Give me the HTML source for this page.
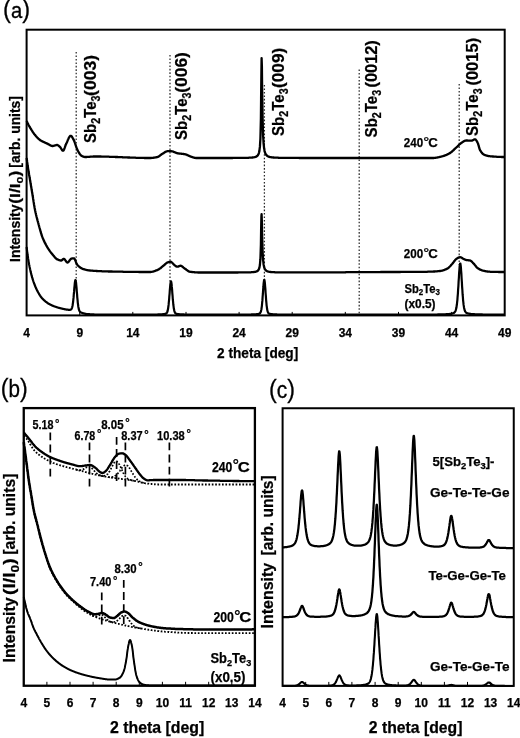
<!DOCTYPE html>
<html lang="en">
<head>
<meta charset="utf-8">
<title>XRD figure</title>
<style>
html,body{margin:0;padding:0;background:#fff;}
body{width:520px;height:738px;overflow:hidden;}
svg{display:block;filter:blur(0.3px);}
text{font-family:"Liberation Sans",sans-serif;fill:#000;}
text[font-weight="700"]{stroke:#000;stroke-width:0.25px;}
</style>
</head>
<body>
<svg width="520" height="738" viewBox="0 0 520 738">
<rect width="520" height="738" fill="#fff"/>
<g id="panel-a">
<line x1="76.2" y1="52.0" x2="76.2" y2="281.0" stroke="#2a2a2a" stroke-width="1.25" stroke-dasharray="1.6 1.86"/>
<line x1="170.0" y1="55.0" x2="170.0" y2="283.0" stroke="#2a2a2a" stroke-width="1.25" stroke-dasharray="1.6 1.86"/>
<line x1="264.4" y1="85.0" x2="264.4" y2="281.0" stroke="#2a2a2a" stroke-width="1.25" stroke-dasharray="1.6 1.86"/>
<line x1="359.2" y1="69.5" x2="359.2" y2="315.4" stroke="#2a2a2a" stroke-width="1.25" stroke-dasharray="1.6 1.86"/>
<line x1="459.2" y1="84.0" x2="459.2" y2="265.0" stroke="#2a2a2a" stroke-width="1.25" stroke-dasharray="1.6 1.86"/>
<path d="M26.6,121.0 L26.9,121.6 L27.1,122.2 L27.4,122.7 L27.6,123.3 L27.9,123.7 L28.1,124.2 L28.4,124.7 L28.6,125.1 L28.9,125.6 L29.1,126.0 L29.4,126.4 L29.6,126.8 L29.9,127.2 L30.1,127.7 L30.4,128.1 L30.6,128.5 L30.9,128.9 L31.1,129.3 L31.4,129.7 L31.6,130.1 L31.9,130.5 L32.1,130.9 L32.4,131.3 L32.6,131.7 L32.9,132.1 L33.1,132.4 L33.4,132.8 L33.6,133.2 L33.9,133.5 L34.1,133.9 L34.4,134.2 L34.6,134.5 L34.9,134.8 L35.1,135.1 L35.4,135.4 L35.6,135.7 L35.9,136.0 L36.1,136.3 L36.4,136.6 L36.6,136.9 L36.9,137.1 L37.1,137.4 L37.4,137.7 L37.6,137.9 L37.9,138.2 L38.1,138.4 L38.4,138.7 L38.6,138.9 L38.9,139.1 L39.1,139.3 L39.4,139.5 L39.6,139.7 L39.9,139.9 L40.1,140.1 L40.4,140.2 L40.6,140.4 L40.9,140.5 L41.1,140.7 L41.4,140.8 L41.6,141.0 L41.9,141.1 L42.1,141.3 L42.4,141.4 L42.6,141.5 L42.9,141.6 L43.1,141.8 L43.4,141.9 L43.6,142.0 L43.9,142.1 L44.1,142.2 L44.4,142.3 L44.6,142.5 L44.9,142.6 L45.1,142.7 L45.4,142.8 L45.6,142.9 L45.9,143.0 L46.1,143.1 L46.4,143.2 L46.6,143.3 L46.9,143.4 L47.1,143.6 L47.4,143.7 L47.6,143.8 L47.9,143.9 L48.1,144.1 L48.4,144.2 L48.6,144.3 L48.9,144.5 L49.1,144.6 L49.4,144.8 L49.6,144.9 L49.9,145.1 L50.1,145.2 L50.4,145.4 L50.6,145.5 L50.9,145.6 L51.1,145.7 L51.4,145.8 L51.6,145.9 L51.9,145.9 L52.1,146.0 L52.4,146.0 L52.6,146.0 L52.9,146.0 L53.1,146.0 L53.4,145.9 L53.6,145.8 L53.9,145.8 L54.1,145.7 L54.4,145.6 L54.6,145.5 L54.9,145.5 L55.1,145.4 L55.4,145.3 L55.6,145.2 L55.9,145.2 L56.1,145.1 L56.4,145.1 L56.6,145.0 L56.9,145.0 L57.1,145.0 L57.4,145.0 L57.6,145.1 L57.9,145.2 L58.1,145.4 L58.4,145.6 L58.6,145.8 L58.9,146.0 L59.1,146.2 L59.4,146.4 L59.6,146.6 L59.9,146.9 L60.1,147.1 L60.4,147.4 L60.6,147.7 L60.9,148.1 L61.1,148.5 L61.4,148.9 L61.6,149.4 L61.9,149.8 L62.1,150.1 L62.4,150.4 L62.6,150.6 L62.9,150.7 L63.1,150.7 L63.4,150.6 L63.6,150.3 L63.9,149.9 L64.1,149.4 L64.3,148.8 L64.6,148.1 L64.8,147.4 L65.1,146.7 L65.3,146.0 L65.6,145.3 L65.8,144.6 L66.1,144.1 L66.3,143.6 L66.6,143.0 L66.8,142.5 L67.1,141.9 L67.3,141.3 L67.6,140.7 L67.8,140.1 L68.1,139.5 L68.3,139.0 L68.6,138.4 L68.8,137.9 L69.1,137.4 L69.3,137.0 L69.6,136.6 L69.8,136.3 L70.1,136.0 L70.3,135.9 L70.6,135.8 L70.8,135.8 L71.1,135.8 L71.3,136.0 L71.6,136.3 L71.8,136.6 L72.1,136.9 L72.3,137.4 L72.6,137.8 L72.8,138.3 L73.1,138.8 L73.3,139.2 L73.6,139.7 L73.8,140.2 L74.1,140.7 L74.3,141.3 L74.6,142.0 L74.8,142.6 L75.1,143.4 L75.3,144.1 L75.6,144.9 L75.8,145.7 L76.1,146.4 L76.3,147.2 L76.6,147.9 L76.8,148.5 L77.1,149.1 L77.3,149.7 L77.6,150.2 L77.8,150.7 L78.1,151.1 L78.3,151.6 L78.6,152.0 L78.8,152.5 L79.1,152.9 L79.3,153.3 L79.6,153.7 L79.8,154.0 L80.1,154.4 L80.3,154.7 L80.6,155.0 L80.8,155.2 L81.1,155.4 L81.3,155.6 L81.6,155.7 L81.8,155.9 L82.1,156.0 L82.3,156.2 L82.6,156.3 L82.8,156.4 L83.1,156.5 L83.3,156.6 L83.6,156.7 L83.8,156.8 L84.1,156.9 L84.3,156.9 L84.6,157.0 L84.8,157.0 L85.1,157.0 L85.3,157.0 L85.6,157.0 L85.8,157.0 L86.1,157.0 L86.3,157.0 L86.6,157.0 L86.8,157.0 L87.1,156.9 L87.3,156.9 L87.6,156.9 L87.8,156.9 L88.1,156.9 L88.3,156.9 L88.6,156.9 L88.8,156.8 L89.1,156.8 L89.3,156.8 L89.6,156.8 L89.8,156.8 L90.1,156.7 L90.3,156.7 L90.6,156.7 L90.8,156.7 L91.1,156.7 L91.3,156.6 L91.6,156.6 L91.8,156.6 L92.1,156.6 L92.3,156.6 L92.6,156.6 L92.8,156.6 L93.1,156.5 L93.3,156.5 L93.6,156.5 L93.8,156.5 L94.1,156.5 L94.3,156.5 L94.6,156.5 L94.8,156.5 L95.1,156.5 L95.3,156.5 L95.6,156.5 L95.8,156.5 L96.1,156.5 L96.3,156.5 L96.6,156.5 L96.8,156.5 L97.1,156.5 L97.3,156.5 L97.6,156.5 L97.8,156.5 L98.1,156.5 L98.3,156.5 L98.6,156.5 L98.8,156.5 L99.1,156.5 L99.3,156.5 L99.6,156.5 L99.8,156.5 L100.1,156.5 L100.3,156.5 L100.6,156.5 L100.8,156.5 L101.1,156.5 L101.3,156.6 L101.6,156.6 L101.8,156.6 L102.1,156.6 L102.3,156.6 L102.6,156.6 L102.8,156.6 L103.1,156.6 L103.3,156.6 L103.6,156.6 L103.8,156.6 L104.1,156.6 L104.3,156.6 L104.6,156.6 L104.8,156.6 L105.1,156.6 L105.3,156.6 L105.6,156.6 L105.8,156.7 L106.1,156.7 L106.3,156.7 L106.6,156.7 L106.8,156.7 L107.1,156.7 L107.3,156.7 L107.6,156.7 L107.8,156.7 L108.1,156.7 L108.3,156.7 L108.6,156.7 L108.8,156.7 L109.1,156.7 L109.3,156.8 L109.6,156.8 L109.8,156.8 L110.1,156.8 L110.3,156.8 L110.6,156.8 L110.8,156.8 L111.1,156.8 L111.3,156.8 L111.6,156.8 L111.8,156.8 L112.1,156.8 L112.3,156.9 L112.6,156.9 L112.8,156.9 L113.1,156.9 L113.3,156.9 L113.6,156.9 L113.8,156.9 L114.1,156.9 L114.3,156.9 L114.6,156.9 L114.8,156.9 L115.1,157.0 L115.3,157.0 L115.6,157.0 L115.8,157.0 L116.1,157.0 L116.3,157.0 L116.6,157.0 L116.8,157.0 L117.1,157.0 L117.3,157.0 L117.6,157.0 L117.8,157.1 L118.1,157.1 L118.3,157.1 L118.6,157.1 L118.8,157.1 L119.1,157.1 L119.3,157.1 L119.6,157.1 L119.8,157.1 L120.1,157.1 L120.3,157.2 L120.6,157.2 L120.8,157.2 L121.1,157.2 L121.3,157.2 L121.6,157.2 L121.8,157.2 L122.1,157.2 L122.3,157.2 L122.6,157.3 L122.8,157.3 L123.1,157.3 L123.3,157.3 L123.6,157.3 L123.8,157.3 L124.1,157.3 L124.3,157.3 L124.6,157.3 L124.8,157.3 L125.1,157.4 L125.3,157.4 L125.6,157.4 L125.8,157.4 L126.1,157.4 L126.3,157.4 L126.6,157.4 L126.8,157.4 L127.1,157.4 L127.3,157.4 L127.6,157.5 L127.8,157.5 L128.1,157.5 L128.3,157.5 L128.6,157.5 L128.8,157.5 L129.1,157.5 L129.3,157.5 L129.6,157.5 L129.8,157.5 L130.1,157.6 L130.3,157.6 L130.6,157.6 L130.8,157.6 L131.1,157.6 L131.3,157.6 L131.6,157.6 L131.8,157.6 L132.1,157.6 L132.3,157.6 L132.6,157.6 L132.8,157.7 L133.1,157.7 L133.3,157.7 L133.6,157.7 L133.8,157.7 L134.1,157.7 L134.3,157.7 L134.6,157.7 L134.8,157.7 L135.1,157.7 L135.3,157.7 L135.6,157.7 L135.8,157.8 L136.1,157.8 L136.3,157.8 L136.6,157.8 L136.8,157.8 L137.1,157.8 L137.3,157.8 L137.6,157.8 L137.8,157.8 L138.1,157.8 L138.3,157.8 L138.6,157.8 L138.8,157.8 L139.1,157.8 L139.3,157.9 L139.6,157.9 L139.8,157.9 L140.1,157.9 L140.3,157.9 L140.6,157.9 L140.8,157.9 L141.1,157.9 L141.3,157.9 L141.6,157.9 L141.8,157.9 L142.1,157.9 L142.3,157.9 L142.6,157.9 L142.8,157.9 L143.1,157.9 L143.3,157.9 L143.6,157.9 L143.8,157.9 L144.1,157.9 L144.3,158.0 L144.6,158.0 L144.8,158.0 L145.1,158.0 L145.3,158.0 L145.6,158.0 L145.8,158.0 L146.1,158.0 L146.3,158.0 L146.6,158.0 L146.8,158.0 L147.1,158.0 L147.3,158.0 L147.6,158.0 L147.8,158.0 L148.1,158.0 L148.3,158.0 L148.6,158.0 L148.8,158.0 L149.1,158.0 L149.3,158.0 L149.6,158.0 L149.8,158.0 L150.1,158.0 L150.3,158.0 L150.6,158.0 L150.8,158.0 L151.1,158.0 L151.3,158.0 L151.6,157.9 L151.8,157.9 L152.1,157.9 L152.3,157.9 L152.6,157.9 L152.8,157.8 L153.1,157.8 L153.3,157.8 L153.6,157.7 L153.8,157.7 L154.1,157.7 L154.3,157.6 L154.6,157.6 L154.8,157.5 L155.1,157.5 L155.3,157.4 L155.6,157.4 L155.8,157.4 L156.1,157.3 L156.3,157.3 L156.6,157.2 L156.8,157.1 L157.1,157.1 L157.3,157.0 L157.6,157.0 L157.8,156.9 L158.1,156.8 L158.3,156.7 L158.6,156.5 L158.8,156.4 L159.1,156.2 L159.3,156.1 L159.6,155.9 L159.8,155.7 L160.1,155.5 L160.3,155.3 L160.6,155.1 L160.8,154.9 L161.1,154.7 L161.3,154.5 L161.6,154.3 L161.8,154.2 L162.1,154.0 L162.3,153.8 L162.6,153.7 L162.8,153.5 L163.1,153.4 L163.3,153.2 L163.6,153.1 L163.8,152.9 L164.1,152.7 L164.3,152.6 L164.6,152.4 L164.8,152.2 L165.1,152.1 L165.3,151.9 L165.6,151.8 L165.8,151.7 L166.1,151.6 L166.3,151.5 L166.6,151.4 L166.8,151.3 L167.1,151.3 L167.3,151.2 L167.6,151.2 L167.8,151.2 L168.1,151.2 L168.3,151.2 L168.6,151.2 L168.8,151.2 L169.1,151.2 L169.3,151.2 L169.6,151.2 L169.8,151.2 L170.1,151.2 L170.3,151.2 L170.6,151.2 L170.8,151.2 L171.1,151.2 L171.3,151.2 L171.6,151.3 L171.8,151.3 L172.1,151.3 L172.3,151.4 L172.6,151.4 L172.8,151.5 L173.1,151.6 L173.3,151.7 L173.6,151.8 L173.8,151.9 L174.1,152.0 L174.3,152.1 L174.6,152.2 L174.8,152.3 L175.1,152.4 L175.3,152.5 L175.6,152.6 L175.8,152.7 L176.1,152.8 L176.3,152.9 L176.6,153.0 L176.8,153.1 L177.1,153.2 L177.3,153.2 L177.6,153.3 L177.8,153.3 L178.1,153.4 L178.3,153.4 L178.6,153.4 L178.8,153.5 L179.1,153.5 L179.3,153.5 L179.6,153.6 L179.8,153.6 L180.1,153.6 L180.3,153.6 L180.6,153.7 L180.8,153.7 L181.1,153.7 L181.3,153.7 L181.6,153.8 L181.8,153.8 L182.1,153.8 L182.3,153.8 L182.6,153.9 L182.8,153.9 L183.1,153.9 L183.3,154.0 L183.6,154.0 L183.8,154.0 L184.1,154.1 L184.3,154.1 L184.6,154.2 L184.8,154.2 L185.1,154.3 L185.3,154.3 L185.6,154.4 L185.8,154.5 L186.1,154.6 L186.3,154.6 L186.6,154.7 L186.8,154.8 L187.1,154.9 L187.3,155.1 L187.6,155.2 L187.8,155.3 L188.1,155.4 L188.3,155.5 L188.6,155.6 L188.8,155.8 L189.1,155.9 L189.3,156.0 L189.6,156.1 L189.8,156.2 L190.1,156.3 L190.3,156.4 L190.6,156.5 L190.8,156.6 L191.1,156.7 L191.3,156.8 L191.6,156.9 L191.8,156.9 L192.1,157.0 L192.3,157.1 L192.6,157.2 L192.8,157.3 L193.1,157.4 L193.3,157.4 L193.6,157.5 L193.8,157.6 L194.1,157.7 L194.3,157.7 L194.6,157.8 L194.8,157.8 L195.1,157.9 L195.3,157.9 L195.6,158.0 L195.8,158.0 L196.1,158.0 L196.3,158.0 L196.6,158.0 L196.8,158.0 L197.1,158.0 L197.3,158.0 L197.6,158.0 L197.8,158.0 L198.1,158.0 L198.3,158.0 L198.6,158.0 L198.8,158.0 L199.1,158.0 L199.3,158.0 L199.6,158.0 L199.8,158.0 L200.1,158.0 L200.3,158.0 L200.6,158.0 L200.8,158.0 L201.1,158.0 L201.3,158.0 L201.6,158.0 L201.8,158.0 L202.1,158.0 L202.3,158.0 L202.6,158.0 L202.8,158.0 L203.1,158.0 L203.3,158.0 L203.6,158.0 L203.8,158.0 L204.1,158.0 L204.3,158.0 L204.6,158.0 L204.8,158.0 L205.1,158.0 L205.3,158.0 L205.6,158.0 L205.8,158.0 L206.1,158.0 L206.3,158.0 L206.6,158.0 L206.8,158.0 L207.1,158.0 L207.3,158.0 L207.6,158.0 L207.8,158.0 L208.1,158.0 L208.3,158.0 L208.6,158.0 L208.8,158.0 L209.1,158.0 L209.3,158.0 L209.6,158.0 L209.8,158.0 L210.1,158.0 L210.3,158.0 L210.6,158.0 L210.8,158.0 L211.1,158.0 L211.3,158.0 L211.6,158.0 L211.8,158.0 L212.1,158.0 L212.3,158.0 L212.6,158.0 L212.8,158.0 L213.1,158.0 L213.3,158.0 L213.6,158.0 L213.8,158.0 L214.1,158.0 L214.3,158.0 L214.6,158.0 L214.8,158.0 L215.1,158.0 L215.3,158.0 L215.6,158.0 L215.8,158.0 L216.1,158.0 L216.3,158.0 L216.6,158.0 L216.8,158.0 L217.1,158.0 L217.3,158.0 L217.6,158.0 L217.8,158.0 L218.1,158.0 L218.3,158.0 L218.6,158.0 L218.8,158.0 L219.1,158.0 L219.3,158.0 L219.6,158.0 L219.8,158.0 L220.1,158.0 L220.3,158.0 L220.6,158.0 L220.8,158.0 L221.1,158.0 L221.3,158.0 L221.6,158.0 L221.8,158.0 L222.1,158.0 L222.3,158.0 L222.6,158.0 L222.8,158.0 L223.1,158.0 L223.3,158.0 L223.6,158.0 L223.8,158.0 L224.1,158.0 L224.3,158.0 L224.6,158.0 L224.8,158.0 L225.1,158.0 L225.3,158.0 L225.6,158.0 L225.8,158.0 L226.1,158.0 L226.3,158.0 L226.6,158.0 L226.8,158.0 L227.1,158.0 L227.3,158.0 L227.6,158.0 L227.8,158.0 L228.1,158.0 L228.3,158.0 L228.6,158.0 L228.8,158.0 L229.1,158.0 L229.3,158.0 L229.6,158.0 L229.8,158.0 L230.1,158.0 L230.3,158.0 L230.6,158.0 L230.8,158.0 L231.1,158.0 L231.3,158.0 L231.6,158.0 L231.8,158.0 L232.1,158.0 L232.3,158.0 L232.6,158.0 L232.8,157.9 L233.1,157.9 L233.3,157.9 L233.6,157.9 L233.8,157.9 L234.1,157.9 L234.3,157.9 L234.6,157.9 L234.8,157.9 L235.1,157.9 L235.3,157.9 L235.6,157.9 L235.8,157.9 L236.1,157.9 L236.3,157.9 L236.6,157.9 L236.8,157.9 L237.1,157.9 L237.3,157.9 L237.6,157.9 L237.8,157.9 L238.1,157.9 L238.3,157.9 L238.6,157.9 L238.8,157.9 L239.1,157.9 L239.3,157.9 L239.6,157.9 L239.8,157.9 L240.1,157.9 L240.3,157.9 L240.6,157.9 L240.8,157.9 L241.1,157.9 L241.3,157.9 L241.6,157.9 L241.8,157.9 L242.1,157.9 L242.3,157.9 L242.6,157.9 L242.8,157.9 L243.1,157.9 L243.3,157.9 L243.6,157.9 L243.8,157.9 L244.1,157.9 L244.3,157.9 L244.6,157.9 L244.8,157.9 L245.1,157.8 L245.3,157.8 L245.6,157.8 L245.8,157.8 L246.1,157.8 L246.3,157.8 L246.6,157.8 L246.8,157.8 L247.1,157.8 L247.3,157.8 L247.6,157.8 L247.8,157.8 L248.1,157.8 L248.3,157.8 L248.6,157.8 L248.8,157.7 L249.1,157.7 L249.3,157.7 L249.6,157.7 L249.8,157.7 L250.1,157.7 L250.3,157.7 L250.6,157.7 L250.8,157.6 L251.1,157.6 L251.3,157.6 L251.6,157.6 L251.8,157.6 L252.1,157.5 L252.3,157.5 L252.6,157.5 L252.8,157.5 L253.1,157.4 L253.3,157.4 L253.6,157.4 L253.8,157.3 L254.1,157.3 L254.3,157.2 L254.6,157.2 L254.8,157.1 L255.1,157.0 L255.3,157.0 L255.6,156.9 L255.8,156.8 L256.1,156.7 L256.4,156.5 L256.6,156.4 L256.9,156.2 L257.1,156.0 L257.4,155.8 L257.6,155.5 L257.9,155.2 L258.1,154.8 L258.4,154.4 L258.6,153.8 L258.9,153.1 L259.1,152.1 L259.4,150.9 L259.6,149.2 L259.9,146.9 L260.1,143.6 L260.4,138.7 L260.6,131.0 L260.9,118.5 L261.1,98.7 L261.4,72.7 L261.6,58.1 L261.9,66.9 L262.1,85.9 L262.4,104.4 L262.6,118.5 L262.9,128.5 L263.1,135.4 L263.4,140.2 L263.6,143.7 L263.9,146.3 L264.1,148.3 L264.4,149.8 L264.6,151.0 L264.9,152.0 L265.1,152.8 L265.4,153.4 L265.6,153.9 L265.9,154.4 L266.1,154.7 L266.4,155.1 L266.6,155.3 L266.9,155.6 L267.1,155.8 L267.4,156.0 L267.6,156.1 L267.9,156.3 L268.1,156.4 L268.4,156.5 L268.6,156.6 L268.9,156.7 L269.1,156.8 L269.4,156.9 L269.6,156.9 L269.9,157.0 L270.1,157.1 L270.4,157.1 L270.6,157.2 L270.9,157.2 L271.1,157.2 L271.4,157.3 L271.6,157.3 L271.9,157.3 L272.1,157.4 L272.4,157.4 L272.6,157.4 L272.9,157.5 L273.1,157.5 L273.4,157.5 L273.6,157.5 L273.9,157.5 L274.1,157.6 L274.4,157.6 L274.6,157.6 L274.9,157.6 L275.1,157.6 L275.4,157.6 L275.6,157.6 L275.9,157.7 L276.1,157.7 L276.4,157.7 L276.6,157.7 L276.9,157.7 L277.1,157.7 L277.4,157.7 L277.6,157.7 L277.9,157.7 L278.1,157.7 L278.4,157.8 L278.6,157.8 L278.9,157.8 L279.1,157.8 L279.4,157.8 L279.6,157.8 L279.9,157.8 L280.1,157.8 L280.4,157.8 L280.6,157.8 L280.9,157.8 L281.1,157.8 L281.4,157.8 L281.6,157.8 L281.9,157.8 L282.1,157.8 L282.4,157.8 L282.6,157.8 L282.9,157.8 L283.1,157.8 L283.4,157.9 L283.6,157.9 L283.9,157.9 L284.1,157.9 L284.4,157.9 L284.6,157.9 L284.9,157.9 L285.1,157.9 L285.4,157.9 L285.6,157.9 L285.9,157.9 L286.1,157.9 L286.4,157.9 L286.6,157.9 L286.9,157.9 L287.1,157.9 L287.4,157.9 L287.6,157.9 L287.9,157.9 L288.1,157.9 L288.4,157.9 L288.6,157.9 L288.9,157.9 L289.1,157.9 L289.4,157.9 L289.6,157.9 L289.9,157.9 L290.1,157.9 L290.4,157.9 L290.6,157.9 L290.9,157.9 L291.1,157.9 L291.4,157.9 L291.6,157.9 L291.9,157.9 L292.1,157.9 L292.4,157.9 L292.6,157.9 L292.9,157.9 L293.1,157.9 L293.4,157.9 L293.6,157.9 L293.9,157.9 L294.1,157.9 L294.4,157.9 L294.6,157.9 L294.9,157.9 L295.1,157.9 L295.4,157.9 L295.6,157.9 L295.9,157.9 L296.1,157.9 L296.4,157.9 L296.6,157.9 L296.9,157.9 L297.1,157.9 L297.4,157.9 L297.6,157.9 L297.9,157.9 L298.1,157.9 L298.4,157.9 L298.6,157.9 L298.9,157.9 L299.1,158.0 L299.4,158.0 L299.6,158.0 L299.9,158.0 L300.1,158.0 L300.4,158.0 L300.6,158.0 L300.9,158.0 L301.1,158.0 L301.4,158.0 L301.6,158.0 L301.9,158.0 L302.1,158.0 L302.4,158.0 L302.6,158.0 L302.9,158.0 L303.1,158.0 L303.4,158.0 L303.6,158.0 L303.9,158.0 L304.1,158.0 L304.4,158.0 L304.6,158.0 L304.9,158.0 L305.1,158.0 L305.4,158.0 L305.6,158.0 L305.9,158.0 L306.1,158.0 L306.4,158.0 L306.6,158.0 L306.9,158.0 L307.1,158.0 L307.4,158.0 L307.6,158.0 L307.9,158.0 L308.1,158.0 L308.4,158.0 L308.6,158.0 L308.9,158.0 L309.1,158.0 L309.4,158.0 L309.6,158.0 L309.9,158.0 L310.1,158.0 L310.4,158.0 L310.6,158.0 L310.9,158.0 L311.1,158.0 L311.4,158.0 L311.6,158.0 L311.9,158.0 L312.1,158.0 L312.4,158.0 L312.6,158.0 L312.9,158.0 L313.1,158.0 L313.4,158.0 L313.6,158.0 L313.9,158.0 L314.1,158.0 L314.4,158.0 L314.6,158.0 L314.9,158.0 L315.1,158.0 L315.4,158.0 L315.6,158.0 L315.9,158.0 L316.1,158.0 L316.4,158.0 L316.6,158.0 L316.9,158.0 L317.1,158.0 L317.4,158.0 L317.6,158.0 L317.9,158.0 L318.1,158.0 L318.4,158.0 L318.6,158.0 L318.9,158.0 L319.1,158.0 L319.4,158.0 L319.6,158.0 L319.9,158.0 L320.1,158.0 L320.4,158.0 L320.6,158.0 L320.9,158.0 L321.1,158.0 L321.4,158.0 L321.6,158.0 L321.9,158.0 L322.1,158.0 L322.4,158.0 L322.6,158.0 L322.9,158.0 L323.1,158.0 L323.4,158.0 L323.6,158.0 L323.9,158.0 L324.1,158.0 L324.4,158.0 L324.6,158.0 L324.9,158.0 L325.1,158.0 L325.4,158.0 L325.6,158.0 L325.9,158.0 L326.1,158.0 L326.4,158.0 L326.6,158.0 L326.9,158.0 L327.1,158.0 L327.4,158.0 L327.6,158.0 L327.9,158.0 L328.1,158.0 L328.4,158.0 L328.6,158.0 L328.9,158.0 L329.1,158.0 L329.4,158.0 L329.6,158.0 L329.9,158.0 L330.1,158.0 L330.4,158.0 L330.6,158.0 L330.9,158.0 L331.1,158.0 L331.4,158.0 L331.6,158.0 L331.9,158.0 L332.1,158.0 L332.4,158.0 L332.6,158.0 L332.9,158.0 L333.1,158.0 L333.4,158.0 L333.6,158.0 L333.9,158.0 L334.1,158.0 L334.4,158.0 L334.6,158.0 L334.9,158.0 L335.1,158.0 L335.4,158.0 L335.6,158.0 L335.9,158.0 L336.1,158.0 L336.4,158.0 L336.6,158.0 L336.9,158.0 L337.1,158.0 L337.4,158.0 L337.6,158.0 L337.9,158.0 L338.1,158.0 L338.4,158.0 L338.6,158.0 L338.9,158.0 L339.1,158.0 L339.4,158.0 L339.6,158.0 L339.9,158.0 L340.1,158.0 L340.4,158.0 L340.6,158.0 L340.9,158.0 L341.1,158.0 L341.4,158.0 L341.6,158.0 L341.9,158.0 L342.1,158.0 L342.4,158.0 L342.6,158.0 L342.9,158.0 L343.1,158.0 L343.4,158.0 L343.6,158.0 L343.9,158.0 L344.1,158.0 L344.4,158.0 L344.6,158.0 L344.9,158.0 L345.1,158.0 L345.4,158.0 L345.6,158.0 L345.9,158.0 L346.1,158.0 L346.4,158.0 L346.6,158.0 L346.9,158.0 L347.1,158.0 L347.4,158.0 L347.6,158.0 L347.9,158.0 L348.1,158.0 L348.4,158.0 L348.6,158.0 L348.9,158.0 L349.1,158.0 L349.4,158.0 L349.6,158.0 L349.9,158.0 L350.1,158.0 L350.4,158.0 L350.6,158.0 L350.9,158.0 L351.1,158.0 L351.4,158.0 L351.6,158.0 L351.9,158.0 L352.1,158.0 L352.4,158.0 L352.6,158.0 L352.9,158.0 L353.1,158.0 L353.4,158.0 L353.6,158.0 L353.9,158.0 L354.1,158.0 L354.4,158.0 L354.6,158.0 L354.9,158.0 L355.1,158.0 L355.4,158.0 L355.6,158.0 L355.9,158.0 L356.1,158.0 L356.4,158.0 L356.6,158.0 L356.9,158.0 L357.1,158.0 L357.4,158.0 L357.6,158.0 L357.9,158.0 L358.1,158.0 L358.4,158.0 L358.6,158.0 L358.9,158.0 L359.1,158.0 L359.4,158.0 L359.6,158.0 L359.9,158.0 L360.1,158.0 L360.4,158.0 L360.6,158.0 L360.9,158.0 L361.1,158.0 L361.4,158.0 L361.6,158.0 L361.9,158.0 L362.1,158.0 L362.4,158.0 L362.6,158.0 L362.9,158.0 L363.1,158.0 L363.4,158.0 L363.6,158.0 L363.9,158.0 L364.1,158.0 L364.4,158.0 L364.6,158.0 L364.9,158.0 L365.1,158.0 L365.4,158.0 L365.6,158.0 L365.9,158.0 L366.1,158.0 L366.4,158.0 L366.6,158.0 L366.9,158.0 L367.1,158.0 L367.4,158.0 L367.6,158.0 L367.9,158.0 L368.1,158.0 L368.4,158.0 L368.6,158.0 L368.9,158.0 L369.1,158.0 L369.4,158.0 L369.6,158.0 L369.9,158.0 L370.1,158.0 L370.4,158.0 L370.6,158.0 L370.9,158.0 L371.1,158.0 L371.4,158.0 L371.6,158.0 L371.9,158.0 L372.1,158.0 L372.4,158.0 L372.6,158.0 L372.9,158.0 L373.1,158.0 L373.4,158.0 L373.6,158.0 L373.9,158.0 L374.1,158.0 L374.4,158.0 L374.6,158.0 L374.9,158.0 L375.1,158.0 L375.4,158.0 L375.6,158.0 L375.9,158.0 L376.1,158.0 L376.4,158.0 L376.6,158.0 L376.9,158.0 L377.1,158.0 L377.4,158.0 L377.6,158.0 L377.9,158.0 L378.1,158.0 L378.4,158.0 L378.6,158.0 L378.9,158.0 L379.1,158.0 L379.4,158.0 L379.6,158.0 L379.9,158.0 L380.1,158.0 L380.4,158.0 L380.6,158.0 L380.9,158.0 L381.1,158.0 L381.4,158.0 L381.6,158.0 L381.9,158.0 L382.1,158.0 L382.4,158.0 L382.6,158.0 L382.9,158.0 L383.1,158.0 L383.4,158.0 L383.6,158.0 L383.9,158.0 L384.1,158.0 L384.4,158.0 L384.6,158.0 L384.9,158.0 L385.1,158.0 L385.4,158.0 L385.6,158.0 L385.9,158.0 L386.1,158.0 L386.4,158.0 L386.6,158.0 L386.9,158.0 L387.1,158.0 L387.4,158.0 L387.6,158.0 L387.9,158.0 L388.1,158.0 L388.4,158.0 L388.6,158.0 L388.9,158.0 L389.1,158.0 L389.4,158.0 L389.6,158.0 L389.9,158.0 L390.1,158.0 L390.4,158.0 L390.6,158.0 L390.9,158.0 L391.1,158.0 L391.4,158.0 L391.6,158.0 L391.9,158.0 L392.1,158.0 L392.4,158.0 L392.6,158.0 L392.9,158.0 L393.1,158.0 L393.4,158.0 L393.6,158.0 L393.9,158.0 L394.1,158.0 L394.4,158.0 L394.6,158.0 L394.9,158.0 L395.1,158.0 L395.4,158.0 L395.6,158.0 L395.9,158.0 L396.1,158.0 L396.4,158.0 L396.6,158.0 L396.9,158.0 L397.1,158.0 L397.4,158.0 L397.6,158.0 L397.9,158.0 L398.1,158.0 L398.4,158.0 L398.6,158.0 L398.9,158.0 L399.1,158.0 L399.4,158.0 L399.6,158.0 L399.9,158.0 L400.1,158.0 L400.4,158.0 L400.6,158.0 L400.9,158.0 L401.1,158.0 L401.4,158.0 L401.6,158.0 L401.9,158.0 L402.1,158.0 L402.4,158.0 L402.6,158.0 L402.9,158.0 L403.1,158.0 L403.4,158.0 L403.6,158.0 L403.9,158.0 L404.1,158.0 L404.4,158.0 L404.6,158.0 L404.9,158.0 L405.1,158.0 L405.4,158.0 L405.6,158.0 L405.9,158.0 L406.1,158.0 L406.4,158.0 L406.6,158.0 L406.9,158.0 L407.1,158.0 L407.4,158.0 L407.6,158.0 L407.9,158.0 L408.1,158.0 L408.4,158.0 L408.6,158.0 L408.9,158.0 L409.1,158.0 L409.4,158.0 L409.6,158.0 L409.9,158.0 L410.1,158.0 L410.4,158.0 L410.6,158.0 L410.9,158.0 L411.1,158.0 L411.4,158.0 L411.6,158.0 L411.9,158.0 L412.1,158.0 L412.4,158.0 L412.6,158.0 L412.9,158.0 L413.1,158.0 L413.4,158.0 L413.6,158.0 L413.9,158.0 L414.1,158.0 L414.4,158.0 L414.6,158.0 L414.9,158.0 L415.1,158.0 L415.4,158.0 L415.6,158.0 L415.9,158.0 L416.1,158.0 L416.4,158.0 L416.6,158.0 L416.9,158.0 L417.1,158.0 L417.4,158.0 L417.6,158.0 L417.9,158.0 L418.1,158.0 L418.4,158.0 L418.6,158.0 L418.9,158.0 L419.1,158.0 L419.4,158.0 L419.6,158.0 L419.9,158.0 L420.1,158.0 L420.4,158.0 L420.6,158.0 L420.9,158.0 L421.1,158.0 L421.4,158.0 L421.6,158.0 L421.9,158.0 L422.1,158.0 L422.4,158.0 L422.6,158.0 L422.9,158.0 L423.1,158.0 L423.4,158.0 L423.6,158.0 L423.9,158.0 L424.1,158.0 L424.4,158.0 L424.6,158.0 L424.9,158.0 L425.1,158.0 L425.4,158.0 L425.6,158.0 L425.9,158.0 L426.1,158.0 L426.4,158.0 L426.6,158.0 L426.9,158.0 L427.1,158.0 L427.4,158.0 L427.6,158.0 L427.9,158.0 L428.1,158.0 L428.4,158.0 L428.6,158.0 L428.9,158.0 L429.1,158.0 L429.4,158.0 L429.6,158.0 L429.9,158.0 L430.1,158.0 L430.4,158.0 L430.6,158.0 L430.9,158.0 L431.1,158.0 L431.4,158.0 L431.6,158.0 L431.9,158.0 L432.1,158.0 L432.4,158.0 L432.6,158.0 L432.9,158.0 L433.1,158.0 L433.4,158.0 L433.6,158.0 L433.9,158.0 L434.1,157.9 L434.4,157.9 L434.6,157.9 L434.9,157.9 L435.1,157.8 L435.4,157.8 L435.6,157.8 L435.9,157.7 L436.1,157.7 L436.4,157.7 L436.6,157.6 L436.9,157.6 L437.1,157.5 L437.4,157.5 L437.6,157.4 L437.9,157.4 L438.1,157.3 L438.4,157.3 L438.6,157.2 L438.9,157.2 L439.1,157.1 L439.4,157.0 L439.6,157.0 L439.9,156.9 L440.1,156.9 L440.4,156.8 L440.6,156.7 L440.9,156.7 L441.1,156.6 L441.4,156.5 L441.6,156.5 L441.9,156.4 L442.1,156.3 L442.4,156.3 L442.6,156.2 L442.9,156.2 L443.1,156.1 L443.4,156.0 L443.6,155.9 L443.9,155.9 L444.1,155.8 L444.4,155.7 L444.6,155.6 L444.9,155.5 L445.1,155.4 L445.4,155.3 L445.6,155.2 L445.9,155.1 L446.1,155.0 L446.4,154.9 L446.6,154.8 L446.9,154.7 L447.1,154.5 L447.4,154.4 L447.6,154.3 L447.9,154.2 L448.1,154.0 L448.4,153.9 L448.6,153.8 L448.9,153.6 L449.1,153.5 L449.4,153.4 L449.6,153.2 L449.9,153.1 L450.1,152.9 L450.4,152.8 L450.6,152.6 L450.9,152.4 L451.1,152.3 L451.4,152.1 L451.6,151.9 L451.9,151.6 L452.1,151.4 L452.4,151.2 L452.6,151.0 L452.9,150.7 L453.1,150.5 L453.4,150.3 L453.6,150.0 L453.9,149.8 L454.1,149.5 L454.4,149.3 L454.6,149.1 L454.9,148.8 L455.1,148.6 L455.4,148.3 L455.6,148.1 L455.9,147.9 L456.1,147.6 L456.4,147.4 L456.6,147.2 L456.9,146.9 L457.1,146.7 L457.4,146.5 L457.6,146.2 L457.9,146.0 L458.1,145.7 L458.4,145.5 L458.6,145.2 L458.9,145.0 L459.1,144.8 L459.4,144.5 L459.6,144.3 L459.9,144.1 L460.1,143.9 L460.4,143.7 L460.6,143.5 L460.9,143.3 L461.1,143.1 L461.4,142.9 L461.6,142.8 L461.9,142.6 L462.1,142.4 L462.4,142.3 L462.6,142.1 L462.9,141.9 L463.1,141.8 L463.4,141.6 L463.6,141.4 L463.9,141.3 L464.1,141.1 L464.4,141.0 L464.6,140.9 L464.9,140.8 L465.1,140.7 L465.4,140.6 L465.6,140.6 L465.9,140.5 L466.1,140.5 L466.4,140.5 L466.6,140.5 L466.9,140.5 L467.1,140.5 L467.4,140.5 L467.6,140.5 L467.9,140.6 L468.1,140.6 L468.4,140.6 L468.6,140.6 L468.9,140.6 L469.1,140.6 L469.4,140.7 L469.6,140.7 L469.9,140.7 L470.1,140.7 L470.4,140.7 L470.6,140.7 L470.9,140.7 L471.1,140.7 L471.4,140.7 L471.6,140.7 L471.9,140.6 L472.1,140.6 L472.4,140.4 L472.6,140.3 L472.9,140.2 L473.1,140.0 L473.4,139.9 L473.6,139.7 L473.9,139.6 L474.1,139.5 L474.4,139.4 L474.6,139.3 L474.9,139.3 L475.1,139.3 L475.4,139.3 L475.6,139.5 L475.9,139.8 L476.1,140.1 L476.4,140.5 L476.6,140.9 L476.9,141.3 L477.1,141.8 L477.4,142.2 L477.6,142.7 L477.9,143.3 L478.1,144.0 L478.4,144.8 L478.6,145.7 L478.9,146.6 L479.1,147.5 L479.4,148.3 L479.6,149.1 L479.9,149.7 L480.1,150.2 L480.4,150.6 L480.6,151.0 L480.9,151.4 L481.1,151.8 L481.4,152.2 L481.6,152.5 L481.9,152.8 L482.1,153.1 L482.4,153.4 L482.6,153.7 L482.9,153.9 L483.1,154.1 L483.4,154.3 L483.6,154.4 L483.9,154.5 L484.1,154.7 L484.4,154.8 L484.6,154.9 L484.9,155.0 L485.1,155.1 L485.4,155.2 L485.6,155.3 L485.9,155.4 L486.1,155.4 L486.4,155.5 L486.6,155.6 L486.9,155.7 L487.1,155.7 L487.4,155.8 L487.6,155.9 L487.9,155.9 L488.1,156.0 L488.4,156.0 L488.6,156.1 L488.9,156.1 L489.1,156.1 L489.4,156.2 L489.6,156.2 L489.9,156.2 L490.1,156.3 L490.4,156.3 L490.6,156.3 L490.9,156.3 L491.1,156.3 L491.4,156.4 L491.6,156.4 L491.9,156.4 L492.1,156.4 L492.4,156.5 L492.6,156.5 L492.9,156.5 L493.1,156.5 L493.4,156.5 L493.6,156.6 L493.9,156.6 L494.1,156.6 L494.4,156.6 L494.6,156.6 L494.9,156.6 L495.1,156.7 L495.4,156.7 L495.6,156.7 L495.9,156.7 L496.1,156.7 L496.4,156.7 L496.6,156.8 L496.9,156.8 L497.1,156.8 L497.4,156.8 L497.6,156.8 L497.9,156.8 L498.1,156.8 L498.4,156.8 L498.6,156.9 L498.9,156.9 L499.1,156.9 L499.4,156.9 L499.6,156.9 L499.9,156.9 L500.1,156.9 L500.4,156.9 L500.6,156.9 L500.9,156.9 L501.1,156.9 L501.4,157.0 L501.6,157.0 L501.9,157.0 L502.1,157.0 L502.4,157.0 L502.6,157.0 L502.9,157.0 L503.1,157.0 L503.4,157.0 L503.6,157.0 L503.9,157.0 L504.1,157.0 L504.4,157.0 L504.6,157.0" fill="none" stroke="#000" stroke-width="2.30" stroke-linejoin="round" stroke-linecap="butt" />
<path d="M26.6,158.0 L26.9,159.9 L27.1,161.7 L27.4,163.5 L27.6,165.3 L27.9,167.0 L28.1,168.6 L28.4,170.2 L28.6,171.8 L28.9,173.3 L29.1,174.7 L29.4,176.2 L29.6,177.6 L29.9,179.1 L30.1,180.6 L30.4,182.1 L30.6,183.6 L30.9,185.1 L31.1,186.6 L31.4,188.1 L31.6,189.6 L31.9,191.1 L32.1,192.6 L32.4,194.1 L32.6,195.6 L32.9,197.1 L33.1,198.7 L33.4,200.3 L33.6,201.9 L33.9,203.5 L34.1,205.0 L34.4,206.5 L34.6,207.9 L34.9,209.2 L35.1,210.5 L35.4,211.7 L35.6,212.8 L35.9,213.9 L36.1,215.0 L36.4,216.0 L36.6,217.0 L36.9,218.0 L37.1,218.9 L37.4,219.9 L37.6,220.8 L37.9,221.7 L38.1,222.6 L38.4,223.5 L38.6,224.5 L38.9,225.4 L39.1,226.3 L39.4,227.2 L39.6,228.1 L39.9,229.0 L40.1,229.9 L40.4,230.8 L40.6,231.7 L40.9,232.5 L41.1,233.4 L41.4,234.2 L41.6,235.0 L41.9,235.7 L42.1,236.4 L42.4,237.1 L42.6,237.8 L42.9,238.4 L43.1,239.0 L43.4,239.6 L43.6,240.1 L43.9,240.7 L44.1,241.2 L44.4,241.7 L44.6,242.3 L44.9,242.8 L45.1,243.2 L45.4,243.7 L45.6,244.2 L45.9,244.7 L46.1,245.1 L46.4,245.5 L46.6,246.0 L46.9,246.4 L47.1,246.8 L47.4,247.3 L47.6,247.7 L47.9,248.1 L48.1,248.5 L48.4,248.9 L48.6,249.2 L48.9,249.6 L49.1,250.0 L49.4,250.4 L49.6,250.7 L49.9,251.1 L50.1,251.4 L50.4,251.8 L50.6,252.1 L50.9,252.5 L51.1,252.8 L51.4,253.1 L51.6,253.4 L51.9,253.7 L52.1,254.0 L52.4,254.3 L52.6,254.6 L52.9,254.9 L53.1,255.2 L53.4,255.5 L53.6,255.8 L53.9,256.1 L54.1,256.4 L54.4,256.7 L54.6,257.0 L54.9,257.3 L55.1,257.6 L55.4,257.8 L55.6,258.1 L55.9,258.3 L56.1,258.6 L56.4,258.8 L56.6,259.0 L56.9,259.2 L57.1,259.3 L57.4,259.4 L57.6,259.5 L57.9,259.6 L58.1,259.7 L58.4,259.8 L58.6,259.9 L58.9,260.0 L59.1,260.1 L59.4,260.2 L59.6,260.3 L59.9,260.3 L60.1,260.4 L60.4,260.4 L60.6,260.5 L60.9,260.5 L61.1,260.5 L61.4,260.5 L61.6,260.4 L61.9,260.2 L62.1,260.0 L62.4,259.8 L62.6,259.5 L62.9,259.3 L63.1,259.0 L63.4,258.9 L63.6,258.8 L63.9,258.8 L64.1,258.8 L64.3,259.0 L64.6,259.2 L64.8,259.5 L65.1,259.9 L65.3,260.2 L65.6,260.6 L65.8,261.0 L66.1,261.3 L66.3,261.7 L66.6,262.0 L66.8,262.2 L67.1,262.4 L67.3,262.5 L67.6,262.5 L67.8,262.4 L68.1,262.3 L68.3,262.1 L68.6,261.8 L68.8,261.5 L69.1,261.2 L69.3,260.8 L69.6,260.5 L69.8,260.1 L70.1,259.8 L70.3,259.5 L70.6,259.2 L70.8,259.0 L71.1,258.8 L71.3,258.7 L71.6,258.6 L71.8,258.6 L72.1,258.5 L72.3,258.4 L72.6,258.4 L72.8,258.3 L73.1,258.3 L73.3,258.3 L73.6,258.3 L73.8,258.3 L74.1,258.4 L74.3,258.6 L74.6,259.0 L74.8,259.4 L75.1,259.9 L75.3,260.5 L75.6,261.1 L75.8,261.7 L76.1,262.3 L76.3,262.9 L76.6,263.5 L76.8,264.0 L77.1,264.4 L77.3,264.8 L77.6,265.1 L77.8,265.4 L78.1,265.6 L78.3,265.9 L78.6,266.1 L78.8,266.4 L79.1,266.6 L79.3,266.8 L79.6,267.0 L79.8,267.2 L80.1,267.4 L80.3,267.6 L80.6,267.8 L80.8,267.9 L81.1,268.1 L81.3,268.2 L81.6,268.3 L81.8,268.5 L82.1,268.6 L82.3,268.7 L82.6,268.8 L82.8,268.9 L83.1,269.0 L83.3,269.1 L83.6,269.1 L83.8,269.2 L84.1,269.3 L84.3,269.4 L84.6,269.4 L84.8,269.5 L85.1,269.6 L85.3,269.7 L85.6,269.7 L85.8,269.8 L86.1,269.8 L86.3,269.9 L86.6,270.0 L86.8,270.0 L87.1,270.1 L87.3,270.1 L87.6,270.2 L87.8,270.2 L88.1,270.3 L88.3,270.3 L88.6,270.3 L88.8,270.4 L89.1,270.4 L89.3,270.4 L89.6,270.5 L89.8,270.5 L90.1,270.5 L90.3,270.5 L90.6,270.6 L90.8,270.6 L91.1,270.6 L91.3,270.6 L91.6,270.6 L91.8,270.7 L92.1,270.7 L92.3,270.7 L92.6,270.7 L92.8,270.7 L93.1,270.8 L93.3,270.8 L93.6,270.8 L93.8,270.8 L94.1,270.8 L94.3,270.8 L94.6,270.9 L94.8,270.9 L95.1,270.9 L95.3,270.9 L95.6,270.9 L95.8,270.9 L96.1,271.0 L96.3,271.0 L96.6,271.0 L96.8,271.0 L97.1,271.0 L97.3,271.0 L97.6,271.1 L97.8,271.1 L98.1,271.1 L98.3,271.1 L98.6,271.1 L98.8,271.1 L99.1,271.1 L99.3,271.1 L99.6,271.2 L99.8,271.2 L100.1,271.2 L100.3,271.2 L100.6,271.2 L100.8,271.2 L101.1,271.2 L101.3,271.2 L101.6,271.2 L101.8,271.3 L102.1,271.3 L102.3,271.3 L102.6,271.3 L102.8,271.3 L103.1,271.3 L103.3,271.3 L103.6,271.3 L103.8,271.3 L104.1,271.3 L104.3,271.3 L104.6,271.4 L104.8,271.4 L105.1,271.4 L105.3,271.4 L105.6,271.4 L105.8,271.4 L106.1,271.4 L106.3,271.4 L106.6,271.4 L106.8,271.4 L107.1,271.4 L107.3,271.4 L107.6,271.4 L107.8,271.4 L108.1,271.5 L108.3,271.5 L108.6,271.5 L108.8,271.5 L109.1,271.5 L109.3,271.5 L109.6,271.5 L109.8,271.5 L110.1,271.5 L110.3,271.5 L110.6,271.5 L110.8,271.5 L111.1,271.5 L111.3,271.5 L111.6,271.5 L111.8,271.5 L112.1,271.5 L112.3,271.5 L112.6,271.6 L112.8,271.6 L113.1,271.6 L113.3,271.6 L113.6,271.6 L113.8,271.6 L114.1,271.6 L114.3,271.6 L114.6,271.6 L114.8,271.6 L115.1,271.6 L115.3,271.6 L115.6,271.6 L115.8,271.6 L116.1,271.6 L116.3,271.6 L116.6,271.6 L116.8,271.6 L117.1,271.6 L117.3,271.6 L117.6,271.7 L117.8,271.7 L118.1,271.7 L118.3,271.7 L118.6,271.7 L118.8,271.7 L119.1,271.7 L119.3,271.7 L119.6,271.7 L119.8,271.7 L120.1,271.7 L120.3,271.7 L120.6,271.7 L120.8,271.7 L121.1,271.7 L121.3,271.7 L121.6,271.7 L121.8,271.7 L122.1,271.7 L122.3,271.7 L122.6,271.7 L122.8,271.7 L123.1,271.8 L123.3,271.8 L123.6,271.8 L123.8,271.8 L124.1,271.8 L124.3,271.8 L124.6,271.8 L124.8,271.8 L125.1,271.8 L125.3,271.8 L125.6,271.8 L125.8,271.8 L126.1,271.8 L126.3,271.8 L126.6,271.8 L126.8,271.8 L127.1,271.8 L127.3,271.8 L127.6,271.8 L127.8,271.8 L128.1,271.8 L128.3,271.8 L128.6,271.8 L128.8,271.8 L129.1,271.8 L129.3,271.8 L129.6,271.9 L129.8,271.9 L130.1,271.9 L130.3,271.9 L130.6,271.9 L130.8,271.9 L131.1,271.9 L131.3,271.9 L131.6,271.9 L131.8,271.9 L132.1,271.9 L132.3,271.9 L132.6,271.9 L132.8,271.9 L133.1,271.9 L133.3,271.9 L133.6,271.9 L133.8,271.9 L134.1,271.9 L134.3,271.9 L134.6,271.9 L134.8,271.9 L135.1,271.9 L135.3,271.9 L135.6,271.9 L135.8,271.9 L136.1,271.9 L136.3,271.9 L136.6,271.9 L136.8,271.9 L137.1,271.9 L137.3,271.9 L137.6,271.9 L137.8,271.9 L138.1,271.9 L138.3,271.9 L138.6,271.9 L138.8,272.0 L139.1,272.0 L139.3,272.0 L139.6,272.0 L139.8,272.0 L140.1,272.0 L140.3,272.0 L140.6,272.0 L140.8,272.0 L141.1,272.0 L141.3,272.0 L141.6,272.0 L141.8,272.0 L142.1,272.0 L142.3,272.0 L142.6,272.0 L142.8,272.0 L143.1,272.0 L143.3,272.0 L143.6,272.0 L143.8,272.0 L144.1,272.0 L144.3,272.0 L144.6,272.0 L144.8,272.0 L145.1,272.0 L145.3,272.0 L145.6,272.0 L145.8,272.0 L146.1,272.0 L146.3,272.0 L146.6,272.0 L146.8,272.0 L147.1,272.0 L147.3,272.0 L147.6,272.0 L147.8,272.0 L148.1,272.0 L148.3,272.0 L148.6,272.0 L148.8,272.0 L149.1,272.0 L149.3,272.0 L149.6,272.0 L149.8,272.0 L150.1,272.0 L150.3,272.0 L150.6,272.0 L150.8,272.0 L151.1,271.9 L151.3,271.9 L151.6,271.9 L151.8,271.8 L152.1,271.8 L152.3,271.7 L152.6,271.7 L152.8,271.6 L153.1,271.6 L153.3,271.5 L153.6,271.4 L153.8,271.3 L154.1,271.3 L154.3,271.2 L154.6,271.1 L154.8,271.0 L155.1,270.9 L155.3,270.8 L155.6,270.7 L155.8,270.6 L156.1,270.5 L156.3,270.4 L156.6,270.4 L156.8,270.3 L157.1,270.2 L157.3,270.1 L157.6,270.0 L157.8,269.8 L158.1,269.7 L158.3,269.6 L158.6,269.5 L158.8,269.3 L159.1,269.1 L159.3,269.0 L159.6,268.8 L159.8,268.6 L160.1,268.4 L160.3,268.2 L160.6,268.1 L160.8,267.9 L161.1,267.7 L161.3,267.4 L161.6,267.2 L161.8,267.0 L162.1,266.8 L162.3,266.6 L162.6,266.4 L162.8,266.2 L163.1,266.0 L163.3,265.8 L163.6,265.6 L163.8,265.4 L164.1,265.2 L164.3,265.0 L164.6,264.8 L164.8,264.5 L165.1,264.3 L165.3,264.1 L165.6,263.8 L165.8,263.6 L166.1,263.4 L166.3,263.2 L166.6,263.0 L166.8,262.8 L167.1,262.7 L167.3,262.6 L167.6,262.5 L167.8,262.4 L168.1,262.3 L168.3,262.2 L168.6,262.1 L168.8,262.0 L169.1,262.0 L169.3,261.9 L169.6,261.8 L169.8,261.8 L170.1,261.8 L170.3,261.7 L170.6,261.8 L170.8,261.8 L171.1,261.9 L171.3,262.0 L171.6,262.2 L171.8,262.4 L172.1,262.6 L172.3,262.9 L172.6,263.1 L172.8,263.4 L173.1,263.7 L173.3,263.9 L173.6,264.2 L173.8,264.5 L174.1,264.8 L174.3,265.0 L174.6,265.2 L174.8,265.4 L175.1,265.6 L175.3,265.7 L175.6,265.9 L175.8,266.1 L176.1,266.2 L176.3,266.4 L176.6,266.5 L176.8,266.6 L177.1,266.7 L177.3,266.7 L177.6,266.7 L177.8,266.7 L178.1,266.6 L178.3,266.6 L178.6,266.4 L178.8,266.3 L179.1,266.2 L179.3,266.1 L179.6,266.0 L179.8,265.9 L180.1,265.8 L180.3,265.8 L180.6,265.7 L180.8,265.8 L181.1,265.8 L181.3,265.9 L181.6,266.1 L181.8,266.2 L182.1,266.4 L182.3,266.6 L182.6,266.8 L182.8,267.0 L183.1,267.2 L183.3,267.4 L183.6,267.6 L183.8,267.9 L184.1,268.1 L184.3,268.3 L184.6,268.5 L184.8,268.6 L185.1,268.8 L185.3,269.0 L185.6,269.1 L185.8,269.3 L186.1,269.5 L186.3,269.7 L186.6,269.9 L186.8,270.1 L187.1,270.3 L187.3,270.4 L187.6,270.6 L187.8,270.8 L188.1,271.0 L188.3,271.1 L188.6,271.2 L188.8,271.4 L189.1,271.5 L189.3,271.6 L189.6,271.7 L189.8,271.7 L190.1,271.8 L190.3,271.8 L190.6,271.8 L190.8,271.9 L191.1,271.9 L191.3,271.9 L191.6,272.0 L191.8,272.0 L192.1,272.0 L192.3,272.0 L192.6,272.1 L192.8,272.1 L193.1,272.1 L193.3,272.2 L193.6,272.2 L193.8,272.2 L194.1,272.2 L194.3,272.2 L194.6,272.3 L194.8,272.3 L195.1,272.3 L195.3,272.3 L195.6,272.3 L195.8,272.4 L196.1,272.4 L196.3,272.4 L196.6,272.4 L196.8,272.4 L197.1,272.4 L197.3,272.4 L197.6,272.4 L197.8,272.5 L198.1,272.5 L198.3,272.5 L198.6,272.5 L198.8,272.5 L199.1,272.5 L199.3,272.5 L199.6,272.5 L199.8,272.5 L200.1,272.5 L200.3,272.5 L200.6,272.5 L200.8,272.5 L201.1,272.5 L201.3,272.5 L201.6,272.5 L201.8,272.5 L202.1,272.5 L202.3,272.5 L202.6,272.5 L202.8,272.5 L203.1,272.5 L203.3,272.5 L203.6,272.5 L203.8,272.5 L204.1,272.5 L204.3,272.5 L204.6,272.5 L204.8,272.5 L205.1,272.5 L205.3,272.5 L205.6,272.5 L205.8,272.5 L206.1,272.5 L206.3,272.5 L206.6,272.5 L206.8,272.5 L207.1,272.5 L207.3,272.5 L207.6,272.5 L207.8,272.5 L208.1,272.5 L208.3,272.5 L208.6,272.5 L208.8,272.5 L209.1,272.5 L209.3,272.5 L209.6,272.5 L209.8,272.5 L210.1,272.5 L210.3,272.5 L210.6,272.5 L210.8,272.5 L211.1,272.5 L211.3,272.5 L211.6,272.5 L211.8,272.5 L212.1,272.5 L212.3,272.5 L212.6,272.5 L212.8,272.5 L213.1,272.5 L213.3,272.5 L213.6,272.5 L213.8,272.5 L214.1,272.5 L214.3,272.5 L214.6,272.5 L214.8,272.5 L215.1,272.5 L215.3,272.5 L215.6,272.5 L215.8,272.5 L216.1,272.5 L216.3,272.5 L216.6,272.5 L216.8,272.5 L217.1,272.5 L217.3,272.5 L217.6,272.5 L217.8,272.5 L218.1,272.5 L218.3,272.5 L218.6,272.5 L218.8,272.5 L219.1,272.5 L219.3,272.5 L219.6,272.5 L219.8,272.5 L220.1,272.5 L220.3,272.5 L220.6,272.5 L220.8,272.5 L221.1,272.5 L221.3,272.5 L221.6,272.5 L221.8,272.5 L222.1,272.5 L222.3,272.5 L222.6,272.5 L222.8,272.5 L223.1,272.5 L223.3,272.5 L223.6,272.5 L223.8,272.5 L224.1,272.5 L224.3,272.5 L224.6,272.5 L224.8,272.5 L225.1,272.5 L225.3,272.5 L225.6,272.5 L225.8,272.5 L226.1,272.5 L226.3,272.5 L226.6,272.5 L226.8,272.5 L227.1,272.5 L227.3,272.5 L227.6,272.5 L227.8,272.5 L228.1,272.5 L228.3,272.5 L228.6,272.5 L228.8,272.5 L229.1,272.5 L229.3,272.5 L229.6,272.5 L229.8,272.5 L230.1,272.5 L230.3,272.5 L230.6,272.5 L230.8,272.5 L231.1,272.5 L231.3,272.5 L231.6,272.5 L231.8,272.5 L232.1,272.5 L232.3,272.5 L232.6,272.5 L232.8,272.5 L233.1,272.5 L233.3,272.5 L233.6,272.5 L233.8,272.5 L234.1,272.5 L234.3,272.5 L234.6,272.5 L234.8,272.5 L235.1,272.5 L235.3,272.5 L235.6,272.5 L235.8,272.5 L236.1,272.5 L236.3,272.5 L236.6,272.5 L236.8,272.5 L237.1,272.5 L237.3,272.5 L237.6,272.5 L237.8,272.5 L238.1,272.5 L238.3,272.4 L238.6,272.4 L238.8,272.4 L239.1,272.4 L239.3,272.4 L239.6,272.4 L239.8,272.4 L240.1,272.4 L240.3,272.4 L240.6,272.4 L240.8,272.4 L241.1,272.4 L241.3,272.4 L241.6,272.4 L241.8,272.4 L242.1,272.4 L242.3,272.4 L242.6,272.4 L242.8,272.4 L243.1,272.4 L243.3,272.4 L243.6,272.4 L243.8,272.4 L244.1,272.4 L244.3,272.4 L244.6,272.4 L244.8,272.4 L245.1,272.4 L245.3,272.4 L245.6,272.4 L245.8,272.4 L246.1,272.4 L246.3,272.4 L246.6,272.4 L246.8,272.4 L247.1,272.4 L247.3,272.4 L247.6,272.4 L247.8,272.4 L248.1,272.3 L248.3,272.3 L248.6,272.3 L248.8,272.3 L249.1,272.3 L249.3,272.3 L249.6,272.3 L249.8,272.3 L250.1,272.3 L250.3,272.3 L250.6,272.3 L250.8,272.3 L251.1,272.3 L251.3,272.2 L251.6,272.2 L251.8,272.2 L252.1,272.2 L252.3,272.2 L252.6,272.2 L252.8,272.1 L253.1,272.1 L253.3,272.1 L253.6,272.1 L253.8,272.0 L254.1,272.0 L254.3,272.0 L254.6,271.9 L254.8,271.9 L255.1,271.9 L255.3,271.8 L255.6,271.8 L255.8,271.7 L256.1,271.6 L256.4,271.5 L256.6,271.4 L256.9,271.3 L257.1,271.2 L257.4,271.0 L257.6,270.9 L257.9,270.6 L258.1,270.4 L258.4,270.1 L258.6,269.7 L258.9,269.2 L259.1,268.6 L259.4,267.7 L259.6,266.6 L259.9,265.0 L260.1,262.7 L260.4,259.2 L260.6,253.7 L260.9,244.8 L261.1,231.2 L261.4,216.7 L261.6,214.2 L261.9,222.7 L262.1,234.3 L262.4,244.3 L262.6,251.5 L262.9,256.6 L263.1,260.2 L263.4,262.7 L263.6,264.5 L263.9,265.9 L264.1,267.0 L264.4,267.8 L264.6,268.5 L264.9,269.0 L265.1,269.4 L265.4,269.8 L265.6,270.1 L265.9,270.3 L266.1,270.6 L266.4,270.7 L266.6,270.9 L266.9,271.0 L267.1,271.2 L267.4,271.3 L267.6,271.4 L267.9,271.5 L268.1,271.5 L268.4,271.6 L268.6,271.7 L268.9,271.7 L269.1,271.8 L269.4,271.8 L269.6,271.9 L269.9,271.9 L270.1,271.9 L270.4,272.0 L270.6,272.0 L270.9,272.0 L271.1,272.0 L271.4,272.1 L271.6,272.1 L271.9,272.1 L272.1,272.1 L272.4,272.1 L272.6,272.2 L272.9,272.2 L273.1,272.2 L273.4,272.2 L273.6,272.2 L273.9,272.2 L274.1,272.2 L274.4,272.2 L274.6,272.2 L274.9,272.3 L275.1,272.3 L275.4,272.3 L275.6,272.3 L275.9,272.3 L276.1,272.3 L276.4,272.3 L276.6,272.3 L276.9,272.3 L277.1,272.3 L277.4,272.3 L277.6,272.3 L277.9,272.3 L278.1,272.3 L278.4,272.3 L278.6,272.4 L278.9,272.4 L279.1,272.4 L279.4,272.4 L279.6,272.4 L279.9,272.4 L280.1,272.4 L280.4,272.4 L280.6,272.4 L280.9,272.4 L281.1,272.4 L281.4,272.4 L281.6,272.4 L281.9,272.4 L282.1,272.4 L282.4,272.4 L282.6,272.4 L282.9,272.4 L283.1,272.4 L283.4,272.4 L283.6,272.4 L283.9,272.4 L284.1,272.4 L284.4,272.4 L284.6,272.4 L284.9,272.4 L285.1,272.4 L285.4,272.4 L285.6,272.4 L285.9,272.4 L286.1,272.4 L286.4,272.4 L286.6,272.4 L286.9,272.4 L287.1,272.4 L287.4,272.4 L287.6,272.4 L287.9,272.4 L288.1,272.4 L288.4,272.4 L288.6,272.4 L288.9,272.4 L289.1,272.4 L289.4,272.4 L289.6,272.4 L289.9,272.4 L290.1,272.4 L290.4,272.4 L290.6,272.4 L290.9,272.4 L291.1,272.4 L291.4,272.4 L291.6,272.4 L291.9,272.4 L292.1,272.4 L292.4,272.4 L292.6,272.4 L292.9,272.4 L293.1,272.4 L293.4,272.4 L293.6,272.4 L293.9,272.4 L294.1,272.4 L294.4,272.4 L294.6,272.4 L294.9,272.4 L295.1,272.4 L295.4,272.4 L295.6,272.4 L295.9,272.4 L296.1,272.4 L296.4,272.4 L296.6,272.4 L296.9,272.4 L297.1,272.4 L297.4,272.4 L297.6,272.4 L297.9,272.4 L298.1,272.4 L298.4,272.4 L298.6,272.4 L298.9,272.4 L299.1,272.4 L299.4,272.4 L299.6,272.4 L299.9,272.4 L300.1,272.4 L300.4,272.4 L300.6,272.4 L300.9,272.4 L301.1,272.4 L301.4,272.4 L301.6,272.4 L301.9,272.4 L302.1,272.4 L302.4,272.4 L302.6,272.4 L302.9,272.4 L303.1,272.4 L303.4,272.4 L303.6,272.4 L303.9,272.4 L304.1,272.4 L304.4,272.4 L304.6,272.4 L304.9,272.4 L305.1,272.4 L305.4,272.4 L305.6,272.4 L305.9,272.4 L306.1,272.4 L306.4,272.4 L306.6,272.4 L306.9,272.4 L307.1,272.4 L307.4,272.4 L307.6,272.4 L307.9,272.4 L308.1,272.4 L308.4,272.4 L308.6,272.4 L308.9,272.4 L309.1,272.4 L309.4,272.4 L309.6,272.4 L309.9,272.4 L310.1,272.4 L310.4,272.4 L310.6,272.4 L310.9,272.4 L311.1,272.4 L311.4,272.4 L311.6,272.4 L311.9,272.4 L312.1,272.4 L312.4,272.4 L312.6,272.4 L312.9,272.4 L313.1,272.4 L313.4,272.4 L313.6,272.4 L313.9,272.4 L314.1,272.4 L314.4,272.4 L314.6,272.4 L314.9,272.4 L315.1,272.4 L315.4,272.4 L315.6,272.4 L315.9,272.4 L316.1,272.4 L316.4,272.4 L316.6,272.4 L316.9,272.4 L317.1,272.4 L317.4,272.4 L317.6,272.4 L317.9,272.4 L318.1,272.4 L318.4,272.4 L318.6,272.4 L318.9,272.4 L319.1,272.4 L319.4,272.4 L319.6,272.4 L319.9,272.4 L320.1,272.4 L320.4,272.4 L320.6,272.4 L320.9,272.4 L321.1,272.4 L321.4,272.4 L321.6,272.4 L321.9,272.4 L322.1,272.4 L322.4,272.4 L322.6,272.4 L322.9,272.4 L323.1,272.4 L323.4,272.4 L323.6,272.4 L323.9,272.4 L324.1,272.4 L324.4,272.4 L324.6,272.4 L324.9,272.4 L325.1,272.4 L325.4,272.4 L325.6,272.4 L325.9,272.4 L326.1,272.4 L326.4,272.3 L326.6,272.3 L326.9,272.3 L327.1,272.3 L327.4,272.3 L327.6,272.3 L327.9,272.3 L328.1,272.3 L328.4,272.3 L328.6,272.3 L328.9,272.3 L329.1,272.3 L329.4,272.3 L329.6,272.3 L329.9,272.3 L330.1,272.3 L330.4,272.3 L330.6,272.3 L330.9,272.3 L331.1,272.3 L331.4,272.3 L331.6,272.3 L331.9,272.3 L332.1,272.3 L332.4,272.3 L332.6,272.3 L332.9,272.3 L333.1,272.3 L333.4,272.3 L333.6,272.3 L333.9,272.3 L334.1,272.3 L334.4,272.3 L334.6,272.3 L334.9,272.3 L335.1,272.3 L335.4,272.3 L335.6,272.3 L335.9,272.3 L336.1,272.3 L336.4,272.3 L336.6,272.3 L336.9,272.3 L337.1,272.3 L337.4,272.3 L337.6,272.3 L337.9,272.3 L338.1,272.3 L338.4,272.3 L338.6,272.3 L338.9,272.3 L339.1,272.3 L339.4,272.3 L339.6,272.3 L339.9,272.3 L340.1,272.3 L340.4,272.3 L340.6,272.3 L340.9,272.3 L341.1,272.3 L341.4,272.3 L341.6,272.3 L341.9,272.3 L342.1,272.3 L342.4,272.3 L342.6,272.3 L342.9,272.3 L343.1,272.3 L343.4,272.3 L343.6,272.3 L343.9,272.3 L344.1,272.3 L344.4,272.3 L344.6,272.3 L344.9,272.3 L345.1,272.3 L345.4,272.3 L345.6,272.3 L345.9,272.2 L346.1,272.2 L346.4,272.2 L346.6,272.2 L346.9,272.2 L347.1,272.2 L347.4,272.2 L347.6,272.2 L347.9,272.2 L348.1,272.2 L348.4,272.2 L348.6,272.2 L348.9,272.2 L349.1,272.2 L349.4,272.2 L349.6,272.2 L349.9,272.2 L350.1,272.2 L350.4,272.2 L350.6,272.2 L350.9,272.2 L351.1,272.2 L351.4,272.2 L351.6,272.2 L351.9,272.2 L352.1,272.2 L352.4,272.2 L352.6,272.2 L352.9,272.2 L353.1,272.2 L353.4,272.2 L353.6,272.2 L353.9,272.2 L354.1,272.2 L354.4,272.2 L354.6,272.2 L354.9,272.2 L355.1,272.2 L355.4,272.2 L355.6,272.2 L355.9,272.2 L356.1,272.2 L356.4,272.2 L356.6,272.2 L356.9,272.2 L357.1,272.2 L357.4,272.2 L357.6,272.2 L357.9,272.2 L358.1,272.2 L358.4,272.2 L358.6,272.2 L358.9,272.2 L359.1,272.2 L359.4,272.2 L359.6,272.2 L359.9,272.2 L360.1,272.2 L360.4,272.2 L360.6,272.2 L360.9,272.2 L361.1,272.2 L361.4,272.2 L361.6,272.2 L361.9,272.2 L362.1,272.2 L362.4,272.2 L362.6,272.2 L362.9,272.2 L363.1,272.2 L363.4,272.1 L363.6,272.1 L363.9,272.1 L364.1,272.1 L364.4,272.1 L364.6,272.1 L364.9,272.1 L365.1,272.1 L365.4,272.1 L365.6,272.1 L365.9,272.1 L366.1,272.1 L366.4,272.1 L366.6,272.1 L366.9,272.1 L367.1,272.1 L367.4,272.1 L367.6,272.1 L367.9,272.1 L368.1,272.1 L368.4,272.1 L368.6,272.1 L368.9,272.1 L369.1,272.1 L369.4,272.1 L369.6,272.1 L369.9,272.1 L370.1,272.1 L370.4,272.1 L370.6,272.1 L370.9,272.1 L371.1,272.1 L371.4,272.1 L371.6,272.1 L371.9,272.1 L372.1,272.1 L372.4,272.1 L372.6,272.1 L372.9,272.1 L373.1,272.1 L373.4,272.1 L373.6,272.1 L373.9,272.1 L374.1,272.1 L374.4,272.1 L374.6,272.1 L374.9,272.1 L375.1,272.1 L375.4,272.1 L375.6,272.1 L375.9,272.1 L376.1,272.1 L376.4,272.1 L376.6,272.1 L376.9,272.1 L377.1,272.1 L377.4,272.1 L377.6,272.1 L377.9,272.1 L378.1,272.1 L378.4,272.1 L378.6,272.1 L378.9,272.1 L379.1,272.1 L379.4,272.1 L379.6,272.1 L379.9,272.1 L380.1,272.1 L380.4,272.1 L380.6,272.0 L380.9,272.0 L381.1,272.0 L381.4,272.0 L381.6,272.0 L381.9,272.0 L382.1,272.0 L382.4,272.0 L382.6,272.0 L382.9,272.0 L383.1,272.0 L383.4,272.0 L383.6,272.0 L383.9,272.0 L384.1,272.0 L384.4,272.0 L384.6,272.0 L384.9,272.0 L385.1,272.0 L385.4,272.0 L385.6,272.0 L385.9,272.0 L386.1,272.0 L386.4,272.0 L386.6,272.0 L386.9,272.0 L387.1,272.0 L387.4,272.0 L387.6,272.0 L387.9,272.0 L388.1,272.0 L388.4,272.0 L388.6,272.0 L388.9,272.0 L389.1,272.0 L389.4,272.0 L389.6,272.0 L389.9,272.0 L390.1,272.0 L390.4,272.0 L390.6,272.0 L390.9,272.0 L391.1,272.0 L391.4,272.0 L391.6,272.0 L391.9,272.0 L392.1,272.0 L392.4,272.0 L392.6,272.0 L392.9,272.0 L393.1,272.0 L393.4,272.0 L393.6,272.0 L393.9,272.0 L394.1,272.0 L394.4,272.0 L394.6,272.0 L394.9,272.0 L395.1,272.0 L395.4,272.0 L395.6,272.0 L395.9,272.0 L396.1,272.0 L396.4,272.0 L396.6,272.0 L396.9,272.0 L397.1,272.0 L397.4,272.0 L397.6,272.0 L397.9,272.0 L398.1,272.0 L398.4,272.0 L398.6,272.0 L398.9,272.0 L399.1,272.0 L399.4,272.0 L399.6,272.0 L399.9,272.0 L400.1,272.0 L400.4,272.0 L400.6,271.9 L400.9,271.9 L401.1,271.9 L401.4,271.9 L401.6,271.9 L401.9,271.9 L402.1,271.9 L402.4,271.9 L402.6,271.9 L402.9,271.9 L403.1,271.9 L403.4,271.9 L403.6,271.9 L403.9,271.9 L404.1,271.9 L404.4,271.9 L404.6,271.9 L404.9,271.9 L405.1,271.9 L405.4,271.9 L405.6,271.9 L405.9,271.9 L406.1,271.9 L406.4,271.9 L406.6,271.9 L406.9,271.9 L407.1,271.9 L407.4,271.9 L407.6,271.9 L407.9,271.9 L408.1,271.9 L408.4,271.9 L408.6,271.9 L408.9,271.9 L409.1,271.9 L409.4,271.9 L409.6,271.9 L409.9,271.9 L410.1,271.9 L410.4,271.9 L410.6,271.9 L410.9,271.9 L411.1,271.9 L411.4,271.9 L411.6,271.9 L411.9,271.9 L412.1,271.9 L412.4,271.9 L412.6,271.9 L412.9,271.9 L413.1,271.9 L413.4,271.9 L413.6,271.9 L413.9,271.9 L414.1,271.9 L414.4,271.9 L414.6,271.9 L414.9,271.9 L415.1,271.9 L415.4,271.9 L415.6,271.9 L415.9,271.9 L416.1,271.9 L416.4,271.9 L416.6,271.9 L416.9,271.9 L417.1,271.9 L417.4,271.9 L417.6,271.9 L417.9,271.9 L418.1,271.9 L418.4,271.8 L418.6,271.8 L418.9,271.8 L419.1,271.8 L419.4,271.8 L419.6,271.8 L419.9,271.8 L420.1,271.8 L420.4,271.8 L420.6,271.8 L420.9,271.8 L421.1,271.8 L421.4,271.8 L421.6,271.8 L421.9,271.8 L422.1,271.8 L422.4,271.8 L422.6,271.8 L422.9,271.8 L423.1,271.8 L423.4,271.8 L423.6,271.8 L423.9,271.8 L424.1,271.8 L424.4,271.8 L424.6,271.8 L424.9,271.8 L425.1,271.8 L425.4,271.8 L425.6,271.8 L425.9,271.8 L426.1,271.8 L426.4,271.8 L426.6,271.8 L426.9,271.8 L427.1,271.8 L427.4,271.8 L427.6,271.7 L427.9,271.7 L428.1,271.7 L428.4,271.7 L428.6,271.7 L428.9,271.7 L429.1,271.7 L429.4,271.7 L429.6,271.7 L429.9,271.7 L430.1,271.7 L430.4,271.7 L430.6,271.7 L430.9,271.7 L431.1,271.7 L431.4,271.6 L431.6,271.6 L431.9,271.6 L432.1,271.6 L432.4,271.6 L432.6,271.6 L432.9,271.6 L433.1,271.6 L433.4,271.5 L433.6,271.5 L433.9,271.5 L434.1,271.5 L434.4,271.5 L434.6,271.5 L434.9,271.5 L435.1,271.4 L435.4,271.4 L435.6,271.4 L435.9,271.4 L436.1,271.4 L436.4,271.3 L436.6,271.3 L436.9,271.3 L437.1,271.3 L437.4,271.3 L437.6,271.2 L437.9,271.2 L438.1,271.2 L438.4,271.2 L438.6,271.1 L438.9,271.1 L439.1,271.1 L439.4,271.1 L439.6,271.0 L439.9,271.0 L440.1,271.0 L440.4,271.0 L440.6,270.9 L440.9,270.9 L441.1,270.8 L441.4,270.8 L441.6,270.7 L441.9,270.7 L442.1,270.6 L442.4,270.6 L442.6,270.5 L442.9,270.4 L443.1,270.3 L443.4,270.3 L443.6,270.2 L443.9,270.1 L444.1,270.0 L444.4,269.9 L444.6,269.8 L444.9,269.7 L445.1,269.6 L445.4,269.5 L445.6,269.4 L445.9,269.3 L446.1,269.2 L446.4,269.1 L446.6,268.9 L446.9,268.8 L447.1,268.7 L447.4,268.6 L447.6,268.4 L447.9,268.3 L448.1,268.1 L448.4,267.9 L448.6,267.7 L448.9,267.5 L449.1,267.3 L449.4,267.0 L449.6,266.8 L449.9,266.5 L450.1,266.3 L450.4,266.0 L450.6,265.7 L450.9,265.4 L451.1,265.1 L451.4,264.8 L451.6,264.5 L451.9,264.2 L452.1,263.9 L452.4,263.7 L452.6,263.4 L452.9,263.1 L453.1,262.8 L453.4,262.5 L453.6,262.1 L453.9,261.8 L454.1,261.4 L454.4,261.1 L454.6,260.8 L454.9,260.4 L455.1,260.1 L455.4,259.8 L455.6,259.6 L455.9,259.3 L456.1,259.1 L456.4,258.9 L456.6,258.8 L456.9,258.6 L457.1,258.4 L457.4,258.2 L457.6,258.1 L457.9,257.9 L458.1,257.8 L458.4,257.7 L458.6,257.5 L458.9,257.4 L459.1,257.3 L459.4,257.3 L459.6,257.2 L459.9,257.2 L460.1,257.2 L460.4,257.2 L460.6,257.3 L460.9,257.4 L461.1,257.5 L461.4,257.6 L461.6,257.7 L461.9,257.9 L462.1,258.0 L462.4,258.2 L462.6,258.4 L462.9,258.5 L463.1,258.7 L463.4,258.8 L463.6,258.9 L463.9,259.0 L464.1,259.2 L464.4,259.3 L464.6,259.4 L464.9,259.5 L465.1,259.6 L465.4,259.7 L465.6,259.8 L465.9,259.9 L466.1,260.0 L466.4,260.0 L466.6,260.1 L466.9,260.1 L467.1,260.1 L467.4,260.2 L467.6,260.2 L467.9,260.2 L468.1,260.2 L468.4,260.3 L468.6,260.3 L468.9,260.3 L469.1,260.3 L469.4,260.4 L469.6,260.4 L469.9,260.5 L470.1,260.5 L470.4,260.6 L470.6,260.7 L470.9,260.9 L471.1,261.1 L471.4,261.3 L471.6,261.5 L471.9,261.7 L472.1,262.0 L472.4,262.3 L472.6,262.5 L472.9,262.8 L473.1,263.1 L473.4,263.3 L473.6,263.6 L473.9,263.8 L474.1,264.1 L474.4,264.4 L474.6,264.7 L474.9,265.0 L475.1,265.3 L475.4,265.6 L475.6,266.0 L475.9,266.3 L476.1,266.6 L476.4,266.9 L476.6,267.2 L476.9,267.4 L477.1,267.7 L477.4,267.9 L477.6,268.1 L477.9,268.2 L478.1,268.4 L478.4,268.6 L478.6,268.7 L478.9,268.9 L479.1,269.0 L479.4,269.2 L479.6,269.3 L479.9,269.5 L480.1,269.6 L480.4,269.7 L480.6,269.8 L480.9,269.9 L481.1,270.0 L481.4,270.1 L481.6,270.2 L481.9,270.3 L482.1,270.4 L482.4,270.5 L482.6,270.5 L482.9,270.6 L483.1,270.7 L483.4,270.7 L483.6,270.8 L483.9,270.8 L484.1,270.9 L484.4,270.9 L484.6,271.0 L484.9,271.1 L485.1,271.1 L485.4,271.2 L485.6,271.2 L485.9,271.3 L486.1,271.3 L486.4,271.4 L486.6,271.4 L486.9,271.4 L487.1,271.5 L487.4,271.5 L487.6,271.5 L487.9,271.6 L488.1,271.6 L488.4,271.6 L488.6,271.7 L488.9,271.7 L489.1,271.7 L489.4,271.7 L489.6,271.7 L489.9,271.7 L490.1,271.8 L490.4,271.8 L490.6,271.8 L490.9,271.8 L491.1,271.8 L491.4,271.8 L491.6,271.8 L491.9,271.8 L492.1,271.8 L492.4,271.8 L492.6,271.8 L492.9,271.8 L493.1,271.8 L493.4,271.8 L493.6,271.9 L493.9,271.9 L494.1,271.9 L494.4,271.9 L494.6,271.9 L494.9,271.9 L495.1,271.9 L495.4,271.9 L495.6,271.9 L495.9,271.9 L496.1,271.9 L496.4,271.9 L496.6,271.9 L496.9,271.9 L497.1,271.9 L497.4,271.9 L497.6,271.9 L497.9,271.9 L498.1,271.9 L498.4,272.0 L498.6,272.0 L498.9,272.0 L499.1,272.0 L499.4,272.0 L499.6,272.0 L499.9,272.0 L500.1,272.0 L500.4,272.0 L500.6,272.0 L500.9,272.0 L501.1,272.0 L501.4,272.0 L501.6,272.0 L501.9,272.0 L502.1,272.0 L502.4,272.0 L502.6,272.0 L502.9,272.0 L503.1,272.0 L503.4,272.0 L503.6,272.0 L503.9,272.0 L504.1,272.0 L504.4,272.0 L504.6,272.0" fill="none" stroke="#000" stroke-width="2.30" stroke-linejoin="round" stroke-linecap="butt" />
<path d="M26.6,247.0 L26.9,249.2 L27.1,251.3 L27.4,253.2 L27.6,255.0 L27.9,256.8 L28.1,258.5 L28.4,260.1 L28.6,261.6 L28.9,263.1 L29.1,264.5 L29.4,265.7 L29.6,267.0 L29.9,268.2 L30.1,269.3 L30.4,270.5 L30.6,271.6 L30.9,272.6 L31.1,273.6 L31.4,274.6 L31.6,275.6 L31.9,276.5 L32.1,277.4 L32.4,278.2 L32.6,279.0 L32.9,279.8 L33.1,280.6 L33.4,281.3 L33.6,282.1 L33.9,282.8 L34.1,283.5 L34.4,284.1 L34.6,284.8 L34.9,285.4 L35.1,286.1 L35.4,286.7 L35.6,287.3 L35.9,287.8 L36.1,288.4 L36.4,288.9 L36.6,289.5 L36.9,290.0 L37.1,290.5 L37.4,290.9 L37.6,291.4 L37.9,291.9 L38.1,292.3 L38.4,292.8 L38.6,293.2 L38.9,293.6 L39.1,294.1 L39.4,294.5 L39.6,294.9 L39.9,295.3 L40.1,295.6 L40.4,296.0 L40.6,296.4 L40.9,296.7 L41.1,297.1 L41.4,297.4 L41.6,297.7 L41.9,298.0 L42.1,298.3 L42.4,298.6 L42.6,298.8 L42.9,299.1 L43.1,299.3 L43.4,299.6 L43.6,299.8 L43.9,300.1 L44.1,300.3 L44.4,300.5 L44.6,300.7 L44.9,300.9 L45.1,301.2 L45.4,301.4 L45.6,301.6 L45.9,301.8 L46.1,302.0 L46.4,302.1 L46.6,302.3 L46.9,302.5 L47.1,302.7 L47.4,302.9 L47.6,303.0 L47.9,303.2 L48.1,303.4 L48.4,303.5 L48.6,303.7 L48.9,303.8 L49.1,304.0 L49.4,304.1 L49.6,304.2 L49.9,304.4 L50.1,304.5 L50.4,304.6 L50.6,304.8 L50.9,304.9 L51.1,305.0 L51.4,305.1 L51.6,305.2 L51.9,305.4 L52.1,305.5 L52.4,305.6 L52.6,305.7 L52.9,305.8 L53.1,305.9 L53.4,306.0 L53.6,306.1 L53.9,306.2 L54.1,306.3 L54.4,306.4 L54.6,306.5 L54.9,306.5 L55.1,306.6 L55.4,306.7 L55.6,306.8 L55.9,306.9 L56.1,307.0 L56.4,307.1 L56.6,307.1 L56.9,307.2 L57.1,307.3 L57.4,307.4 L57.6,307.5 L57.9,307.5 L58.1,307.6 L58.4,307.7 L58.6,307.8 L58.9,307.8 L59.1,307.9 L59.4,308.0 L59.6,308.0 L59.9,308.1 L60.1,308.2 L60.4,308.2 L60.6,308.3 L60.9,308.4 L61.1,308.4 L61.4,308.5 L61.6,308.5 L61.9,308.6 L62.1,308.7 L62.4,308.7 L62.6,308.8 L62.9,308.8 L63.1,308.9 L63.4,308.9 L63.6,309.0 L63.9,309.0 L64.1,309.1 L64.3,309.2 L64.6,309.2 L64.8,309.3 L65.1,309.3 L65.3,309.3 L65.6,309.4 L65.8,309.4 L66.1,309.5 L66.3,309.5 L66.6,309.6 L66.8,309.6 L67.1,309.6 L67.3,309.7 L67.6,309.7 L67.8,309.7 L68.1,309.7 L68.3,309.8 L68.6,309.8 L68.8,309.8 L69.1,309.8 L69.3,309.8 L69.6,309.8 L69.8,309.8 L70.1,309.8 L70.3,309.8 L70.6,309.7 L70.8,309.6 L71.1,309.4 L71.3,309.2 L71.6,308.8 L71.8,308.3 L72.1,307.6 L72.3,306.7 L72.6,305.5 L72.8,303.9 L73.1,302.0 L73.3,299.8 L73.6,297.2 L73.8,294.4 L74.1,291.4 L74.3,288.4 L74.6,285.5 L74.8,283.1 L75.1,281.2 L75.3,280.2 L75.6,280.2 L75.8,281.1 L76.1,283.0 L76.3,285.4 L76.6,288.4 L76.8,291.5 L77.1,294.6 L77.3,297.6 L77.6,300.4 L77.8,302.8 L78.1,304.9 L78.3,306.7 L78.6,308.1 L78.8,309.2 L79.1,310.0 L79.3,310.7 L79.6,311.2 L79.8,311.5 L80.1,311.8 L80.3,312.0 L80.6,312.2 L80.8,312.4 L81.1,312.5 L81.3,312.6 L81.6,312.7 L81.8,312.8 L82.1,312.9 L82.3,313.0 L82.6,313.1 L82.8,313.1 L83.1,313.2 L83.3,313.3 L83.6,313.4 L83.8,313.4 L84.1,313.5 L84.3,313.6 L84.6,313.6 L84.8,313.7 L85.1,313.7 L85.3,313.8 L85.6,313.8 L85.8,313.9 L86.1,313.9 L86.3,314.0 L86.6,314.0 L86.8,314.0 L87.1,314.1 L87.3,314.1 L87.6,314.1 L87.8,314.1 L88.1,314.1 L88.3,314.2 L88.6,314.2 L88.8,314.2 L89.1,314.2 L89.3,314.2 L89.6,314.2 L89.8,314.3 L90.1,314.3 L90.3,314.3 L90.6,314.3 L90.8,314.3 L91.1,314.3 L91.3,314.3 L91.6,314.3 L91.8,314.4 L92.1,314.4 L92.3,314.4 L92.6,314.4 L92.8,314.4 L93.1,314.4 L93.3,314.4 L93.6,314.4 L93.8,314.4 L94.1,314.4 L94.3,314.5 L94.6,314.5 L94.8,314.5 L95.1,314.5 L95.3,314.5 L95.6,314.5 L95.8,314.5 L96.1,314.5 L96.3,314.5 L96.6,314.5 L96.8,314.5 L97.1,314.5 L97.3,314.5 L97.6,314.5 L97.8,314.5 L98.1,314.5 L98.3,314.5 L98.6,314.5 L98.8,314.5 L99.1,314.5 L99.3,314.5 L99.6,314.6 L99.8,314.6 L100.1,314.6 L100.3,314.6 L100.6,314.6 L100.8,314.6 L101.1,314.6 L101.3,314.6 L101.6,314.6 L101.8,314.6 L102.1,314.6 L102.3,314.6 L102.6,314.6 L102.8,314.6 L103.1,314.6 L103.3,314.6 L103.6,314.6 L103.8,314.6 L104.1,314.6 L104.3,314.6 L104.6,314.6 L104.8,314.6 L105.1,314.6 L105.3,314.6 L105.6,314.6 L105.8,314.6 L106.1,314.6 L106.3,314.6 L106.6,314.6 L106.8,314.6 L107.1,314.6 L107.3,314.6 L107.6,314.6 L107.8,314.6 L108.1,314.6 L108.3,314.6 L108.6,314.6 L108.8,314.6 L109.1,314.6 L109.3,314.6 L109.6,314.6 L109.8,314.6 L110.1,314.6 L110.3,314.6 L110.6,314.6 L110.8,314.6 L111.1,314.6 L111.3,314.6 L111.6,314.6 L111.8,314.6 L112.1,314.6 L112.3,314.6 L112.6,314.6 L112.8,314.6 L113.1,314.6 L113.3,314.6 L113.6,314.6 L113.8,314.6 L114.1,314.6 L114.3,314.6 L114.6,314.6 L114.8,314.6 L115.1,314.6 L115.3,314.6 L115.6,314.6 L115.8,314.6 L116.1,314.6 L116.3,314.6 L116.6,314.6 L116.8,314.6 L117.1,314.6 L117.3,314.6 L117.6,314.6 L117.8,314.6 L118.1,314.6 L118.3,314.6 L118.6,314.6 L118.8,314.6 L119.1,314.6 L119.3,314.6 L119.6,314.6 L119.8,314.6 L120.1,314.6 L120.3,314.6 L120.6,314.6 L120.8,314.6 L121.1,314.6 L121.3,314.6 L121.6,314.6 L121.8,314.6 L122.1,314.6 L122.3,314.6 L122.6,314.6 L122.8,314.6 L123.1,314.6 L123.3,314.6 L123.6,314.6 L123.8,314.6 L124.1,314.6 L124.3,314.6 L124.6,314.6 L124.8,314.6 L125.1,314.6 L125.3,314.6 L125.6,314.6 L125.8,314.6 L126.1,314.6 L126.3,314.6 L126.6,314.6 L126.8,314.6 L127.1,314.6 L127.3,314.6 L127.6,314.6 L127.8,314.6 L128.1,314.6 L128.3,314.6 L128.6,314.6 L128.8,314.6 L129.1,314.6 L129.3,314.6 L129.6,314.6 L129.8,314.6 L130.1,314.6 L130.3,314.6 L130.6,314.6 L130.8,314.6 L131.1,314.6 L131.3,314.6 L131.6,314.6 L131.8,314.6 L132.1,314.6 L132.3,314.6 L132.6,314.6 L132.8,314.6 L133.1,314.6 L133.3,314.6 L133.6,314.6 L133.8,314.6 L134.1,314.6 L134.3,314.6 L134.6,314.6 L134.8,314.6 L135.1,314.6 L135.3,314.6 L135.6,314.6 L135.8,314.6 L136.1,314.6 L136.3,314.6 L136.6,314.6 L136.8,314.6 L137.1,314.6 L137.3,314.6 L137.6,314.6 L137.8,314.6 L138.1,314.6 L138.3,314.6 L138.6,314.6 L138.8,314.6 L139.1,314.6 L139.3,314.6 L139.6,314.6 L139.8,314.6 L140.1,314.6 L140.3,314.6 L140.6,314.6 L140.8,314.6 L141.1,314.6 L141.3,314.6 L141.6,314.6 L141.8,314.6 L142.1,314.6 L142.3,314.6 L142.6,314.6 L142.8,314.6 L143.1,314.6 L143.3,314.6 L143.6,314.6 L143.8,314.6 L144.1,314.6 L144.3,314.6 L144.6,314.6 L144.8,314.6 L145.1,314.6 L145.3,314.6 L145.6,314.6 L145.8,314.6 L146.1,314.6 L146.3,314.6 L146.6,314.6 L146.8,314.5 L147.1,314.5 L147.3,314.5 L147.6,314.5 L147.8,314.5 L148.1,314.5 L148.3,314.5 L148.6,314.5 L148.8,314.5 L149.1,314.5 L149.3,314.5 L149.6,314.5 L149.8,314.5 L150.1,314.5 L150.3,314.5 L150.6,314.5 L150.8,314.5 L151.1,314.5 L151.3,314.5 L151.6,314.5 L151.8,314.5 L152.1,314.5 L152.3,314.5 L152.6,314.5 L152.8,314.5 L153.1,314.5 L153.3,314.5 L153.6,314.5 L153.8,314.5 L154.1,314.5 L154.3,314.5 L154.6,314.5 L154.8,314.5 L155.1,314.5 L155.3,314.5 L155.6,314.5 L155.8,314.5 L156.1,314.5 L156.3,314.5 L156.6,314.5 L156.8,314.5 L157.1,314.5 L157.3,314.5 L157.6,314.5 L157.8,314.4 L158.1,314.4 L158.3,314.4 L158.6,314.4 L158.8,314.4 L159.1,314.4 L159.3,314.4 L159.6,314.4 L159.8,314.4 L160.1,314.4 L160.3,314.4 L160.6,314.4 L160.8,314.4 L161.1,314.3 L161.3,314.3 L161.6,314.3 L161.8,314.3 L162.1,314.3 L162.3,314.3 L162.6,314.2 L162.8,314.2 L163.1,314.2 L163.3,314.2 L163.6,314.2 L163.8,314.1 L164.1,314.1 L164.3,314.1 L164.6,314.0 L164.8,314.0 L165.1,313.9 L165.3,313.8 L165.6,313.8 L165.8,313.7 L166.1,313.5 L166.3,313.4 L166.6,313.1 L166.8,312.8 L167.1,312.4 L167.3,311.8 L167.6,311.0 L167.8,310.0 L168.1,308.6 L168.3,307.0 L168.6,304.9 L168.8,302.5 L169.1,299.7 L169.3,296.7 L169.6,293.5 L169.8,290.3 L170.1,287.2 L170.3,284.6 L170.6,282.6 L170.8,281.5 L171.1,281.4 L171.3,282.3 L171.6,284.1 L171.8,286.7 L172.1,289.6 L172.3,292.8 L172.6,296.1 L172.8,299.2 L173.1,302.0 L173.3,304.5 L173.6,306.6 L173.8,308.3 L174.1,309.7 L174.3,310.8 L174.6,311.7 L174.8,312.3 L175.1,312.8 L175.3,313.1 L175.6,313.3 L175.8,313.5 L176.1,313.6 L176.3,313.8 L176.6,313.8 L176.8,313.9 L177.1,314.0 L177.3,314.0 L177.6,314.0 L177.8,314.1 L178.1,314.1 L178.3,314.1 L178.6,314.2 L178.8,314.2 L179.1,314.2 L179.3,314.2 L179.6,314.3 L179.8,314.3 L180.1,314.3 L180.3,314.3 L180.6,314.3 L180.8,314.3 L181.1,314.4 L181.3,314.4 L181.6,314.4 L181.8,314.4 L182.1,314.4 L182.3,314.4 L182.6,314.4 L182.8,314.4 L183.1,314.4 L183.3,314.4 L183.6,314.4 L183.8,314.4 L184.1,314.4 L184.3,314.5 L184.6,314.5 L184.8,314.5 L185.1,314.5 L185.3,314.5 L185.6,314.5 L185.8,314.5 L186.1,314.5 L186.3,314.5 L186.6,314.5 L186.8,314.5 L187.1,314.5 L187.3,314.5 L187.6,314.5 L187.8,314.5 L188.1,314.5 L188.3,314.5 L188.6,314.5 L188.8,314.5 L189.1,314.5 L189.3,314.5 L189.6,314.5 L189.8,314.5 L190.1,314.5 L190.3,314.5 L190.6,314.5 L190.8,314.5 L191.1,314.5 L191.3,314.5 L191.6,314.5 L191.8,314.5 L192.1,314.5 L192.3,314.5 L192.6,314.5 L192.8,314.5 L193.1,314.5 L193.3,314.5 L193.6,314.5 L193.8,314.5 L194.1,314.5 L194.3,314.5 L194.6,314.5 L194.8,314.5 L195.1,314.5 L195.3,314.5 L195.6,314.6 L195.8,314.6 L196.1,314.6 L196.3,314.6 L196.6,314.6 L196.8,314.6 L197.1,314.6 L197.3,314.6 L197.6,314.6 L197.8,314.6 L198.1,314.6 L198.3,314.6 L198.6,314.6 L198.8,314.6 L199.1,314.6 L199.3,314.6 L199.6,314.6 L199.8,314.6 L200.1,314.6 L200.3,314.6 L200.6,314.6 L200.8,314.6 L201.1,314.6 L201.3,314.6 L201.6,314.6 L201.8,314.6 L202.1,314.6 L202.3,314.6 L202.6,314.6 L202.8,314.6 L203.1,314.6 L203.3,314.6 L203.6,314.6 L203.8,314.6 L204.1,314.6 L204.3,314.6 L204.6,314.6 L204.8,314.6 L205.1,314.6 L205.3,314.6 L205.6,314.6 L205.8,314.6 L206.1,314.6 L206.3,314.6 L206.6,314.6 L206.8,314.6 L207.1,314.6 L207.3,314.6 L207.6,314.6 L207.8,314.6 L208.1,314.6 L208.3,314.6 L208.6,314.6 L208.8,314.6 L209.1,314.6 L209.3,314.6 L209.6,314.6 L209.8,314.6 L210.1,314.6 L210.3,314.6 L210.6,314.6 L210.8,314.6 L211.1,314.6 L211.3,314.6 L211.6,314.6 L211.8,314.6 L212.1,314.6 L212.3,314.6 L212.6,314.6 L212.8,314.6 L213.1,314.6 L213.3,314.6 L213.6,314.6 L213.8,314.6 L214.1,314.6 L214.3,314.6 L214.6,314.6 L214.8,314.6 L215.1,314.6 L215.3,314.6 L215.6,314.6 L215.8,314.6 L216.1,314.6 L216.3,314.6 L216.6,314.6 L216.8,314.6 L217.1,314.6 L217.3,314.6 L217.6,314.6 L217.8,314.6 L218.1,314.6 L218.3,314.6 L218.6,314.6 L218.8,314.6 L219.1,314.6 L219.3,314.6 L219.6,314.6 L219.8,314.6 L220.1,314.6 L220.3,314.6 L220.6,314.6 L220.8,314.6 L221.1,314.6 L221.3,314.6 L221.6,314.6 L221.8,314.6 L222.1,314.6 L222.3,314.6 L222.6,314.6 L222.8,314.6 L223.1,314.6 L223.3,314.6 L223.6,314.6 L223.8,314.6 L224.1,314.6 L224.3,314.6 L224.6,314.6 L224.8,314.6 L225.1,314.6 L225.3,314.6 L225.6,314.6 L225.8,314.6 L226.1,314.6 L226.3,314.6 L226.6,314.6 L226.8,314.6 L227.1,314.6 L227.3,314.6 L227.6,314.6 L227.8,314.6 L228.1,314.6 L228.3,314.6 L228.6,314.6 L228.8,314.6 L229.1,314.6 L229.3,314.6 L229.6,314.6 L229.8,314.6 L230.1,314.6 L230.3,314.6 L230.6,314.6 L230.8,314.6 L231.1,314.6 L231.3,314.6 L231.6,314.6 L231.8,314.6 L232.1,314.6 L232.3,314.6 L232.6,314.6 L232.8,314.6 L233.1,314.6 L233.3,314.6 L233.6,314.6 L233.8,314.6 L234.1,314.6 L234.3,314.6 L234.6,314.6 L234.8,314.6 L235.1,314.6 L235.3,314.6 L235.6,314.6 L235.8,314.6 L236.1,314.6 L236.3,314.6 L236.6,314.6 L236.8,314.6 L237.1,314.6 L237.3,314.6 L237.6,314.6 L237.8,314.6 L238.1,314.6 L238.3,314.6 L238.6,314.6 L238.8,314.6 L239.1,314.6 L239.3,314.6 L239.6,314.6 L239.8,314.6 L240.1,314.6 L240.3,314.6 L240.6,314.6 L240.8,314.5 L241.1,314.5 L241.3,314.5 L241.6,314.5 L241.8,314.5 L242.1,314.5 L242.3,314.5 L242.6,314.5 L242.8,314.5 L243.1,314.5 L243.3,314.5 L243.6,314.5 L243.8,314.5 L244.1,314.5 L244.3,314.5 L244.6,314.5 L244.8,314.5 L245.1,314.5 L245.3,314.5 L245.6,314.5 L245.8,314.5 L246.1,314.5 L246.3,314.5 L246.6,314.5 L246.8,314.5 L247.1,314.5 L247.3,314.5 L247.6,314.5 L247.8,314.5 L248.1,314.5 L248.3,314.5 L248.6,314.5 L248.8,314.5 L249.1,314.5 L249.3,314.5 L249.6,314.5 L249.8,314.5 L250.1,314.5 L250.3,314.5 L250.6,314.5 L250.8,314.5 L251.1,314.5 L251.3,314.5 L251.6,314.4 L251.8,314.4 L252.1,314.4 L252.3,314.4 L252.6,314.4 L252.8,314.4 L253.1,314.4 L253.3,314.4 L253.6,314.4 L253.8,314.4 L254.1,314.4 L254.3,314.4 L254.6,314.3 L254.8,314.3 L255.1,314.3 L255.3,314.3 L255.6,314.3 L255.8,314.3 L256.1,314.3 L256.4,314.2 L256.6,314.2 L256.9,314.2 L257.1,314.2 L257.4,314.1 L257.6,314.1 L257.9,314.1 L258.1,314.0 L258.4,314.0 L258.6,313.9 L258.9,313.8 L259.1,313.8 L259.4,313.7 L259.6,313.5 L259.9,313.3 L260.1,313.1 L260.4,312.7 L260.6,312.2 L260.9,311.6 L261.1,310.6 L261.4,309.4 L261.6,307.8 L261.9,305.8 L262.1,303.3 L262.4,300.4 L262.6,297.2 L262.9,293.7 L263.1,290.1 L263.4,286.7 L263.6,283.6 L263.9,281.3 L264.1,280.0 L264.4,279.9 L264.6,281.0 L264.9,283.1 L265.1,286.0 L265.4,289.4 L265.6,293.0 L265.9,296.5 L266.1,299.8 L266.4,302.8 L266.6,305.3 L266.9,307.4 L267.1,309.1 L267.4,310.4 L267.6,311.4 L267.9,312.1 L268.1,312.6 L268.4,313.0 L268.6,313.3 L268.9,313.5 L269.1,313.6 L269.4,313.7 L269.6,313.8 L269.9,313.9 L270.1,313.9 L270.4,314.0 L270.6,314.0 L270.9,314.1 L271.1,314.1 L271.4,314.1 L271.6,314.2 L271.9,314.2 L272.1,314.2 L272.4,314.2 L272.6,314.3 L272.9,314.3 L273.1,314.3 L273.4,314.3 L273.6,314.3 L273.9,314.3 L274.1,314.4 L274.4,314.4 L274.6,314.4 L274.9,314.4 L275.1,314.4 L275.4,314.4 L275.6,314.4 L275.9,314.4 L276.1,314.4 L276.4,314.4 L276.6,314.4 L276.9,314.4 L277.1,314.5 L277.4,314.5 L277.6,314.5 L277.9,314.5 L278.1,314.5 L278.4,314.5 L278.6,314.5 L278.9,314.5 L279.1,314.5 L279.4,314.5 L279.6,314.5 L279.9,314.5 L280.1,314.5 L280.4,314.5 L280.6,314.5 L280.9,314.5 L281.1,314.5 L281.4,314.5 L281.6,314.5 L281.9,314.5 L282.1,314.5 L282.4,314.5 L282.6,314.5 L282.9,314.5 L283.1,314.5 L283.4,314.5 L283.6,314.5 L283.9,314.5 L284.1,314.5 L284.4,314.5 L284.6,314.5 L284.9,314.5 L285.1,314.5 L285.4,314.5 L285.6,314.5 L285.9,314.5 L286.1,314.5 L286.4,314.5 L286.6,314.5 L286.9,314.5 L287.1,314.5 L287.4,314.6 L287.6,314.6 L287.9,314.6 L288.1,314.6 L288.4,314.6 L288.6,314.6 L288.9,314.6 L289.1,314.6 L289.4,314.6 L289.6,314.6 L289.9,314.6 L290.1,314.6 L290.4,314.6 L290.6,314.6 L290.9,314.6 L291.1,314.6 L291.4,314.6 L291.6,314.6 L291.9,314.6 L292.1,314.6 L292.4,314.6 L292.6,314.6 L292.9,314.6 L293.1,314.6 L293.4,314.6 L293.6,314.6 L293.9,314.6 L294.1,314.6 L294.4,314.6 L294.6,314.6 L294.9,314.6 L295.1,314.6 L295.4,314.6 L295.6,314.6 L295.9,314.6 L296.1,314.6 L296.4,314.6 L296.6,314.6 L296.9,314.6 L297.1,314.6 L297.4,314.6 L297.6,314.6 L297.9,314.6 L298.1,314.6 L298.4,314.6 L298.6,314.6 L298.9,314.6 L299.1,314.6 L299.4,314.6 L299.6,314.6 L299.9,314.6 L300.1,314.6 L300.4,314.6 L300.6,314.6 L300.9,314.6 L301.1,314.6 L301.4,314.6 L301.6,314.6 L301.9,314.6 L302.1,314.6 L302.4,314.6 L302.6,314.6 L302.9,314.6 L303.1,314.6 L303.4,314.6 L303.6,314.6 L303.9,314.6 L304.1,314.6 L304.4,314.6 L304.6,314.6 L304.9,314.6 L305.1,314.6 L305.4,314.6 L305.6,314.6 L305.9,314.6 L306.1,314.6 L306.4,314.6 L306.6,314.6 L306.9,314.6 L307.1,314.6 L307.4,314.6 L307.6,314.6 L307.9,314.6 L308.1,314.6 L308.4,314.6 L308.6,314.6 L308.9,314.6 L309.1,314.6 L309.4,314.6 L309.6,314.6 L309.9,314.6 L310.1,314.6 L310.4,314.6 L310.6,314.6 L310.9,314.6 L311.1,314.6 L311.4,314.6 L311.6,314.6 L311.9,314.6 L312.1,314.6 L312.4,314.6 L312.6,314.6 L312.9,314.6 L313.1,314.6 L313.4,314.6 L313.6,314.6 L313.9,314.6 L314.1,314.6 L314.4,314.6 L314.6,314.6 L314.9,314.6 L315.1,314.6 L315.4,314.6 L315.6,314.6 L315.9,314.6 L316.1,314.6 L316.4,314.6 L316.6,314.6 L316.9,314.6 L317.1,314.6 L317.4,314.6 L317.6,314.6 L317.9,314.6 L318.1,314.6 L318.4,314.6 L318.6,314.6 L318.9,314.6 L319.1,314.6 L319.4,314.6 L319.6,314.6 L319.9,314.6 L320.1,314.6 L320.4,314.6 L320.6,314.6 L320.9,314.6 L321.1,314.6 L321.4,314.6 L321.6,314.6 L321.9,314.6 L322.1,314.6 L322.4,314.6 L322.6,314.6 L322.9,314.6 L323.1,314.6 L323.4,314.6 L323.6,314.6 L323.9,314.6 L324.1,314.6 L324.4,314.6 L324.6,314.6 L324.9,314.6 L325.1,314.6 L325.4,314.6 L325.6,314.6 L325.9,314.6 L326.1,314.6 L326.4,314.6 L326.6,314.6 L326.9,314.6 L327.1,314.6 L327.4,314.6 L327.6,314.6 L327.9,314.6 L328.1,314.6 L328.4,314.6 L328.6,314.6 L328.9,314.6 L329.1,314.6 L329.4,314.6 L329.6,314.6 L329.9,314.6 L330.1,314.6 L330.4,314.6 L330.6,314.6 L330.9,314.6 L331.1,314.6 L331.4,314.6 L331.6,314.6 L331.9,314.6 L332.1,314.6 L332.4,314.6 L332.6,314.6 L332.9,314.6 L333.1,314.6 L333.4,314.6 L333.6,314.6 L333.9,314.6 L334.1,314.6 L334.4,314.6 L334.6,314.6 L334.9,314.6 L335.1,314.6 L335.4,314.6 L335.6,314.6 L335.9,314.6 L336.1,314.6 L336.4,314.6 L336.6,314.6 L336.9,314.6 L337.1,314.6 L337.4,314.6 L337.6,314.6 L337.9,314.6 L338.1,314.6 L338.4,314.6 L338.6,314.6 L338.9,314.6 L339.1,314.6 L339.4,314.6 L339.6,314.6 L339.9,314.6 L340.1,314.6 L340.4,314.6 L340.6,314.6 L340.9,314.6 L341.1,314.6 L341.4,314.6 L341.6,314.6 L341.9,314.6 L342.1,314.6 L342.4,314.6 L342.6,314.6 L342.9,314.6 L343.1,314.6 L343.4,314.6 L343.6,314.6 L343.9,314.6 L344.1,314.6 L344.4,314.6 L344.6,314.6 L344.9,314.6 L345.1,314.6 L345.4,314.6 L345.6,314.6 L345.9,314.6 L346.1,314.6 L346.4,314.6 L346.6,314.6 L346.9,314.6 L347.1,314.6 L347.4,314.6 L347.6,314.6 L347.9,314.6 L348.1,314.6 L348.4,314.6 L348.6,314.6 L348.9,314.6 L349.1,314.6 L349.4,314.6 L349.6,314.6 L349.9,314.6 L350.1,314.6 L350.4,314.6 L350.6,314.6 L350.9,314.6 L351.1,314.6 L351.4,314.6 L351.6,314.6 L351.9,314.6 L352.1,314.6 L352.4,314.6 L352.6,314.6 L352.9,314.6 L353.1,314.6 L353.4,314.6 L353.6,314.6 L353.9,314.6 L354.1,314.6 L354.4,314.6 L354.6,314.6 L354.9,314.6 L355.1,314.6 L355.4,314.6 L355.6,314.6 L355.9,314.6 L356.1,314.6 L356.4,314.6 L356.6,314.6 L356.9,314.6 L357.1,314.6 L357.4,314.6 L357.6,314.6 L357.9,314.6 L358.1,314.6 L358.4,314.6 L358.6,314.6 L358.9,314.6 L359.1,314.6 L359.4,314.6 L359.6,314.6 L359.9,314.6 L360.1,314.6 L360.4,314.6 L360.6,314.6 L360.9,314.6 L361.1,314.6 L361.4,314.6 L361.6,314.6 L361.9,314.6 L362.1,314.6 L362.4,314.6 L362.6,314.6 L362.9,314.6 L363.1,314.6 L363.4,314.6 L363.6,314.6 L363.9,314.6 L364.1,314.6 L364.4,314.6 L364.6,314.6 L364.9,314.6 L365.1,314.6 L365.4,314.6 L365.6,314.6 L365.9,314.6 L366.1,314.6 L366.4,314.6 L366.6,314.6 L366.9,314.6 L367.1,314.6 L367.4,314.6 L367.6,314.6 L367.9,314.6 L368.1,314.6 L368.4,314.6 L368.6,314.6 L368.9,314.6 L369.1,314.6 L369.4,314.6 L369.6,314.6 L369.9,314.6 L370.1,314.6 L370.4,314.6 L370.6,314.6 L370.9,314.6 L371.1,314.6 L371.4,314.6 L371.6,314.6 L371.9,314.6 L372.1,314.6 L372.4,314.6 L372.6,314.6 L372.9,314.6 L373.1,314.6 L373.4,314.6 L373.6,314.6 L373.9,314.6 L374.1,314.6 L374.4,314.6 L374.6,314.6 L374.9,314.6 L375.1,314.6 L375.4,314.6 L375.6,314.6 L375.9,314.6 L376.1,314.6 L376.4,314.6 L376.6,314.6 L376.9,314.6 L377.1,314.6 L377.4,314.6 L377.6,314.6 L377.9,314.6 L378.1,314.6 L378.4,314.6 L378.6,314.6 L378.9,314.6 L379.1,314.6 L379.4,314.6 L379.6,314.6 L379.9,314.6 L380.1,314.6 L380.4,314.6 L380.6,314.6 L380.9,314.6 L381.1,314.6 L381.4,314.6 L381.6,314.6 L381.9,314.6 L382.1,314.6 L382.4,314.6 L382.6,314.6 L382.9,314.6 L383.1,314.6 L383.4,314.6 L383.6,314.6 L383.9,314.6 L384.1,314.6 L384.4,314.6 L384.6,314.6 L384.9,314.6 L385.1,314.6 L385.4,314.6 L385.6,314.6 L385.9,314.6 L386.1,314.6 L386.4,314.6 L386.6,314.6 L386.9,314.6 L387.1,314.6 L387.4,314.6 L387.6,314.6 L387.9,314.6 L388.1,314.6 L388.4,314.6 L388.6,314.6 L388.9,314.6 L389.1,314.6 L389.4,314.6 L389.6,314.6 L389.9,314.6 L390.1,314.6 L390.4,314.6 L390.6,314.6 L390.9,314.6 L391.1,314.6 L391.4,314.6 L391.6,314.6 L391.9,314.6 L392.1,314.6 L392.4,314.6 L392.6,314.6 L392.9,314.6 L393.1,314.6 L393.4,314.6 L393.6,314.6 L393.9,314.6 L394.1,314.6 L394.4,314.6 L394.6,314.6 L394.9,314.6 L395.1,314.6 L395.4,314.6 L395.6,314.6 L395.9,314.6 L396.1,314.6 L396.4,314.6 L396.6,314.6 L396.9,314.6 L397.1,314.6 L397.4,314.6 L397.6,314.6 L397.9,314.6 L398.1,314.6 L398.4,314.6 L398.6,314.6 L398.9,314.6 L399.1,314.6 L399.4,314.6 L399.6,314.6 L399.9,314.6 L400.1,314.6 L400.4,314.6 L400.6,314.6 L400.9,314.6 L401.1,314.6 L401.4,314.6 L401.6,314.6 L401.9,314.6 L402.1,314.6 L402.4,314.6 L402.6,314.6 L402.9,314.6 L403.1,314.6 L403.4,314.6 L403.6,314.6 L403.9,314.6 L404.1,314.6 L404.4,314.6 L404.6,314.6 L404.9,314.6 L405.1,314.6 L405.4,314.6 L405.6,314.6 L405.9,314.6 L406.1,314.6 L406.4,314.6 L406.6,314.6 L406.9,314.6 L407.1,314.6 L407.4,314.6 L407.6,314.6 L407.9,314.6 L408.1,314.6 L408.4,314.6 L408.6,314.6 L408.9,314.6 L409.1,314.6 L409.4,314.6 L409.6,314.6 L409.9,314.6 L410.1,314.6 L410.4,314.6 L410.6,314.6 L410.9,314.6 L411.1,314.6 L411.4,314.6 L411.6,314.6 L411.9,314.6 L412.1,314.6 L412.4,314.6 L412.6,314.6 L412.9,314.6 L413.1,314.6 L413.4,314.6 L413.6,314.6 L413.9,314.6 L414.1,314.6 L414.4,314.6 L414.6,314.6 L414.9,314.6 L415.1,314.6 L415.4,314.6 L415.6,314.6 L415.9,314.6 L416.1,314.6 L416.4,314.6 L416.6,314.6 L416.9,314.6 L417.1,314.6 L417.4,314.6 L417.6,314.6 L417.9,314.6 L418.1,314.6 L418.4,314.6 L418.6,314.6 L418.9,314.6 L419.1,314.6 L419.4,314.6 L419.6,314.6 L419.9,314.6 L420.1,314.6 L420.4,314.6 L420.6,314.6 L420.9,314.5 L421.1,314.5 L421.4,314.5 L421.6,314.5 L421.9,314.5 L422.1,314.5 L422.4,314.5 L422.6,314.5 L422.9,314.5 L423.1,314.5 L423.4,314.5 L423.6,314.5 L423.9,314.5 L424.1,314.5 L424.4,314.5 L424.6,314.5 L424.9,314.5 L425.1,314.5 L425.4,314.5 L425.6,314.5 L425.9,314.5 L426.1,314.5 L426.4,314.5 L426.6,314.5 L426.9,314.5 L427.1,314.5 L427.4,314.5 L427.6,314.5 L427.9,314.5 L428.1,314.5 L428.4,314.5 L428.6,314.5 L428.9,314.5 L429.1,314.5 L429.4,314.5 L429.6,314.5 L429.9,314.5 L430.1,314.5 L430.4,314.5 L430.6,314.5 L430.9,314.5 L431.1,314.5 L431.4,314.5 L431.6,314.5 L431.9,314.5 L432.1,314.5 L432.4,314.5 L432.6,314.5 L432.9,314.5 L433.1,314.5 L433.4,314.5 L433.6,314.5 L433.9,314.5 L434.1,314.5 L434.4,314.5 L434.6,314.5 L434.9,314.5 L435.1,314.5 L435.4,314.5 L435.6,314.5 L435.9,314.5 L436.1,314.5 L436.4,314.5 L436.6,314.5 L436.9,314.5 L437.1,314.5 L437.4,314.5 L437.6,314.5 L437.9,314.4 L438.1,314.4 L438.4,314.4 L438.6,314.4 L438.9,314.4 L439.1,314.4 L439.4,314.4 L439.6,314.4 L439.9,314.4 L440.1,314.4 L440.4,314.4 L440.6,314.4 L440.9,314.4 L441.1,314.4 L441.4,314.4 L441.6,314.4 L441.9,314.4 L442.1,314.4 L442.4,314.4 L442.6,314.4 L442.9,314.4 L443.1,314.3 L443.4,314.3 L443.6,314.3 L443.9,314.3 L444.1,314.3 L444.4,314.3 L444.6,314.3 L444.9,314.3 L445.1,314.3 L445.4,314.3 L445.6,314.3 L445.9,314.2 L446.1,314.2 L446.4,314.2 L446.6,314.2 L446.9,314.2 L447.1,314.2 L447.4,314.2 L447.6,314.1 L447.9,314.1 L448.1,314.1 L448.4,314.1 L448.6,314.1 L448.9,314.0 L449.1,314.0 L449.4,314.0 L449.6,314.0 L449.9,313.9 L450.1,313.9 L450.4,313.9 L450.6,313.8 L450.9,313.8 L451.1,313.7 L451.4,313.7 L451.6,313.6 L451.9,313.6 L452.1,313.5 L452.4,313.5 L452.6,313.4 L452.9,313.3 L453.1,313.2 L453.4,313.1 L453.6,313.0 L453.9,312.9 L454.1,312.7 L454.4,312.5 L454.6,312.3 L454.9,312.0 L455.1,311.7 L455.4,311.2 L455.6,310.6 L455.9,309.9 L456.1,308.9 L456.4,307.8 L456.6,306.3 L456.9,304.5 L457.1,302.3 L457.4,299.8 L457.6,296.8 L457.9,293.5 L458.1,289.8 L458.4,285.8 L458.6,281.6 L458.9,277.5 L459.1,273.4 L459.4,269.8 L459.6,266.7 L459.9,264.6 L460.1,263.5 L460.4,263.6 L460.6,264.9 L460.9,267.3 L461.1,270.5 L461.4,274.2 L461.6,278.3 L461.9,282.5 L462.1,286.6 L462.4,290.5 L462.6,294.2 L462.9,297.4 L463.1,300.3 L463.4,302.8 L463.6,304.9 L463.9,306.6 L464.1,308.0 L464.4,309.1 L464.6,310.0 L464.9,310.7 L465.1,311.3 L465.4,311.7 L465.6,312.1 L465.9,312.3 L466.1,312.6 L466.4,312.7 L466.6,312.9 L466.9,313.0 L467.1,313.1 L467.4,313.2 L467.6,313.3 L467.9,313.4 L468.1,313.5 L468.4,313.5 L468.6,313.6 L468.9,313.6 L469.1,313.7 L469.4,313.7 L469.6,313.8 L469.9,313.8 L470.1,313.9 L470.4,313.9 L470.6,313.9 L470.9,314.0 L471.1,314.0 L471.4,314.0 L471.6,314.0 L471.9,314.1 L472.1,314.1 L472.4,314.1 L472.6,314.1 L472.9,314.1 L473.1,314.2 L473.4,314.2 L473.6,314.2 L473.9,314.2 L474.1,314.2 L474.4,314.2 L474.6,314.2 L474.9,314.3 L475.1,314.3 L475.4,314.3 L475.6,314.3 L475.9,314.3 L476.1,314.3 L476.4,314.3 L476.6,314.3 L476.9,314.3 L477.1,314.3 L477.4,314.3 L477.6,314.4 L477.9,314.4 L478.1,314.4 L478.4,314.4 L478.6,314.4 L478.9,314.4 L479.1,314.4 L479.4,314.4 L479.6,314.4 L479.9,314.4 L480.1,314.4 L480.4,314.4 L480.6,314.4 L480.9,314.4 L481.1,314.4 L481.4,314.4 L481.6,314.4 L481.9,314.4 L482.1,314.4 L482.4,314.4 L482.6,314.5 L482.9,314.5 L483.1,314.5 L483.4,314.5 L483.6,314.5 L483.9,314.5 L484.1,314.5 L484.4,314.5 L484.6,314.5 L484.9,314.5 L485.1,314.5 L485.4,314.5 L485.6,314.5 L485.9,314.5 L486.1,314.5 L486.4,314.5 L486.6,314.5 L486.9,314.5 L487.1,314.5 L487.4,314.5 L487.6,314.5 L487.9,314.5 L488.1,314.5 L488.4,314.5 L488.6,314.5 L488.9,314.5 L489.1,314.5 L489.4,314.5 L489.6,314.5 L489.9,314.5 L490.1,314.5 L490.4,314.5 L490.6,314.5 L490.9,314.5 L491.1,314.5 L491.4,314.5 L491.6,314.5 L491.9,314.5 L492.1,314.5 L492.4,314.5 L492.6,314.5 L492.9,314.5 L493.1,314.5 L493.4,314.5 L493.6,314.5 L493.9,314.5 L494.1,314.5 L494.4,314.5 L494.6,314.5 L494.9,314.5 L495.1,314.5 L495.4,314.5 L495.6,314.5 L495.9,314.5 L496.1,314.5 L496.4,314.5 L496.6,314.5 L496.9,314.5 L497.1,314.5 L497.4,314.5 L497.6,314.5 L497.9,314.5 L498.1,314.5 L498.4,314.5 L498.6,314.5 L498.9,314.5 L499.1,314.5 L499.4,314.6 L499.6,314.6 L499.9,314.6 L500.1,314.6 L500.4,314.6 L500.6,314.6 L500.9,314.6 L501.1,314.6 L501.4,314.6 L501.6,314.6 L501.9,314.6 L502.1,314.6 L502.4,314.6 L502.6,314.6 L502.9,314.6 L503.1,314.6 L503.4,314.6 L503.6,314.6 L503.9,314.6 L504.1,314.6 L504.4,314.6 L504.6,314.6" fill="none" stroke="#000" stroke-width="2.20" stroke-linejoin="round" stroke-linecap="butt" />
<rect x="26.60" y="29.70" width="478.10" height="285.70" fill="none" stroke="#000" stroke-width="2"/>
<text x="26.60" y="337.00" font-size="12.00" font-weight="700" text-anchor="middle" >4</text>
<line x1="79.7" y1="315.4" x2="79.7" y2="311.9" stroke="#000" stroke-width="1"/>
<text x="79.72" y="337.00" font-size="12.00" font-weight="700" text-anchor="middle" >9</text>
<line x1="132.8" y1="315.4" x2="132.8" y2="311.9" stroke="#000" stroke-width="1"/>
<text x="132.84" y="337.00" font-size="12.00" font-weight="700" text-anchor="middle" >14</text>
<line x1="186.0" y1="315.4" x2="186.0" y2="311.9" stroke="#000" stroke-width="1"/>
<text x="185.97" y="337.00" font-size="12.00" font-weight="700" text-anchor="middle" >19</text>
<line x1="239.1" y1="315.4" x2="239.1" y2="311.9" stroke="#000" stroke-width="1"/>
<text x="239.09" y="337.00" font-size="12.00" font-weight="700" text-anchor="middle" >24</text>
<line x1="292.2" y1="315.4" x2="292.2" y2="311.9" stroke="#000" stroke-width="1"/>
<text x="292.21" y="337.00" font-size="12.00" font-weight="700" text-anchor="middle" >29</text>
<line x1="345.3" y1="315.4" x2="345.3" y2="311.9" stroke="#000" stroke-width="1"/>
<text x="345.33" y="337.00" font-size="12.00" font-weight="700" text-anchor="middle" >34</text>
<line x1="398.5" y1="315.4" x2="398.5" y2="311.9" stroke="#000" stroke-width="1"/>
<text x="398.46" y="337.00" font-size="12.00" font-weight="700" text-anchor="middle" >39</text>
<line x1="451.6" y1="315.4" x2="451.6" y2="311.9" stroke="#000" stroke-width="1"/>
<text x="451.58" y="337.00" font-size="12.00" font-weight="700" text-anchor="middle" >44</text>
<text x="504.70" y="337.00" font-size="12.00" font-weight="700" text-anchor="middle" >49</text>
<text x="217.00" y="357.50" font-size="14.50" font-weight="700" textLength="81.25" lengthAdjust="spacingAndGlyphs" >2 theta [deg]</text>
<text x="3.10" y="18.20" font-size="21.50" textLength="27.00" lengthAdjust="spacingAndGlyphs" stroke="#000" stroke-width="0.3"><tspan font-size="25.0">(</tspan><tspan font-size="21.5">a</tspan><tspan font-size="25.0">)</tspan></text>
<text x="20.00" y="261.90" font-size="14.00" font-weight="700" textLength="57.30" lengthAdjust="spacingAndGlyphs" transform="rotate(-90 20.00 261.90)" >Intensity</text>
<text x="20.00" y="203.70" font-size="14.00" font-weight="700" textLength="32.90" lengthAdjust="spacingAndGlyphs" transform="rotate(-90 20.00 203.70)" >(I/I<tspan font-size="9.94" dy="3.36">0</tspan><tspan dy="-3.36">&#8203;</tspan>)</text>
<text x="20.00" y="167.70" font-size="14.00" font-weight="700" textLength="71.60" lengthAdjust="spacingAndGlyphs" transform="rotate(-90 20.00 167.70)" >[arb. units]</text>
<text x="95.90" y="143.10" font-size="16.80" font-weight="700" textLength="47.60" lengthAdjust="spacingAndGlyphs" transform="rotate(-90 95.90 143.10)" >Sb<tspan font-size="11.93" dy="4.03">2</tspan><tspan dy="-4.03">&#8203;</tspan>Te<tspan font-size="11.93" dy="4.03">3</tspan><tspan dy="-4.03">&#8203;</tspan></text>
<text x="95.90" y="95.90" font-size="16.80" font-weight="700" textLength="41.00" lengthAdjust="spacingAndGlyphs" transform="rotate(-90 95.90 95.90)" >(003)</text>
<text x="186.65" y="140.10" font-size="16.80" font-weight="700" textLength="47.60" lengthAdjust="spacingAndGlyphs" transform="rotate(-90 186.65 140.10)" >Sb<tspan font-size="11.93" dy="4.03">2</tspan><tspan dy="-4.03">&#8203;</tspan>Te<tspan font-size="11.93" dy="4.03">3</tspan><tspan dy="-4.03">&#8203;</tspan></text>
<text x="186.65" y="92.80" font-size="16.80" font-weight="700" textLength="40.70" lengthAdjust="spacingAndGlyphs" transform="rotate(-90 186.65 92.80)" >(006)</text>
<text x="284.00" y="136.00" font-size="16.80" font-weight="700" textLength="47.60" lengthAdjust="spacingAndGlyphs" transform="rotate(-90 284.00 136.00)" >Sb<tspan font-size="11.93" dy="4.03">2</tspan><tspan dy="-4.03">&#8203;</tspan>Te<tspan font-size="11.93" dy="4.03">3</tspan><tspan dy="-4.03">&#8203;</tspan></text>
<text x="284.00" y="87.90" font-size="16.80" font-weight="700" textLength="40.10" lengthAdjust="spacingAndGlyphs" transform="rotate(-90 284.00 87.90)" >(009)</text>
<text x="377.20" y="137.40" font-size="16.80" font-weight="700" textLength="47.60" lengthAdjust="spacingAndGlyphs" transform="rotate(-90 377.20 137.40)" >Sb<tspan font-size="11.93" dy="4.03">2</tspan><tspan dy="-4.03">&#8203;</tspan>Te<tspan font-size="11.93" dy="4.03">3</tspan><tspan dy="-4.03">&#8203;</tspan></text>
<text x="377.20" y="87.50" font-size="16.80" font-weight="700" textLength="47.30" lengthAdjust="spacingAndGlyphs" transform="rotate(-90 377.20 87.50)" >(0012)</text>
<text x="477.90" y="136.00" font-size="16.80" font-weight="700" textLength="47.60" lengthAdjust="spacingAndGlyphs" transform="rotate(-90 477.90 136.00)" >Sb<tspan font-size="11.93" dy="4.03">2</tspan><tspan dy="-4.03">&#8203;</tspan>Te<tspan font-size="11.93" dy="4.03">3</tspan><tspan dy="-4.03">&#8203;</tspan></text>
<text x="477.90" y="85.60" font-size="16.80" font-weight="700" textLength="47.80" lengthAdjust="spacingAndGlyphs" transform="rotate(-90 477.90 85.60)" >(0015)</text>
<text x="403.75" y="147.00" font-size="13.50" font-weight="700" textLength="19.40" lengthAdjust="spacingAndGlyphs" >240</text>
<text x="423.35" y="146.70" font-size="15.00" stroke="#000" stroke-width="0.35">&#176;</text>
<text x="428.35" y="147.00" font-size="13.50" font-weight="700" textLength="9.60" lengthAdjust="spacingAndGlyphs" >C</text>
<text x="403.75" y="258.00" font-size="13.50" font-weight="700" textLength="19.40" lengthAdjust="spacingAndGlyphs" >200</text>
<text x="423.35" y="257.70" font-size="15.00" stroke="#000" stroke-width="0.35">&#176;</text>
<text x="428.35" y="258.00" font-size="13.50" font-weight="700" textLength="9.60" lengthAdjust="spacingAndGlyphs" >C</text>
<text x="404.50" y="292.50" font-size="12.00" font-weight="700" textLength="35.50" lengthAdjust="spacingAndGlyphs" >Sb<tspan font-size="8.52" dy="2.88">2</tspan><tspan dy="-2.88">&#8203;</tspan>Te<tspan font-size="8.52" dy="2.88">3</tspan><tspan dy="-2.88">&#8203;</tspan></text>
<text x="404.50" y="308.00" font-size="12.00" font-weight="700" textLength="31.00" lengthAdjust="spacingAndGlyphs" >(x0.5)</text>
</g>
<g id="panel-b">
<line x1="50.30" y1="432.5" x2="50.30" y2="480.0" stroke="#000" stroke-width="1.7" stroke-dasharray="7.8 4.3"/>
<line x1="89.50" y1="442.5" x2="89.50" y2="488.8" stroke="#000" stroke-width="1.7" stroke-dasharray="7.8 4.3"/>
<line x1="116.60" y1="437.0" x2="116.60" y2="485.0" stroke="#000" stroke-width="1.7" stroke-dasharray="7.8 4.3"/>
<line x1="125.40" y1="442.5" x2="125.40" y2="487.5" stroke="#000" stroke-width="1.7" stroke-dasharray="7.8 4.3"/>
<line x1="169.40" y1="442.5" x2="169.40" y2="487.5" stroke="#000" stroke-width="1.7" stroke-dasharray="7.8 4.3"/>
<line x1="101.75" y1="592.5" x2="101.75" y2="626.2" stroke="#000" stroke-width="1.7" stroke-dasharray="7.8 4.3"/>
<line x1="123.75" y1="580.0" x2="123.75" y2="626.2" stroke="#000" stroke-width="1.7" stroke-dasharray="7.8 4.3"/>
<path d="M23.8,436.0 L24.0,436.2 L24.2,436.4 L24.5,436.6 L24.8,436.8 L25.0,437.0 L25.2,437.3 L25.5,437.5 L25.8,437.8 L26.0,438.0 L26.2,438.3 L26.5,438.6 L26.8,439.0 L27.0,439.3 L27.2,439.7 L27.5,440.0 L27.8,440.4 L28.0,440.8 L28.2,441.1 L28.5,441.5 L28.8,441.9 L29.0,442.3 L29.2,442.7 L29.5,443.2 L29.8,443.6 L30.0,444.0 L30.2,444.4 L30.5,444.8 L30.8,445.2 L31.0,445.7 L31.2,446.1 L31.5,446.5 L31.8,446.9 L32.0,447.3 L32.2,447.7 L32.5,448.0 L32.8,448.4 L33.0,448.8 L33.2,449.1 L33.5,449.5 L33.8,449.8 L34.0,450.1 L34.2,450.4 L34.5,450.7 L34.8,451.0 L35.0,451.2 L35.2,451.5 L35.5,451.7 L35.8,452.0 L36.0,452.2 L36.2,452.4 L36.5,452.7 L36.8,452.9 L37.0,453.1 L37.2,453.3 L37.5,453.5 L37.8,453.8 L38.0,454.0 L38.2,454.2 L38.5,454.4 L38.8,454.6 L39.0,454.8 L39.2,455.0 L39.5,455.1 L39.8,455.3 L40.0,455.5 L40.2,455.7 L40.5,455.9 L40.8,456.1 L41.0,456.2 L41.2,456.4 L41.5,456.6 L41.8,456.7 L42.0,456.9 L42.2,457.1 L42.5,457.2 L42.8,457.4 L43.0,457.6 L43.2,457.7 L43.5,457.9 L43.8,458.0 L44.0,458.2 L44.2,458.3 L44.5,458.5 L44.8,458.6 L45.0,458.8 L45.2,458.9 L45.5,459.0 L45.8,459.2 L46.0,459.3 L46.2,459.5 L46.5,459.6 L46.8,459.7 L47.0,459.9 L47.2,460.0 L47.5,460.1 L47.8,460.3 L48.0,460.4 L48.2,460.5 L48.5,460.6 L48.8,460.8 L49.0,460.9 L49.2,461.0 L49.5,461.1 L49.8,461.3 L50.0,461.4 L50.2,461.5 L50.5,461.6 L50.8,461.7 L51.0,461.9 L51.2,462.0 L51.5,462.1 L51.8,462.2 L52.0,462.3 L52.2,462.4 L52.5,462.5 L52.8,462.6 L53.0,462.8 L53.2,462.9 L53.5,463.0 L53.8,463.1 L54.0,463.2 L54.2,463.3 L54.5,463.4 L54.8,463.5 L55.0,463.6 L55.2,463.7 L55.5,463.8 L55.8,463.9 L56.0,464.0 L56.2,464.1 L56.5,464.1 L56.8,464.2 L57.0,464.3 L57.2,464.4 L57.5,464.5 L57.8,464.6 L58.0,464.7 L58.2,464.8 L58.5,464.8 L58.8,464.9 L59.0,465.0 L59.2,465.1 L59.5,465.2 L59.8,465.2 L60.0,465.3 L60.2,465.4 L60.5,465.5 L60.8,465.5 L61.0,465.6 L61.2,465.7 L61.5,465.8 L61.8,465.8 L62.0,465.9 L62.2,466.0 L62.5,466.0 L62.8,466.1 L63.0,466.2 L63.2,466.2 L63.5,466.3 L63.8,466.4 L64.0,466.4 L64.2,466.5 L64.5,466.6 L64.8,466.6 L65.0,466.7 L65.2,466.8 L65.5,466.8 L65.8,466.9 L66.0,467.0 L66.2,467.0 L66.5,467.1 L66.8,467.2 L67.0,467.2 L67.2,467.3 L67.5,467.3 L67.8,467.4 L68.0,467.5 L68.2,467.5 L68.5,467.6 L68.8,467.7 L69.0,467.7 L69.2,467.8 L69.5,467.9 L69.8,467.9 L70.0,468.0 L70.2,468.1 L70.5,468.1 L70.8,468.2 L71.0,468.3 L71.2,468.3 L71.5,468.4 L71.8,468.5 L72.0,468.5 L72.2,468.6 L72.5,468.7 L72.8,468.7 L73.0,468.8 L73.2,468.9 L73.5,468.9 L73.8,469.0 L74.0,469.1 L74.2,469.1 L74.5,469.2 L74.8,469.3 L75.0,469.3 L75.2,469.4 L75.5,469.4 L75.8,469.5 L76.0,469.6 L76.2,469.6 L76.5,469.7 L76.8,469.8 L77.0,469.8 L77.2,469.9 L77.5,470.0 L77.8,470.0 L78.0,470.1 L78.2,470.2 L78.5,470.2 L78.8,470.3 L79.0,470.3 L79.2,470.4 L79.5,470.5 L79.8,470.5 L80.0,470.6 L80.2,470.7 L80.5,470.7 L80.8,470.8 L81.0,470.9 L81.2,470.9 L81.5,471.0 L81.8,471.1 L82.0,471.1 L82.2,471.2 L82.5,471.2 L82.8,471.3 L83.0,471.4 L83.2,471.4 L83.5,471.5 L83.8,471.6 L84.0,471.6 L84.2,471.7 L84.5,471.8 L84.8,471.8 L85.0,471.9 L85.2,472.0 L85.5,472.0 L85.8,472.1 L86.0,472.2 L86.2,472.3 L86.5,472.3 L86.8,472.4 L87.0,472.5 L87.2,472.5 L87.5,472.6 L87.8,472.7 L88.0,472.7 L88.2,472.8 L88.5,472.9 L88.8,472.9 L89.0,473.0 L89.2,473.1 L89.5,473.1 L89.8,473.2 L90.0,473.3 L90.2,473.3 L90.5,473.4 L90.8,473.5 L91.0,473.5 L91.2,473.6 L91.5,473.7 L91.8,473.7 L92.0,473.8 L92.2,473.8 L92.5,473.9 L92.8,474.0 L93.0,474.0 L93.2,474.1 L93.5,474.1 L93.8,474.2 L94.0,474.3 L94.2,474.3 L94.5,474.4 L94.8,474.4 L95.0,474.5 L95.2,474.6 L95.5,474.6 L95.8,474.7 L96.0,474.7 L96.2,474.8 L96.5,474.8 L96.8,474.9 L97.0,474.9 L97.2,475.0 L97.5,475.1 L97.8,475.1 L98.0,475.2 L98.2,475.2 L98.5,475.3 L98.8,475.3 L99.0,475.4 L99.2,475.4 L99.5,475.5 L99.8,475.5 L100.0,475.6 L100.2,475.6 L100.5,475.7 L100.8,475.7 L101.0,475.8 L101.2,475.8 L101.5,475.9 L101.8,475.9 L102.0,476.0 L102.2,476.0 L102.5,476.1 L102.8,476.1 L103.0,476.2 L103.2,476.2 L103.5,476.3 L103.8,476.3 L104.0,476.4 L104.2,476.4 L104.5,476.5 L104.8,476.5 L105.0,476.6 L105.2,476.6 L105.5,476.7 L105.8,476.7 L106.0,476.7 L106.2,476.8 L106.5,476.8 L106.8,476.9 L107.0,476.9 L107.2,477.0 L107.5,477.0 L107.8,477.0 L108.0,477.1 L108.2,477.1 L108.5,477.2 L108.8,477.2 L109.0,477.2 L109.2,477.3 L109.5,477.3 L109.8,477.4 L110.0,477.4 L110.2,477.4 L110.5,477.5 L110.8,477.5 L111.0,477.5 L111.2,477.6 L111.5,477.6 L111.8,477.6 L112.0,477.7 L112.2,477.7 L112.5,477.7 L112.8,477.8 L113.0,477.8 L113.2,477.8 L113.5,477.9 L113.8,477.9 L114.0,477.9 L114.2,478.0 L114.5,478.0 L114.8,478.0 L115.0,478.1 L115.2,478.1 L115.5,478.1 L115.8,478.2 L116.0,478.2 L116.2,478.2 L116.5,478.3 L116.8,478.3 L117.0,478.3 L117.2,478.4 L117.5,478.4 L117.8,478.4 L118.0,478.5 L118.2,478.5 L118.5,478.5 L118.8,478.6 L119.0,478.6 L119.2,478.6 L119.5,478.7 L119.8,478.7 L120.0,478.8 L120.2,478.8 L120.5,478.8 L120.8,478.9 L121.0,478.9 L121.2,478.9 L121.5,479.0 L121.8,479.0 L122.0,479.0 L122.2,479.1 L122.5,479.1 L122.8,479.1 L123.0,479.2 L123.2,479.2 L123.5,479.2 L123.8,479.3 L124.0,479.3 L124.2,479.3 L124.5,479.4 L124.8,479.4 L125.0,479.4 L125.2,479.5 L125.5,479.5 L125.8,479.5 L126.0,479.6 L126.2,479.6 L126.5,479.6 L126.8,479.7 L127.0,479.7 L127.2,479.7 L127.5,479.8 L127.8,479.8 L128.0,479.8 L128.2,479.9 L128.5,479.9 L128.8,479.9 L129.0,480.0 L129.2,480.0 L129.5,480.0 L129.8,480.1 L130.0,480.1 L130.2,480.1 L130.5,480.2 L130.8,480.2 L131.0,480.3 L131.2,480.3 L131.5,480.3 L131.8,480.4 L132.0,480.4 L132.2,480.5 L132.5,480.5 L132.8,480.5 L133.0,480.6 L133.2,480.6 L133.5,480.7 L133.8,480.7 L134.0,480.8 L134.2,480.8 L134.5,480.9 L134.8,480.9 L135.0,481.0 L135.2,481.0 L135.5,481.1 L135.8,481.1 L136.0,481.2 L136.2,481.3 L136.5,481.3 L136.8,481.4 L137.0,481.4 L137.2,481.5 L137.5,481.6 L137.8,481.6 L138.0,481.7 L138.2,481.7 L138.5,481.8 L138.8,481.9 L139.0,481.9 L139.2,482.0 L139.5,482.0 L139.8,482.1 L140.0,482.2 L140.2,482.2 L140.5,482.3 L140.8,482.3 L141.0,482.4 L141.2,482.5 L141.5,482.5 L141.8,482.6 L142.0,482.6 L142.2,482.7 L142.5,482.7 L142.8,482.8 L143.0,482.8 L143.2,482.9 L143.5,482.9 L143.8,483.0 L144.0,483.0 L144.2,483.1 L144.5,483.1 L144.8,483.2 L145.0,483.2 L145.2,483.3 L145.5,483.3 L145.8,483.3 L146.0,483.4 L146.2,483.4 L146.5,483.4 L146.8,483.5 L147.0,483.5 L147.2,483.5 L147.5,483.6 L147.8,483.6 L148.0,483.6 L148.2,483.6 L148.5,483.7 L148.8,483.7 L149.0,483.7 L149.2,483.8 L149.5,483.8 L149.8,483.8 L150.0,483.8 L150.2,483.9 L150.5,483.9 L150.8,483.9 L151.0,483.9 L151.2,484.0 L151.5,484.0 L151.8,484.0 L152.0,484.0 L152.2,484.1 L152.5,484.1 L152.8,484.1 L153.0,484.1 L153.2,484.2 L153.5,484.2 L153.8,484.2 L154.0,484.2 L154.2,484.2 L154.5,484.3 L154.8,484.3 L155.0,484.3 L155.2,484.3 L155.5,484.3 L155.8,484.4 L156.0,484.4 L156.2,484.4 L156.5,484.4 L156.8,484.4 L157.0,484.4 L157.2,484.4 L157.5,484.4 L157.8,484.5 L158.0,484.5 L158.2,484.5 L158.5,484.5 L158.8,484.5 L159.0,484.5 L159.2,484.5 L159.5,484.5 L159.8,484.5 L160.0,484.5 L160.2,484.5 L160.5,484.5 L160.8,484.5 L161.0,484.5 L161.2,484.5 L161.5,484.5 L161.8,484.5 L162.0,484.5 L162.2,484.5 L162.5,484.5 L162.8,484.5 L163.0,484.5 L163.2,484.5 L163.5,484.5 L163.8,484.5 L164.0,484.5 L164.2,484.5 L164.5,484.5 L164.8,484.5 L165.0,484.5 L165.2,484.5 L165.5,484.5 L165.8,484.5 L166.0,484.5 L166.2,484.5 L166.5,484.5 L166.8,484.5 L167.0,484.5 L167.2,484.5 L167.5,484.5 L167.8,484.5 L168.0,484.5 L168.2,484.5 L168.5,484.5 L168.8,484.5 L169.0,484.5 L169.2,484.5 L169.5,484.5 L169.8,484.5 L170.0,484.5 L170.2,484.5 L170.5,484.5 L170.8,484.5 L171.0,484.5 L171.2,484.5 L171.5,484.5 L171.8,484.5 L172.0,484.5 L172.2,484.5 L172.5,484.5 L172.8,484.5 L173.0,484.5 L173.2,484.5 L173.5,484.5 L173.8,484.5 L174.0,484.5 L174.2,484.5 L174.5,484.5 L174.8,484.5 L175.0,484.5 L175.2,484.5 L175.5,484.5 L175.8,484.5 L176.0,484.5 L176.2,484.5 L176.5,484.5 L176.8,484.5 L177.0,484.5 L177.2,484.5 L177.5,484.5 L177.8,484.5 L178.0,484.5 L178.2,484.5 L178.5,484.5 L178.8,484.5 L179.0,484.5 L179.2,484.5 L179.5,484.5 L179.8,484.5 L180.0,484.5 L180.2,484.5 L180.5,484.5 L180.8,484.5 L181.0,484.5 L181.2,484.5 L181.5,484.5 L181.8,484.5 L182.0,484.5 L182.2,484.5 L182.5,484.5 L182.8,484.5 L183.0,484.5 L183.2,484.5 L183.5,484.5 L183.8,484.5 L184.0,484.5 L184.2,484.5 L184.5,484.5 L184.8,484.5 L185.0,484.5 L185.2,484.5 L185.5,484.5 L185.8,484.5 L186.0,484.5 L186.2,484.5 L186.5,484.5 L186.8,484.5 L187.0,484.5 L187.2,484.5 L187.5,484.5 L187.8,484.5 L188.0,484.5 L188.2,484.5 L188.5,484.5 L188.8,484.5 L189.0,484.5 L189.2,484.5 L189.5,484.5 L189.8,484.5 L190.0,484.5 L190.2,484.5 L190.5,484.5 L190.8,484.5 L191.0,484.5 L191.2,484.5 L191.5,484.5 L191.8,484.5 L192.0,484.5 L192.2,484.5 L192.5,484.5 L192.8,484.5 L193.0,484.5 L193.2,484.5 L193.5,484.5 L193.8,484.5 L194.0,484.5 L194.2,484.5 L194.5,484.5 L194.8,484.5 L195.0,484.5 L195.2,484.5 L195.5,484.5 L195.8,484.5 L196.0,484.5 L196.2,484.5 L196.5,484.5 L196.8,484.5 L197.0,484.5 L197.2,484.5 L197.5,484.5 L197.8,484.5 L198.0,484.5 L198.2,484.5 L198.5,484.5 L198.8,484.5 L199.0,484.5 L199.2,484.5 L199.5,484.5 L199.8,484.5 L200.0,484.5 L200.2,484.5 L200.5,484.5 L200.8,484.5 L201.0,484.5 L201.2,484.5 L201.5,484.5 L201.8,484.5 L202.0,484.5 L202.2,484.5 L202.5,484.5 L202.8,484.5 L203.0,484.5 L203.2,484.5 L203.5,484.5 L203.8,484.5 L204.0,484.5 L204.2,484.5 L204.5,484.5 L204.8,484.5 L205.0,484.5 L205.2,484.5 L205.5,484.5 L205.8,484.5 L206.0,484.5 L206.2,484.5 L206.5,484.5 L206.8,484.5 L207.0,484.5 L207.2,484.5 L207.5,484.5 L207.8,484.5 L208.0,484.5 L208.2,484.5 L208.5,484.5 L208.8,484.5 L209.0,484.5 L209.2,484.5 L209.5,484.5 L209.8,484.5 L210.0,484.5 L210.2,484.5 L210.5,484.5 L210.8,484.5 L211.0,484.5 L211.2,484.5 L211.5,484.5 L211.8,484.5 L212.0,484.5 L212.2,484.5 L212.5,484.5 L212.8,484.5 L213.0,484.5 L213.2,484.5 L213.5,484.5 L213.8,484.5 L214.0,484.5 L214.2,484.5 L214.5,484.5 L214.8,484.5 L215.0,484.5 L215.2,484.5 L215.5,484.5 L215.8,484.5 L216.0,484.5 L216.2,484.5 L216.5,484.5 L216.8,484.5 L217.0,484.5 L217.2,484.5 L217.5,484.5 L217.8,484.5 L218.0,484.5 L218.2,484.5 L218.5,484.5 L218.8,484.5 L219.0,484.5 L219.2,484.5 L219.5,484.5 L219.8,484.5 L220.0,484.5 L220.2,484.5 L220.5,484.5 L220.8,484.5 L221.0,484.5 L221.2,484.5 L221.5,484.5 L221.8,484.5 L222.0,484.5 L222.2,484.5 L222.5,484.5 L222.8,484.5 L223.0,484.5 L223.2,484.5 L223.5,484.5 L223.8,484.5 L224.0,484.5 L224.2,484.5 L224.5,484.5 L224.8,484.5 L225.0,484.5 L225.2,484.5 L225.5,484.5 L225.8,484.5 L226.0,484.5 L226.2,484.5 L226.5,484.5 L226.8,484.5 L227.0,484.5 L227.2,484.5 L227.5,484.5 L227.8,484.5 L228.0,484.5 L228.2,484.5 L228.5,484.5 L228.8,484.5 L229.0,484.5 L229.2,484.5 L229.5,484.5 L229.8,484.5 L230.0,484.5 L230.2,484.5 L230.5,484.5 L230.8,484.5 L231.0,484.5 L231.2,484.5 L231.5,484.5 L231.8,484.5 L232.0,484.5 L232.2,484.5 L232.5,484.5 L232.8,484.5 L233.0,484.5 L233.2,484.5 L233.5,484.5 L233.8,484.5 L234.0,484.5 L234.2,484.5 L234.5,484.5 L234.8,484.5 L235.0,484.5 L235.2,484.5 L235.5,484.5 L235.8,484.5 L236.0,484.5 L236.2,484.5 L236.5,484.5 L236.8,484.5 L237.0,484.5 L237.2,484.5 L237.5,484.5 L237.8,484.5 L238.0,484.5 L238.2,484.5 L238.5,484.5 L238.8,484.5 L239.0,484.5 L239.2,484.5 L239.5,484.5 L239.8,484.5 L240.0,484.5 L240.2,484.5 L240.5,484.5 L240.8,484.5 L241.0,484.5 L241.2,484.5 L241.5,484.5 L241.8,484.5 L242.0,484.5 L242.2,484.5 L242.5,484.5 L242.8,484.5 L243.0,484.5 L243.2,484.5 L243.5,484.5 L243.8,484.5 L244.0,484.5 L244.2,484.5 L244.5,484.5 L244.8,484.5 L245.0,484.5 L245.2,484.5 L245.5,484.5 L245.8,484.5 L246.0,484.5 L246.2,484.5 L246.5,484.5 L246.8,484.5 L247.0,484.5 L247.2,484.5 L247.5,484.5 L247.8,484.5 L248.0,484.5 L248.2,484.5 L248.5,484.5 L248.8,484.5 L249.0,484.5 L249.2,484.5 L249.5,484.5 L249.8,484.5 L250.0,484.5 L250.2,484.5 L250.5,484.5 L250.8,484.5 L251.0,484.5 L251.2,484.5 L251.5,484.5 L251.8,484.5 L252.0,484.5 L252.2,484.5 L252.5,484.5 L252.8,484.5 L253.0,484.5 L253.2,484.5 L253.5,484.5 L253.8,484.5 L254.0,484.5 L254.2,484.5 L254.5,484.5 L254.8,484.5" fill="none" stroke="#000" stroke-width="1.80" stroke-linejoin="round" stroke-linecap="butt" stroke-dasharray="1.7 1.7"/>
<path d="M76.2,469.6 L76.5,469.7 L76.8,469.7 L77.0,469.8 L77.2,469.8 L77.5,469.9 L77.8,469.9 L78.0,469.9 L78.2,470.0 L78.5,470.0 L78.8,470.0 L79.0,470.1 L79.2,470.1 L79.5,470.1 L79.8,470.1 L80.0,470.1 L80.2,470.1 L80.5,470.1 L80.8,470.1 L81.0,470.0 L81.2,470.0 L81.5,469.9 L81.8,469.9 L82.0,469.8 L82.2,469.7 L82.5,469.6 L82.8,469.5 L83.0,469.4 L83.2,469.3 L83.5,469.2 L83.8,469.0 L84.0,468.9 L84.2,468.7 L84.5,468.6 L84.8,468.4 L85.0,468.3 L85.2,468.1 L85.5,467.9 L85.8,467.8 L86.0,467.6 L86.2,467.4 L86.5,467.3 L86.8,467.1 L87.0,467.0 L87.2,466.9 L87.5,466.8 L87.8,466.7 L88.0,466.6 L88.2,466.6 L88.5,466.5 L88.8,466.5 L89.0,466.5 L89.2,466.6 L89.5,466.6 L89.8,466.7 L90.0,466.8 L90.2,466.9 L90.5,467.1 L90.8,467.2 L91.0,467.4 L91.2,467.6 L91.5,467.8 L91.8,468.1 L92.0,468.3 L92.2,468.6 L92.5,468.9 L92.8,469.1 L93.0,469.4 L93.2,469.7 L93.5,470.0 L93.8,470.3 L94.0,470.6 L94.2,470.9 L94.5,471.2 L94.8,471.5 L95.0,471.7 L95.2,472.0 L95.5,472.3 L95.8,472.5 L96.0,472.8 L96.2,473.0 L96.5,473.2 L96.8,473.4 L97.0,473.6 L97.2,473.8 L97.5,474.0 L97.8,474.2 L98.0,474.3 L98.2,474.5 L98.5,474.6 L98.8,474.8 L99.0,474.9 L99.2,475.0 L99.5,475.1 L99.8,475.2 L100.0,475.3 L100.2,475.4 L100.5,475.5 L100.8,475.6 L101.0,475.6 L101.2,475.7 L101.5,475.8 L101.8,475.9 L102.0,475.9 L102.2,476.0 L102.5,476.0 L102.8,476.1 L103.0,476.2 L103.2,476.2 L103.5,476.3 L103.8,476.3" fill="none" stroke="#000" stroke-width="1.70" stroke-linejoin="round" stroke-linecap="butt" stroke-dasharray="1.7 1.7"/>
<path d="M100.2,475.6 L100.5,475.6 L100.8,475.7 L101.0,475.7 L101.2,475.7 L101.5,475.8 L101.8,475.8 L102.0,475.8 L102.2,475.8 L102.5,475.9 L102.8,475.9 L103.0,475.9 L103.2,475.9 L103.5,475.9 L103.8,475.8 L104.0,475.8 L104.2,475.8 L104.5,475.7 L104.8,475.7 L105.0,475.6 L105.2,475.5 L105.5,475.4 L105.8,475.3 L106.0,475.2 L106.2,475.0 L106.5,474.9 L106.8,474.7 L107.0,474.5 L107.2,474.3 L107.5,474.1 L107.8,473.8 L108.0,473.5 L108.2,473.2 L108.5,472.9 L108.8,472.6 L109.0,472.2 L109.2,471.8 L109.5,471.4 L109.8,471.0 L110.0,470.6 L110.2,470.1 L110.5,469.7 L110.8,469.2 L111.0,468.7 L111.2,468.2 L111.5,467.7 L111.8,467.2 L112.0,466.7 L112.2,466.2 L112.5,465.7 L112.8,465.2 L113.0,464.8 L113.2,464.3 L113.5,463.9 L113.8,463.5 L114.0,463.1 L114.2,462.7 L114.5,462.4 L114.8,462.1 L115.0,461.9 L115.2,461.7 L115.5,461.5 L115.8,461.4 L116.0,461.3 L116.2,461.3 L116.5,461.3 L116.8,461.3 L117.0,461.4 L117.2,461.6 L117.5,461.8 L117.8,462.0 L118.0,462.3 L118.2,462.6 L118.5,463.0 L118.8,463.3 L119.0,463.8 L119.2,464.2 L119.5,464.7 L119.8,465.2 L120.0,465.7 L120.2,466.3 L120.5,466.8 L120.8,467.4 L121.0,467.9 L121.2,468.5 L121.5,469.1 L121.8,469.6 L122.0,470.2 L122.2,470.8 L122.5,471.3 L122.8,471.8 L123.0,472.4 L123.2,472.9 L123.5,473.4 L123.8,473.8 L124.0,474.3 L124.2,474.7 L124.5,475.1 L124.8,475.5 L125.0,475.9 L125.2,476.2 L125.5,476.6 L125.8,476.9 L126.0,477.2 L126.2,477.4 L126.5,477.7 L126.8,477.9 L127.0,478.1 L127.2,478.3 L127.5,478.5 L127.8,478.7 L128.0,478.9 L128.2,479.0 L128.5,479.1 L128.8,479.3 L129.0,479.4 L129.2,479.5 L129.5,479.6 L129.8,479.7 L130.0,479.8 L130.2,479.9 L130.5,479.9 L130.8,480.0 L131.0,480.1 L131.2,480.1 L131.5,480.2 L131.8,480.3 L132.0,480.3 L132.2,480.4 L132.5,480.4 L132.8,480.5 L133.0,480.5 L133.2,480.6 L133.5,480.6 L133.8,480.7 L134.0,480.8 L134.2,480.8 L134.5,480.9 L134.8,480.9 L135.0,481.0 L135.2,481.0 L135.5,481.1 L135.8,481.1" fill="none" stroke="#000" stroke-width="1.70" stroke-linejoin="round" stroke-linecap="butt" stroke-dasharray="1.7 1.7"/>
<path d="M108.2,477.0 L108.5,477.1 L108.8,477.1 L109.0,477.1 L109.2,477.1 L109.5,477.1 L109.8,477.1 L110.0,477.1 L110.2,477.1 L110.5,477.1 L110.8,477.1 L111.0,477.1 L111.2,477.1 L111.5,477.1 L111.8,477.1 L112.0,477.0 L112.2,477.0 L112.5,477.0 L112.8,476.9 L113.0,476.8 L113.2,476.8 L113.5,476.7 L113.8,476.6 L114.0,476.5 L114.2,476.4 L114.5,476.3 L114.8,476.1 L115.0,476.0 L115.2,475.8 L115.5,475.6 L115.8,475.5 L116.0,475.3 L116.2,475.1 L116.5,474.8 L116.8,474.6 L117.0,474.4 L117.2,474.1 L117.5,473.8 L117.8,473.5 L118.0,473.3 L118.2,472.9 L118.5,472.6 L118.8,472.3 L119.0,472.0 L119.2,471.6 L119.5,471.3 L119.8,470.9 L120.0,470.6 L120.2,470.2 L120.5,469.9 L120.8,469.5 L121.0,469.2 L121.2,468.8 L121.5,468.5 L121.8,468.1 L122.0,467.8 L122.2,467.5 L122.5,467.2 L122.8,466.9 L123.0,466.6 L123.2,466.3 L123.5,466.1 L123.8,465.9 L124.0,465.7 L124.2,465.5 L124.5,465.4 L124.8,465.2 L125.0,465.1 L125.2,465.1 L125.5,465.0 L125.8,465.0 L126.0,465.1 L126.2,465.1 L126.5,465.2 L126.8,465.3 L127.0,465.4 L127.2,465.6 L127.5,465.8 L127.8,466.0 L128.0,466.2 L128.2,466.5 L128.5,466.8 L128.8,467.1 L129.0,467.4 L129.2,467.7 L129.5,468.1 L129.8,468.5 L130.0,468.9 L130.2,469.3 L130.5,469.7 L130.8,470.1 L131.0,470.5 L131.2,471.0 L131.5,471.4 L131.8,471.8 L132.0,472.3 L132.2,472.7 L132.5,473.1 L132.8,473.5 L133.0,473.9 L133.2,474.4 L133.5,474.8 L133.8,475.2 L134.0,475.5 L134.2,475.9 L134.5,476.3 L134.8,476.7 L135.0,477.0 L135.2,477.3 L135.5,477.7 L135.8,478.0 L136.0,478.3 L136.2,478.5 L136.5,478.8 L136.8,479.1 L137.0,479.3 L137.2,479.6 L137.5,479.8 L137.8,480.0 L138.0,480.2 L138.2,480.4 L138.5,480.6 L138.8,480.8 L139.0,480.9 L139.2,481.1 L139.5,481.2 L139.8,481.4 L140.0,481.5 L140.2,481.7 L140.5,481.8 L140.8,481.9 L141.0,482.0 L141.2,482.1 L141.5,482.2 L141.8,482.3 L142.0,482.4 L142.2,482.5 L142.5,482.5 L142.8,482.6 L143.0,482.7 L143.2,482.8 L143.5,482.8 L143.8,482.9 L144.0,483.0 L144.2,483.0 L144.5,483.1 L144.8,483.1 L145.0,483.2 L145.2,483.2 L145.5,483.3 L145.8,483.3" fill="none" stroke="#000" stroke-width="1.70" stroke-linejoin="round" stroke-linecap="butt" stroke-dasharray="1.7 1.7"/>
<path d="M23.8,432.5 L24.0,432.8 L24.2,433.1 L24.5,433.3 L24.8,433.6 L25.0,433.9 L25.2,434.2 L25.5,434.5 L25.8,434.8 L26.0,435.1 L26.2,435.4 L26.5,435.7 L26.8,436.0 L27.0,436.3 L27.2,436.6 L27.5,436.9 L27.8,437.2 L28.0,437.5 L28.2,437.8 L28.5,438.1 L28.8,438.5 L29.0,438.8 L29.2,439.1 L29.5,439.4 L29.8,439.7 L30.0,440.0 L30.2,440.3 L30.5,440.6 L30.8,441.0 L31.0,441.3 L31.2,441.6 L31.5,441.9 L31.8,442.3 L32.0,442.6 L32.2,442.9 L32.5,443.3 L32.8,443.6 L33.0,443.9 L33.2,444.2 L33.5,444.5 L33.8,444.9 L34.0,445.1 L34.2,445.4 L34.5,445.7 L34.8,446.0 L35.0,446.2 L35.2,446.5 L35.5,446.7 L35.8,447.0 L36.0,447.2 L36.2,447.5 L36.5,447.7 L36.8,447.9 L37.0,448.2 L37.2,448.4 L37.5,448.6 L37.8,448.8 L38.0,449.0 L38.2,449.3 L38.5,449.5 L38.8,449.7 L39.0,449.9 L39.2,450.1 L39.5,450.3 L39.8,450.5 L40.0,450.7 L40.2,450.9 L40.5,451.0 L40.8,451.2 L41.0,451.4 L41.2,451.6 L41.5,451.8 L41.8,452.0 L42.0,452.1 L42.2,452.3 L42.5,452.5 L42.8,452.7 L43.0,452.8 L43.2,453.0 L43.5,453.2 L43.8,453.4 L44.0,453.5 L44.2,453.7 L44.5,453.9 L44.8,454.0 L45.0,454.2 L45.2,454.3 L45.5,454.5 L45.8,454.6 L46.0,454.8 L46.2,455.0 L46.5,455.1 L46.8,455.3 L47.0,455.4 L47.2,455.5 L47.5,455.7 L47.8,455.8 L48.0,456.0 L48.2,456.1 L48.5,456.2 L48.8,456.4 L49.0,456.5 L49.2,456.6 L49.5,456.8 L49.8,456.9 L50.0,457.0 L50.2,457.1 L50.5,457.2 L50.8,457.4 L51.0,457.5 L51.2,457.6 L51.5,457.7 L51.8,457.8 L52.0,457.9 L52.2,458.0 L52.5,458.1 L52.8,458.2 L53.0,458.3 L53.2,458.4 L53.5,458.5 L53.8,458.6 L54.0,458.7 L54.2,458.8 L54.5,458.9 L54.8,459.0 L55.0,459.1 L55.2,459.2 L55.5,459.3 L55.8,459.4 L56.0,459.5 L56.2,459.5 L56.5,459.6 L56.8,459.7 L57.0,459.8 L57.2,459.9 L57.5,460.0 L57.8,460.1 L58.0,460.2 L58.2,460.3 L58.5,460.4 L58.8,460.4 L59.0,460.5 L59.2,460.6 L59.5,460.7 L59.8,460.8 L60.0,460.9 L60.2,461.0 L60.5,461.1 L60.8,461.1 L61.0,461.2 L61.2,461.3 L61.5,461.4 L61.8,461.5 L62.0,461.6 L62.2,461.6 L62.5,461.7 L62.8,461.8 L63.0,461.9 L63.2,462.0 L63.5,462.0 L63.8,462.1 L64.0,462.2 L64.2,462.3 L64.5,462.4 L64.8,462.4 L65.0,462.5 L65.2,462.6 L65.5,462.6 L65.8,462.7 L66.0,462.8 L66.2,462.9 L66.5,462.9 L66.8,463.0 L67.0,463.1 L67.2,463.1 L67.5,463.2 L67.8,463.3 L68.0,463.3 L68.2,463.4 L68.5,463.5 L68.8,463.5 L69.0,463.6 L69.2,463.7 L69.5,463.7 L69.8,463.8 L70.0,463.9 L70.2,463.9 L70.5,464.0 L70.8,464.1 L71.0,464.1 L71.2,464.2 L71.5,464.3 L71.8,464.3 L72.0,464.4 L72.2,464.4 L72.5,464.5 L72.8,464.6 L73.0,464.6 L73.2,464.7 L73.5,464.8 L73.8,464.8 L74.0,464.9 L74.2,465.0 L74.5,465.1 L74.8,465.2 L75.0,465.2 L75.2,465.3 L75.5,465.4 L75.8,465.5 L76.0,465.5 L76.2,465.6 L76.5,465.7 L76.8,465.7 L77.0,465.8 L77.2,465.9 L77.5,465.9 L77.8,466.0 L78.0,466.0 L78.2,466.1 L78.5,466.1 L78.8,466.2 L79.0,466.2 L79.2,466.2 L79.5,466.2 L79.8,466.2 L80.0,466.2 L80.2,466.2 L80.5,466.2 L80.8,466.2 L81.0,466.2 L81.2,466.2 L81.5,466.1 L81.8,466.1 L82.0,466.1 L82.2,466.0 L82.5,466.0 L82.8,466.0 L83.0,465.9 L83.2,465.9 L83.5,465.8 L83.8,465.8 L84.0,465.7 L84.2,465.7 L84.5,465.6 L84.8,465.6 L85.0,465.6 L85.2,465.5 L85.5,465.5 L85.8,465.5 L86.0,465.4 L86.2,465.4 L86.5,465.4 L86.8,465.3 L87.0,465.3 L87.2,465.3 L87.5,465.2 L87.8,465.2 L88.0,465.1 L88.2,465.1 L88.5,465.1 L88.8,465.1 L89.0,465.0 L89.2,465.0 L89.5,465.0 L89.8,465.0 L90.0,465.0 L90.2,465.0 L90.5,465.0 L90.8,465.1 L91.0,465.2 L91.2,465.2 L91.5,465.3 L91.8,465.4 L92.0,465.6 L92.2,465.7 L92.5,465.8 L92.8,466.0 L93.0,466.2 L93.2,466.3 L93.5,466.5 L93.8,466.7 L94.0,466.8 L94.2,467.0 L94.5,467.2 L94.8,467.3 L95.0,467.5 L95.2,467.7 L95.5,467.9 L95.8,468.1 L96.0,468.3 L96.2,468.5 L96.5,468.8 L96.8,469.0 L97.0,469.3 L97.2,469.6 L97.5,469.8 L97.8,470.1 L98.0,470.3 L98.2,470.6 L98.5,470.8 L98.8,471.1 L99.0,471.3 L99.2,471.5 L99.5,471.7 L99.8,471.9 L100.0,472.0 L100.2,472.1 L100.5,472.3 L100.8,472.4 L101.0,472.5 L101.2,472.7 L101.5,472.8 L101.8,472.9 L102.0,472.9 L102.2,473.0 L102.5,473.0 L102.8,473.0 L103.0,472.9 L103.2,472.8 L103.5,472.7 L103.8,472.6 L104.0,472.5 L104.2,472.3 L104.5,472.1 L104.8,471.9 L105.0,471.7 L105.2,471.4 L105.5,471.2 L105.8,471.0 L106.0,470.7 L106.2,470.5 L106.5,470.3 L106.8,470.0 L107.0,469.7 L107.2,469.3 L107.5,469.0 L107.8,468.6 L108.0,468.2 L108.2,467.8 L108.5,467.4 L108.8,467.0 L109.0,466.6 L109.2,466.2 L109.5,465.8 L109.8,465.4 L110.0,465.0 L110.2,464.6 L110.5,464.2 L110.8,463.8 L111.0,463.4 L111.2,462.9 L111.5,462.5 L111.8,462.1 L112.0,461.6 L112.2,461.2 L112.5,460.7 L112.8,460.3 L113.0,459.9 L113.2,459.5 L113.5,459.1 L113.8,458.7 L114.0,458.3 L114.2,457.9 L114.5,457.6 L114.8,457.3 L115.0,457.0 L115.2,456.7 L115.5,456.4 L115.8,456.2 L116.0,455.9 L116.2,455.6 L116.5,455.3 L116.8,455.1 L117.0,454.9 L117.2,454.6 L117.5,454.4 L117.8,454.2 L118.0,454.1 L118.2,453.9 L118.5,453.8 L118.8,453.8 L119.0,453.7 L119.2,453.6 L119.5,453.6 L119.8,453.5 L120.0,453.5 L120.2,453.4 L120.5,453.4 L120.8,453.3 L121.0,453.3 L121.2,453.3 L121.5,453.3 L121.8,453.3 L122.0,453.2 L122.2,453.3 L122.5,453.3 L122.8,453.4 L123.0,453.4 L123.2,453.5 L123.5,453.7 L123.8,453.8 L124.0,453.9 L124.2,454.1 L124.5,454.2 L124.8,454.4 L125.0,454.5 L125.2,454.7 L125.5,454.9 L125.8,455.1 L126.0,455.3 L126.2,455.6 L126.5,455.8 L126.8,456.1 L127.0,456.4 L127.2,456.7 L127.5,457.1 L127.8,457.4 L128.0,457.7 L128.2,458.1 L128.5,458.4 L128.8,458.8 L129.0,459.1 L129.2,459.5 L129.5,459.8 L129.8,460.2 L130.0,460.5 L130.2,460.8 L130.5,461.2 L130.8,461.5 L131.0,461.8 L131.2,462.2 L131.5,462.5 L131.8,462.9 L132.0,463.2 L132.2,463.6 L132.5,463.9 L132.8,464.3 L133.0,464.6 L133.2,465.0 L133.5,465.4 L133.8,465.7 L134.0,466.1 L134.2,466.4 L134.5,466.8 L134.8,467.1 L135.0,467.5 L135.2,467.9 L135.5,468.2 L135.8,468.6 L136.0,468.9 L136.2,469.3 L136.5,469.7 L136.8,470.0 L137.0,470.4 L137.2,470.8 L137.5,471.1 L137.8,471.5 L138.0,471.8 L138.2,472.2 L138.5,472.5 L138.8,472.9 L139.0,473.2 L139.2,473.6 L139.5,473.9 L139.8,474.2 L140.0,474.5 L140.2,474.8 L140.5,475.1 L140.8,475.4 L141.0,475.7 L141.2,476.0 L141.5,476.3 L141.8,476.6 L142.0,476.9 L142.2,477.2 L142.5,477.4 L142.8,477.7 L143.0,477.9 L143.2,478.1 L143.5,478.3 L143.8,478.5 L144.0,478.7 L144.2,478.8 L144.5,479.0 L144.8,479.2 L145.0,479.3 L145.2,479.5 L145.5,479.6 L145.8,479.8 L146.0,479.9 L146.2,480.0 L146.5,480.1 L146.8,480.2 L147.0,480.3 L147.2,480.3 L147.5,480.3 L147.8,480.3 L148.0,480.3 L148.2,480.3 L148.5,480.3 L148.8,480.3 L149.0,480.3 L149.2,480.3 L149.5,480.2 L149.8,480.2 L150.0,480.2 L150.2,480.2 L150.5,480.2 L150.8,480.2 L151.0,480.2 L151.2,480.1 L151.5,480.1 L151.8,480.1 L152.0,480.1 L152.2,480.1 L152.5,480.1 L152.8,480.1 L153.0,480.1 L153.2,480.0 L153.5,480.0 L153.8,480.0 L154.0,480.0 L154.2,480.0 L154.5,480.0 L154.8,480.0 L155.0,480.0 L155.2,480.0 L155.5,480.0 L155.8,480.0 L156.0,480.0 L156.2,480.0 L156.5,480.0 L156.8,480.0 L157.0,480.0 L157.2,480.0 L157.5,480.0 L157.8,480.0 L158.0,480.0 L158.2,480.0 L158.5,480.0 L158.8,480.0 L159.0,480.0 L159.2,480.0 L159.5,480.0 L159.8,480.0 L160.0,480.0 L160.2,480.0 L160.5,480.0 L160.8,480.0 L161.0,480.0 L161.2,480.0 L161.5,480.0 L161.8,480.0 L162.0,480.0 L162.2,480.0 L162.5,480.0 L162.8,480.0 L163.0,480.0 L163.2,480.0 L163.5,480.0 L163.8,480.0 L164.0,480.0 L164.2,480.0 L164.5,480.0 L164.8,480.0 L165.0,480.0 L165.2,480.0 L165.5,480.0 L165.8,480.0 L166.0,480.0 L166.2,480.0 L166.5,480.0 L166.8,480.0 L167.0,480.0 L167.2,480.0 L167.5,480.0 L167.8,480.0 L168.0,480.0 L168.2,480.0 L168.5,480.0 L168.8,480.0 L169.0,480.0 L169.2,480.0 L169.5,480.0 L169.8,480.0 L170.0,480.0 L170.2,480.0 L170.5,480.0 L170.8,480.0 L171.0,480.0 L171.2,480.0 L171.5,480.0 L171.8,480.0 L172.0,480.0 L172.2,480.0 L172.5,480.0 L172.8,480.0 L173.0,480.0 L173.2,480.0 L173.5,480.0 L173.8,480.0 L174.0,480.0 L174.2,480.0 L174.5,480.0 L174.8,480.0 L175.0,480.0 L175.2,480.0 L175.5,480.0 L175.8,480.0 L176.0,480.0 L176.2,480.0 L176.5,480.0 L176.8,480.0 L177.0,480.0 L177.2,480.0 L177.5,480.0 L177.8,480.0 L178.0,480.0 L178.2,480.0 L178.5,480.0 L178.8,480.0 L179.0,480.0 L179.2,480.0 L179.5,480.0 L179.8,480.0 L180.0,480.0 L180.2,480.0 L180.5,480.0 L180.8,480.0 L181.0,480.0 L181.2,480.0 L181.5,480.0 L181.8,480.0 L182.0,480.0 L182.2,480.0 L182.5,480.0 L182.8,480.0 L183.0,480.0 L183.2,480.0 L183.5,480.0 L183.8,480.0 L184.0,480.0 L184.2,480.0 L184.5,480.0 L184.8,480.0 L185.0,480.0 L185.2,480.0 L185.5,480.0 L185.8,480.0 L186.0,480.1 L186.2,480.1 L186.5,480.1 L186.8,480.1 L187.0,480.1 L187.2,480.1 L187.5,480.1 L187.8,480.1 L188.0,480.1 L188.2,480.1 L188.5,480.1 L188.8,480.1 L189.0,480.1 L189.2,480.1 L189.5,480.1 L189.8,480.1 L190.0,480.1 L190.2,480.1 L190.5,480.1 L190.8,480.2 L191.0,480.2 L191.2,480.2 L191.5,480.2 L191.8,480.2 L192.0,480.2 L192.2,480.2 L192.5,480.2 L192.8,480.2 L193.0,480.2 L193.2,480.2 L193.5,480.2 L193.8,480.2 L194.0,480.2 L194.2,480.2 L194.5,480.2 L194.8,480.3 L195.0,480.3 L195.2,480.3 L195.5,480.3 L195.8,480.3 L196.0,480.3 L196.2,480.3 L196.5,480.3 L196.8,480.3 L197.0,480.3 L197.2,480.3 L197.5,480.3 L197.8,480.3 L198.0,480.3 L198.2,480.3 L198.5,480.4 L198.8,480.4 L199.0,480.4 L199.2,480.4 L199.5,480.4 L199.8,480.4 L200.0,480.4 L200.2,480.4 L200.5,480.4 L200.8,480.4 L201.0,480.4 L201.2,480.4 L201.5,480.4 L201.8,480.4 L202.0,480.4 L202.2,480.4 L202.5,480.5 L202.8,480.5 L203.0,480.5 L203.2,480.5 L203.5,480.5 L203.8,480.5 L204.0,480.5 L204.2,480.5 L204.5,480.5 L204.8,480.5 L205.0,480.5 L205.2,480.5 L205.5,480.5 L205.8,480.5 L206.0,480.5 L206.2,480.5 L206.5,480.5 L206.8,480.5 L207.0,480.5 L207.2,480.5 L207.5,480.5 L207.8,480.5 L208.0,480.6 L208.2,480.6 L208.5,480.6 L208.8,480.6 L209.0,480.6 L209.2,480.6 L209.5,480.6 L209.8,480.6 L210.0,480.6 L210.2,480.6 L210.5,480.6 L210.8,480.6 L211.0,480.6 L211.2,480.6 L211.5,480.6 L211.8,480.6 L212.0,480.6 L212.2,480.6 L212.5,480.6 L212.8,480.6 L213.0,480.6 L213.2,480.6 L213.5,480.6 L213.8,480.7 L214.0,480.7 L214.2,480.7 L214.5,480.7 L214.8,480.7 L215.0,480.7 L215.2,480.7 L215.5,480.7 L215.8,480.7 L216.0,480.7 L216.2,480.7 L216.5,480.7 L216.8,480.7 L217.0,480.7 L217.2,480.7 L217.5,480.7 L217.8,480.7 L218.0,480.7 L218.2,480.7 L218.5,480.7 L218.8,480.7 L219.0,480.7 L219.2,480.7 L219.5,480.7 L219.8,480.7 L220.0,480.8 L220.2,480.8 L220.5,480.8 L220.8,480.8 L221.0,480.8 L221.2,480.8 L221.5,480.8 L221.8,480.8 L222.0,480.8 L222.2,480.8 L222.5,480.8 L222.8,480.8 L223.0,480.8 L223.2,480.8 L223.5,480.8 L223.8,480.8 L224.0,480.8 L224.2,480.8 L224.5,480.8 L224.8,480.8 L225.0,480.8 L225.2,480.8 L225.5,480.8 L225.8,480.8 L226.0,480.8 L226.2,480.9 L226.5,480.9 L226.8,480.9 L227.0,480.9 L227.2,480.9 L227.5,480.9 L227.8,480.9 L228.0,480.9 L228.2,480.9 L228.5,480.9 L228.8,480.9 L229.0,480.9 L229.2,480.9 L229.5,480.9 L229.8,480.9 L230.0,480.9 L230.2,480.9 L230.5,480.9 L230.8,480.9 L231.0,480.9 L231.2,480.9 L231.5,480.9 L231.8,480.9 L232.0,480.9 L232.2,480.9 L232.5,480.9 L232.8,481.0 L233.0,481.0 L233.2,481.0 L233.5,481.0 L233.8,481.0 L234.0,481.0 L234.2,481.0 L234.5,481.0 L234.8,481.0 L235.0,481.0 L235.2,481.0 L235.5,481.0 L235.8,481.0 L236.0,481.0 L236.2,481.0 L236.5,481.0 L236.8,481.0 L237.0,481.0 L237.2,481.0 L237.5,481.0 L237.8,481.0 L238.0,481.0 L238.2,481.0 L238.5,481.0 L238.8,481.0 L239.0,481.0 L239.2,481.0 L239.5,481.1 L239.8,481.1 L240.0,481.1 L240.2,481.1 L240.5,481.1 L240.8,481.1 L241.0,481.1 L241.2,481.1 L241.5,481.1 L241.8,481.1 L242.0,481.1 L242.2,481.1 L242.5,481.1 L242.8,481.1 L243.0,481.1 L243.2,481.1 L243.5,481.1 L243.8,481.1 L244.0,481.1 L244.2,481.1 L244.5,481.1 L244.8,481.1 L245.0,481.1 L245.2,481.1 L245.5,481.1 L245.8,481.1 L246.0,481.1 L246.2,481.1 L246.5,481.1 L246.8,481.1 L247.0,481.2 L247.2,481.2 L247.5,481.2 L247.8,481.2 L248.0,481.2 L248.2,481.2 L248.5,481.2 L248.8,481.2 L249.0,481.2 L249.2,481.2 L249.5,481.2 L249.8,481.2 L250.0,481.2 L250.2,481.2 L250.5,481.2 L250.8,481.2 L251.0,481.2 L251.2,481.2 L251.5,481.2 L251.8,481.2 L252.0,481.2 L252.2,481.2 L252.5,481.2 L252.8,481.2 L253.0,481.2 L253.2,481.2 L253.5,481.2 L253.8,481.2 L254.0,481.2 L254.2,481.2 L254.5,481.2 L254.8,481.2" fill="none" stroke="#000" stroke-width="2.30" stroke-linejoin="round" stroke-linecap="butt" />
<path d="M23.8,443.0 L24.0,444.8 L24.2,446.7 L24.5,448.5 L24.8,450.4 L25.0,452.2 L25.2,454.1 L25.5,456.0 L25.8,457.9 L26.0,459.8 L26.2,461.7 L26.5,463.6 L26.8,465.5 L27.0,467.5 L27.2,469.4 L27.5,471.4 L27.8,473.4 L28.0,475.4 L28.2,477.3 L28.5,479.2 L28.8,481.0 L29.0,482.7 L29.2,484.3 L29.5,485.8 L29.8,487.3 L30.0,488.8 L30.2,490.2 L30.5,491.6 L30.8,493.1 L31.0,494.5 L31.2,496.0 L31.5,497.5 L31.8,499.1 L32.0,500.7 L32.2,502.3 L32.5,503.9 L32.8,505.4 L33.0,506.9 L33.2,508.4 L33.5,509.7 L33.8,511.0 L34.0,512.2 L34.2,513.3 L34.5,514.4 L34.8,515.5 L35.0,516.5 L35.2,517.5 L35.5,518.4 L35.8,519.4 L36.0,520.3 L36.2,521.2 L36.5,522.2 L36.8,523.1 L37.0,524.0 L37.2,525.0 L37.5,526.0 L37.8,527.0 L38.0,528.0 L38.2,529.0 L38.5,530.1 L38.8,531.1 L39.0,532.1 L39.2,533.1 L39.5,534.1 L39.8,535.2 L40.0,536.2 L40.2,537.2 L40.5,538.1 L40.8,539.1 L41.0,540.1 L41.2,541.0 L41.5,541.9 L41.8,542.8 L42.0,543.8 L42.2,544.7 L42.5,545.6 L42.8,546.4 L43.0,547.3 L43.2,548.2 L43.5,549.0 L43.8,549.9 L44.0,550.7 L44.2,551.6 L44.5,552.4 L44.8,553.2 L45.0,554.0 L45.2,554.8 L45.5,555.6 L45.8,556.4 L46.0,557.2 L46.2,557.9 L46.5,558.7 L46.8,559.5 L47.0,560.3 L47.2,561.0 L47.5,561.8 L47.8,562.5 L48.0,563.2 L48.2,563.9 L48.5,564.6 L48.8,565.3 L49.0,566.0 L49.2,566.6 L49.5,567.3 L49.8,567.9 L50.0,568.5 L50.2,569.1 L50.5,569.7 L50.8,570.2 L51.0,570.8 L51.2,571.3 L51.5,571.8 L51.8,572.4 L52.0,572.9 L52.2,573.4 L52.5,573.9 L52.8,574.4 L53.0,574.8 L53.2,575.3 L53.5,575.8 L53.8,576.2 L54.0,576.7 L54.2,577.2 L54.5,577.6 L54.8,578.1 L55.0,578.5 L55.2,578.9 L55.5,579.4 L55.8,579.8 L56.0,580.2 L56.2,580.7 L56.5,581.1 L56.8,581.5 L57.0,581.9 L57.2,582.3 L57.5,582.7 L57.8,583.1 L58.0,583.5 L58.2,583.9 L58.5,584.3 L58.8,584.6 L59.0,585.0 L59.2,585.4 L59.5,585.8 L59.8,586.1 L60.0,586.5 L60.2,586.9 L60.5,587.2 L60.8,587.6 L61.0,587.9 L61.2,588.3 L61.5,588.6 L61.8,589.0 L62.0,589.3 L62.2,589.7 L62.5,590.0 L62.8,590.4 L63.0,590.7 L63.2,591.0 L63.5,591.4 L63.8,591.7 L64.0,592.0 L64.2,592.3 L64.5,592.7 L64.8,593.0 L65.0,593.3 L65.2,593.6 L65.5,593.9 L65.8,594.2 L66.0,594.5 L66.2,594.8 L66.5,595.0 L66.8,595.3 L67.0,595.6 L67.2,595.9 L67.5,596.1 L67.8,596.4 L68.0,596.6 L68.2,596.9 L68.5,597.2 L68.8,597.4 L69.0,597.7 L69.2,597.9 L69.5,598.2 L69.8,598.4 L70.0,598.6 L70.2,598.9 L70.5,599.1 L70.8,599.4 L71.0,599.6 L71.2,599.8 L71.5,600.1 L71.8,600.3 L72.0,600.5 L72.2,600.8 L72.5,601.0 L72.8,601.2 L73.0,601.5 L73.2,601.7 L73.5,601.9 L73.8,602.2 L74.0,602.4 L74.2,602.6 L74.5,602.8 L74.8,603.1 L75.0,603.3 L75.2,603.5 L75.5,603.7 L75.8,603.9 L76.0,604.2 L76.2,604.4 L76.5,604.6 L76.8,604.8 L77.0,605.0 L77.2,605.2 L77.5,605.4 L77.8,605.7 L78.0,605.9 L78.2,606.1 L78.5,606.3 L78.8,606.5 L79.0,606.7 L79.2,606.9 L79.5,607.1 L79.8,607.3 L80.0,607.5 L80.2,607.7 L80.5,607.9 L80.8,608.1 L81.0,608.3 L81.2,608.5 L81.5,608.7 L81.8,608.9 L82.0,609.1 L82.2,609.3 L82.5,609.5 L82.8,609.7 L83.0,609.9 L83.2,610.1 L83.5,610.2 L83.8,610.4 L84.0,610.6 L84.2,610.8 L84.5,611.0 L84.8,611.2 L85.0,611.4 L85.2,611.5 L85.5,611.7 L85.8,611.9 L86.0,612.0 L86.2,612.2 L86.5,612.4 L86.8,612.5 L87.0,612.7 L87.2,612.8 L87.5,613.0 L87.8,613.1 L88.0,613.3 L88.2,613.4 L88.5,613.6 L88.8,613.7 L89.0,613.9 L89.2,614.0 L89.5,614.1 L89.8,614.3 L90.0,614.4 L90.2,614.5 L90.5,614.7 L90.8,614.8 L91.0,614.9 L91.2,615.0 L91.5,615.2 L91.8,615.3 L92.0,615.4 L92.2,615.5 L92.5,615.7 L92.8,615.8 L93.0,615.9 L93.2,616.0 L93.5,616.1 L93.8,616.2 L94.0,616.3 L94.2,616.4 L94.5,616.5 L94.8,616.6 L95.0,616.8 L95.2,616.9 L95.5,617.0 L95.8,617.1 L96.0,617.2 L96.2,617.3 L96.5,617.3 L96.8,617.4 L97.0,617.5 L97.2,617.6 L97.5,617.7 L97.8,617.8 L98.0,617.9 L98.2,618.0 L98.5,618.1 L98.8,618.2 L99.0,618.3 L99.2,618.4 L99.5,618.5 L99.8,618.5 L100.0,618.6 L100.2,618.7 L100.5,618.8 L100.8,618.9 L101.0,619.0 L101.2,619.1 L101.5,619.1 L101.8,619.2 L102.0,619.3 L102.2,619.4 L102.5,619.5 L102.8,619.5 L103.0,619.6 L103.2,619.7 L103.5,619.8 L103.8,619.9 L104.0,619.9 L104.2,620.0 L104.5,620.1 L104.8,620.2 L105.0,620.3 L105.2,620.3 L105.5,620.4 L105.8,620.5 L106.0,620.6 L106.2,620.6 L106.5,620.7 L106.8,620.8 L107.0,620.9 L107.2,620.9 L107.5,621.0 L107.8,621.1 L108.0,621.1 L108.2,621.2 L108.5,621.3 L108.8,621.4 L109.0,621.4 L109.2,621.5 L109.5,621.6 L109.8,621.6 L110.0,621.7 L110.2,621.8 L110.5,621.9 L110.8,621.9 L111.0,622.0 L111.2,622.1 L111.5,622.1 L111.8,622.2 L112.0,622.3 L112.2,622.3 L112.5,622.4 L112.8,622.5 L113.0,622.5 L113.2,622.6 L113.5,622.6 L113.8,622.7 L114.0,622.8 L114.2,622.8 L114.5,622.9 L114.8,623.0 L115.0,623.0 L115.2,623.1 L115.5,623.2 L115.8,623.2 L116.0,623.3 L116.2,623.3 L116.5,623.4 L116.8,623.5 L117.0,623.5 L117.2,623.6 L117.5,623.6 L117.8,623.7 L118.0,623.8 L118.2,623.8 L118.5,623.9 L118.8,624.0 L119.0,624.0 L119.2,624.1 L119.5,624.1 L119.8,624.2 L120.0,624.2 L120.2,624.3 L120.5,624.4 L120.8,624.4 L121.0,624.5 L121.2,624.5 L121.5,624.6 L121.8,624.7 L122.0,624.7 L122.2,624.8 L122.5,624.8 L122.8,624.9 L123.0,625.0 L123.2,625.0 L123.5,625.1 L123.8,625.1 L124.0,625.2 L124.2,625.2 L124.5,625.3 L124.8,625.4 L125.0,625.4 L125.2,625.5 L125.5,625.5 L125.8,625.6 L126.0,625.6 L126.2,625.7 L126.5,625.8 L126.8,625.8 L127.0,625.9 L127.2,625.9 L127.5,626.0 L127.8,626.0 L128.0,626.1 L128.2,626.1 L128.5,626.2 L128.8,626.2 L129.0,626.3 L129.2,626.3 L129.5,626.4 L129.8,626.5 L130.0,626.5 L130.2,626.6 L130.5,626.6 L130.8,626.7 L131.0,626.7 L131.2,626.8 L131.5,626.8 L131.8,626.9 L132.0,626.9 L132.2,627.0 L132.5,627.0 L132.8,627.0 L133.0,627.1 L133.2,627.1 L133.5,627.2 L133.8,627.2 L134.0,627.3 L134.2,627.3 L134.5,627.4 L134.8,627.4 L135.0,627.5 L135.2,627.5 L135.5,627.5 L135.8,627.6 L136.0,627.6 L136.2,627.7 L136.5,627.7 L136.8,627.8 L137.0,627.8 L137.2,627.8 L137.5,627.9 L137.8,627.9 L138.0,628.0 L138.2,628.0 L138.5,628.1 L138.8,628.1 L139.0,628.1 L139.2,628.2 L139.5,628.2 L139.8,628.3 L140.0,628.3 L140.2,628.3 L140.5,628.4 L140.8,628.4 L141.0,628.5 L141.2,628.5 L141.5,628.6 L141.8,628.6 L142.0,628.6 L142.2,628.7 L142.5,628.7 L142.8,628.8 L143.0,628.8 L143.2,628.8 L143.5,628.9 L143.8,628.9 L144.0,629.0 L144.2,629.0 L144.5,629.1 L144.8,629.1 L145.0,629.1 L145.2,629.2 L145.5,629.2 L145.8,629.3 L146.0,629.3 L146.2,629.4 L146.5,629.4 L146.8,629.4 L147.0,629.5 L147.2,629.5 L147.5,629.6 L147.8,629.6 L148.0,629.6 L148.2,629.7 L148.5,629.7 L148.8,629.8 L149.0,629.8 L149.2,629.8 L149.5,629.9 L149.8,629.9 L150.0,629.9 L150.2,630.0 L150.5,630.0 L150.8,630.1 L151.0,630.1 L151.2,630.1 L151.5,630.2 L151.8,630.2 L152.0,630.2 L152.2,630.3 L152.5,630.3 L152.8,630.3 L153.0,630.4 L153.2,630.4 L153.5,630.4 L153.8,630.5 L154.0,630.5 L154.2,630.5 L154.5,630.6 L154.8,630.6 L155.0,630.6 L155.2,630.7 L155.5,630.7 L155.8,630.7 L156.0,630.8 L156.2,630.8 L156.5,630.8 L156.8,630.9 L157.0,630.9 L157.2,630.9 L157.5,631.0 L157.8,631.0 L158.0,631.0 L158.2,631.1 L158.5,631.1 L158.8,631.1 L159.0,631.2 L159.2,631.2 L159.5,631.2 L159.8,631.2 L160.0,631.3 L160.2,631.3 L160.5,631.3 L160.8,631.4 L161.0,631.4 L161.2,631.4 L161.5,631.4 L161.8,631.5 L162.0,631.5 L162.2,631.5 L162.5,631.5 L162.8,631.6 L163.0,631.6 L163.2,631.6 L163.5,631.6 L163.8,631.7 L164.0,631.7 L164.2,631.7 L164.5,631.7 L164.8,631.7 L165.0,631.8 L165.2,631.8 L165.5,631.8 L165.8,631.8 L166.0,631.8 L166.2,631.8 L166.5,631.9 L166.8,631.9 L167.0,631.9 L167.2,631.9 L167.5,631.9 L167.8,631.9 L168.0,632.0 L168.2,632.0 L168.5,632.0 L168.8,632.0 L169.0,632.0 L169.2,632.1 L169.5,632.1 L169.8,632.1 L170.0,632.1 L170.2,632.1 L170.5,632.1 L170.8,632.2 L171.0,632.2 L171.2,632.2 L171.5,632.2 L171.8,632.2 L172.0,632.2 L172.2,632.2 L172.5,632.3 L172.8,632.3 L173.0,632.3 L173.2,632.3 L173.5,632.3 L173.8,632.3 L174.0,632.4 L174.2,632.4 L174.5,632.4 L174.8,632.4 L175.0,632.4 L175.2,632.4 L175.5,632.4 L175.8,632.5 L176.0,632.5 L176.2,632.5 L176.5,632.5 L176.8,632.5 L177.0,632.5 L177.2,632.5 L177.5,632.6 L177.8,632.6 L178.0,632.6 L178.2,632.6 L178.5,632.6 L178.8,632.6 L179.0,632.6 L179.2,632.6 L179.5,632.7 L179.8,632.7 L180.0,632.7 L180.2,632.7 L180.5,632.7 L180.8,632.7 L181.0,632.7 L181.2,632.7 L181.5,632.8 L181.8,632.8 L182.0,632.8 L182.2,632.8 L182.5,632.8 L182.8,632.8 L183.0,632.8 L183.2,632.8 L183.5,632.8 L183.8,632.8 L184.0,632.8 L184.2,632.9 L184.5,632.9 L184.8,632.9 L185.0,632.9 L185.2,632.9 L185.5,632.9 L185.8,632.9 L186.0,632.9 L186.2,632.9 L186.5,632.9 L186.8,632.9 L187.0,632.9 L187.2,632.9 L187.5,633.0 L187.8,633.0 L188.0,633.0 L188.2,633.0 L188.5,633.0 L188.8,633.0 L189.0,633.0 L189.2,633.0 L189.5,633.0 L189.8,633.0 L190.0,633.0 L190.2,633.0 L190.5,633.0 L190.8,633.0 L191.0,633.0 L191.2,633.0 L191.5,633.0 L191.8,633.0 L192.0,633.0 L192.2,633.0 L192.5,633.0 L192.8,633.0 L193.0,633.0 L193.2,633.0 L193.5,633.0 L193.8,633.1 L194.0,633.1 L194.2,633.1 L194.5,633.1 L194.8,633.1 L195.0,633.1 L195.2,633.1 L195.5,633.1 L195.8,633.1 L196.0,633.1 L196.2,633.1 L196.5,633.1 L196.8,633.1 L197.0,633.1 L197.2,633.1 L197.5,633.1 L197.8,633.1 L198.0,633.1 L198.2,633.1 L198.5,633.1 L198.8,633.1 L199.0,633.1 L199.2,633.1 L199.5,633.1 L199.8,633.1 L200.0,633.1 L200.2,633.1 L200.5,633.1 L200.8,633.1 L201.0,633.1 L201.2,633.1 L201.5,633.1 L201.8,633.1 L202.0,633.2 L202.2,633.2 L202.5,633.2 L202.8,633.2 L203.0,633.2 L203.2,633.2 L203.5,633.2 L203.8,633.2 L204.0,633.2 L204.2,633.2 L204.5,633.2 L204.8,633.2 L205.0,633.2 L205.2,633.2 L205.5,633.2 L205.8,633.2 L206.0,633.2 L206.2,633.2 L206.5,633.2 L206.8,633.2 L207.0,633.2 L207.2,633.2 L207.5,633.2 L207.8,633.2 L208.0,633.2 L208.2,633.2 L208.5,633.2 L208.8,633.2 L209.0,633.2 L209.2,633.2 L209.5,633.2 L209.8,633.2 L210.0,633.2 L210.2,633.2 L210.5,633.2 L210.8,633.2 L211.0,633.2 L211.2,633.2 L211.5,633.2 L211.8,633.2 L212.0,633.2 L212.2,633.2 L212.5,633.2 L212.8,633.2 L213.0,633.2 L213.2,633.2 L213.5,633.2 L213.8,633.2 L214.0,633.2 L214.2,633.2 L214.5,633.2 L214.8,633.2 L215.0,633.2 L215.2,633.2 L215.5,633.2 L215.8,633.2 L216.0,633.2 L216.2,633.2 L216.5,633.2 L216.8,633.2 L217.0,633.2 L217.2,633.2 L217.5,633.2 L217.8,633.2 L218.0,633.2 L218.2,633.2 L218.5,633.2 L218.8,633.2 L219.0,633.2 L219.2,633.2 L219.5,633.2 L219.8,633.2 L220.0,633.2 L220.2,633.2 L220.5,633.2 L220.8,633.2 L221.0,633.2 L221.2,633.2 L221.5,633.2 L221.8,633.2 L222.0,633.2 L222.2,633.2 L222.5,633.2 L222.8,633.2 L223.0,633.2 L223.2,633.2 L223.5,633.2 L223.8,633.2 L224.0,633.2 L224.2,633.2 L224.5,633.2 L224.8,633.2 L225.0,633.2 L225.2,633.2 L225.5,633.2 L225.8,633.2 L226.0,633.2 L226.2,633.2 L226.5,633.2 L226.8,633.2 L227.0,633.2 L227.2,633.2 L227.5,633.2 L227.8,633.2 L228.0,633.2 L228.2,633.2 L228.5,633.2 L228.8,633.2 L229.0,633.2 L229.2,633.2 L229.5,633.2 L229.8,633.2 L230.0,633.2 L230.2,633.2 L230.5,633.2 L230.8,633.2 L231.0,633.2 L231.2,633.2 L231.5,633.2 L231.8,633.2 L232.0,633.2 L232.2,633.2 L232.5,633.2 L232.8,633.2 L233.0,633.2 L233.2,633.2 L233.5,633.2 L233.8,633.2 L234.0,633.2 L234.2,633.2 L234.5,633.2 L234.8,633.2 L235.0,633.2 L235.2,633.2 L235.5,633.2 L235.8,633.2 L236.0,633.2 L236.2,633.2 L236.5,633.2 L236.8,633.2 L237.0,633.2 L237.2,633.2 L237.5,633.2 L237.8,633.2 L238.0,633.2 L238.2,633.2 L238.5,633.2 L238.8,633.2 L239.0,633.2 L239.2,633.2 L239.5,633.2 L239.8,633.2 L240.0,633.2 L240.2,633.2 L240.5,633.2 L240.8,633.2 L241.0,633.2 L241.2,633.2 L241.5,633.2 L241.8,633.2 L242.0,633.2 L242.2,633.2 L242.5,633.2 L242.8,633.2 L243.0,633.2 L243.2,633.2 L243.5,633.2 L243.8,633.2 L244.0,633.2 L244.2,633.2 L244.5,633.2 L244.8,633.2 L245.0,633.2 L245.2,633.2 L245.5,633.2 L245.8,633.2 L246.0,633.2 L246.2,633.2 L246.5,633.2 L246.8,633.2 L247.0,633.2 L247.2,633.2 L247.5,633.2 L247.8,633.2 L248.0,633.2 L248.2,633.2 L248.5,633.2 L248.8,633.2 L249.0,633.2 L249.2,633.2 L249.5,633.2 L249.8,633.2 L250.0,633.2 L250.2,633.2 L250.5,633.2 L250.8,633.2 L251.0,633.2 L251.2,633.2 L251.5,633.2 L251.8,633.2 L252.0,633.2 L252.2,633.2 L252.5,633.2 L252.8,633.2 L253.0,633.2 L253.2,633.2 L253.5,633.2 L253.8,633.2 L254.0,633.2 L254.2,633.2 L254.5,633.2 L254.8,633.2" fill="none" stroke="#000" stroke-width="1.80" stroke-linejoin="round" stroke-linecap="butt" stroke-dasharray="1.7 1.7"/>
<path d="M92.2,615.5 L92.5,615.6 L92.8,615.7 L93.0,615.8 L93.2,615.9 L93.5,616.0 L93.8,616.1 L94.0,616.1 L94.2,616.2 L94.5,616.3 L94.8,616.3 L95.0,616.3 L95.2,616.4 L95.5,616.4 L95.8,616.4 L96.0,616.4 L96.2,616.4 L96.5,616.3 L96.8,616.3 L97.0,616.2 L97.2,616.1 L97.5,616.1 L97.8,616.0 L98.0,615.9 L98.2,615.7 L98.5,615.6 L98.8,615.5 L99.0,615.4 L99.2,615.3 L99.5,615.1 L99.8,615.0 L100.0,614.9 L100.2,614.8 L100.5,614.8 L100.8,614.7 L101.0,614.7 L101.2,614.7 L101.5,614.7 L101.8,614.7 L102.0,614.8 L102.2,614.9 L102.5,615.0 L102.8,615.2 L103.0,615.3 L103.2,615.5 L103.5,615.8 L103.8,616.0 L104.0,616.2 L104.2,616.5 L104.5,616.8 L104.8,617.1 L105.0,617.4 L105.2,617.6 L105.5,617.9 L105.8,618.2 L106.0,618.5 L106.2,618.8 L106.5,619.0 L106.8,619.3 L107.0,619.5 L107.2,619.8 L107.5,620.0 L107.8,620.2 L108.0,620.4 L108.2,620.6 L108.5,620.7 L108.8,620.9 L109.0,621.0 L109.2,621.2 L109.5,621.3 L109.8,621.4 L110.0,621.5 L110.2,621.6 L110.5,621.7 L110.8,621.8 L111.0,621.9 L111.2,622.0 L111.5,622.1 L111.8,622.1 L112.0,622.2 L112.2,622.3 L112.5,622.4 L112.8,622.4" fill="none" stroke="#000" stroke-width="1.70" stroke-linejoin="round" stroke-linecap="butt" stroke-dasharray="1.7 1.7"/>
<path d="M110.2,621.7 L110.5,621.8 L110.8,621.8 L111.0,621.9 L111.2,621.9 L111.5,621.9 L111.8,622.0 L112.0,622.0 L112.2,622.0 L112.5,622.1 L112.8,622.1 L113.0,622.1 L113.2,622.1 L113.5,622.1 L113.8,622.1 L114.0,622.0 L114.2,622.0 L114.5,622.0 L114.8,621.9 L115.0,621.8 L115.2,621.8 L115.5,621.7 L115.8,621.6 L116.0,621.5 L116.2,621.3 L116.5,621.2 L116.8,621.0 L117.0,620.9 L117.2,620.7 L117.5,620.5 L117.8,620.3 L118.0,620.1 L118.2,619.9 L118.5,619.6 L118.8,619.4 L119.0,619.1 L119.2,618.9 L119.5,618.6 L119.8,618.3 L120.0,618.1 L120.2,617.8 L120.5,617.5 L120.8,617.3 L121.0,617.0 L121.2,616.8 L121.5,616.5 L121.8,616.3 L122.0,616.1 L122.2,615.9 L122.5,615.7 L122.8,615.6 L123.0,615.5 L123.2,615.4 L123.5,615.3 L123.8,615.3 L124.0,615.2 L124.2,615.3 L124.5,615.3 L124.8,615.4 L125.0,615.5 L125.2,615.6 L125.5,615.8 L125.8,615.9 L126.0,616.2 L126.2,616.4 L126.5,616.7 L126.8,616.9 L127.0,617.2 L127.2,617.6 L127.5,617.9 L127.8,618.2 L128.0,618.6 L128.2,619.0 L128.5,619.3 L128.8,619.7 L129.0,620.1 L129.2,620.5 L129.5,620.9 L129.8,621.2 L130.0,621.6 L130.2,622.0 L130.5,622.3 L130.8,622.7 L131.0,623.0 L131.2,623.3 L131.5,623.7 L131.8,624.0 L132.0,624.3 L132.2,624.5 L132.5,624.8 L132.8,625.0 L133.0,625.3 L133.2,625.5 L133.5,625.7 L133.8,625.9 L134.0,626.1 L134.2,626.3 L134.5,626.4 L134.8,626.6 L135.0,626.7 L135.2,626.8 L135.5,627.0 L135.8,627.1 L136.0,627.2 L136.2,627.3 L136.5,627.4 L136.8,627.5 L137.0,627.6 L137.2,627.6 L137.5,627.7 L137.8,627.8 L138.0,627.8 L138.2,627.9 L138.5,628.0 L138.8,628.0 L139.0,628.1 L139.2,628.1 L139.5,628.2 L139.8,628.2 L140.0,628.3 L140.2,628.3 L140.5,628.4 L140.8,628.4 L141.0,628.5 L141.2,628.5 L141.5,628.5 L141.8,628.6" fill="none" stroke="#000" stroke-width="1.70" stroke-linejoin="round" stroke-linecap="butt" stroke-dasharray="1.7 1.7"/>
<path d="M23.8,442.0 L24.0,443.8 L24.2,445.7 L24.5,447.5 L24.8,449.4 L25.0,451.2 L25.2,453.1 L25.5,455.0 L25.8,456.9 L26.0,458.8 L26.2,460.7 L26.5,462.6 L26.8,464.5 L27.0,466.5 L27.2,468.4 L27.5,470.4 L27.8,472.4 L28.0,474.4 L28.2,476.3 L28.5,478.2 L28.8,480.0 L29.0,481.7 L29.2,483.3 L29.5,484.8 L29.8,486.3 L30.0,487.8 L30.2,489.2 L30.5,490.6 L30.8,492.1 L31.0,493.5 L31.2,495.0 L31.5,496.5 L31.8,498.1 L32.0,499.7 L32.2,501.3 L32.5,502.9 L32.8,504.4 L33.0,505.9 L33.2,507.4 L33.5,508.7 L33.8,510.0 L34.0,511.2 L34.2,512.3 L34.5,513.4 L34.8,514.5 L35.0,515.5 L35.2,516.5 L35.5,517.4 L35.8,518.4 L36.0,519.3 L36.2,520.2 L36.5,521.2 L36.8,522.1 L37.0,523.0 L37.2,524.0 L37.5,525.0 L37.8,526.0 L38.0,527.0 L38.2,528.0 L38.5,529.1 L38.8,530.1 L39.0,531.1 L39.2,532.1 L39.5,533.1 L39.8,534.2 L40.0,535.2 L40.2,536.2 L40.5,537.1 L40.8,538.1 L41.0,539.1 L41.2,540.0 L41.5,540.9 L41.8,541.8 L42.0,542.8 L42.2,543.7 L42.5,544.6 L42.8,545.4 L43.0,546.3 L43.2,547.2 L43.5,548.0 L43.8,548.9 L44.0,549.7 L44.2,550.6 L44.5,551.4 L44.8,552.2 L45.0,553.0 L45.2,553.8 L45.5,554.6 L45.8,555.4 L46.0,556.2 L46.2,556.9 L46.5,557.7 L46.8,558.5 L47.0,559.3 L47.2,560.0 L47.5,560.8 L47.8,561.5 L48.0,562.2 L48.2,562.9 L48.5,563.6 L48.8,564.3 L49.0,565.0 L49.2,565.6 L49.5,566.3 L49.8,566.9 L50.0,567.5 L50.2,568.1 L50.5,568.7 L50.8,569.2 L51.0,569.8 L51.2,570.3 L51.5,570.8 L51.8,571.4 L52.0,571.9 L52.2,572.4 L52.5,572.9 L52.8,573.4 L53.0,573.8 L53.2,574.3 L53.5,574.8 L53.8,575.2 L54.0,575.7 L54.2,576.2 L54.5,576.6 L54.8,577.1 L55.0,577.5 L55.2,577.9 L55.5,578.4 L55.8,578.8 L56.0,579.2 L56.2,579.7 L56.5,580.1 L56.8,580.5 L57.0,580.9 L57.2,581.3 L57.5,581.7 L57.8,582.1 L58.0,582.5 L58.2,582.9 L58.5,583.3 L58.8,583.6 L59.0,584.0 L59.2,584.4 L59.5,584.8 L59.8,585.1 L60.0,585.5 L60.2,585.9 L60.5,586.2 L60.8,586.6 L61.0,586.9 L61.2,587.3 L61.5,587.6 L61.8,588.0 L62.0,588.3 L62.2,588.7 L62.5,589.0 L62.8,589.4 L63.0,589.7 L63.2,590.0 L63.5,590.4 L63.8,590.7 L64.0,591.0 L64.2,591.3 L64.5,591.7 L64.8,592.0 L65.0,592.3 L65.2,592.6 L65.5,592.9 L65.8,593.2 L66.0,593.5 L66.2,593.8 L66.5,594.0 L66.8,594.3 L67.0,594.6 L67.2,594.9 L67.5,595.1 L67.8,595.4 L68.0,595.7 L68.2,595.9 L68.5,596.2 L68.8,596.4 L69.0,596.7 L69.2,596.9 L69.5,597.2 L69.8,597.4 L70.0,597.7 L70.2,597.9 L70.5,598.1 L70.8,598.4 L71.0,598.6 L71.2,598.8 L71.5,599.1 L71.8,599.3 L72.0,599.5 L72.2,599.8 L72.5,600.0 L72.8,600.2 L73.0,600.5 L73.2,600.7 L73.5,600.9 L73.8,601.1 L74.0,601.3 L74.2,601.6 L74.5,601.8 L74.8,602.0 L75.0,602.2 L75.2,602.4 L75.5,602.7 L75.8,602.9 L76.0,603.1 L76.2,603.3 L76.5,603.5 L76.8,603.7 L77.0,603.9 L77.2,604.1 L77.5,604.3 L77.8,604.5 L78.0,604.7 L78.2,604.9 L78.5,605.1 L78.8,605.3 L79.0,605.5 L79.2,605.7 L79.5,605.9 L79.8,606.1 L80.0,606.2 L80.2,606.4 L80.5,606.6 L80.8,606.8 L81.0,607.0 L81.2,607.2 L81.5,607.4 L81.8,607.5 L82.0,607.7 L82.2,607.9 L82.5,608.1 L82.8,608.3 L83.0,608.4 L83.2,608.6 L83.5,608.8 L83.8,609.0 L84.0,609.1 L84.2,609.3 L84.5,609.5 L84.8,609.6 L85.0,609.8 L85.2,610.0 L85.5,610.1 L85.8,610.3 L86.0,610.4 L86.2,610.6 L86.5,610.7 L86.8,610.9 L87.0,611.0 L87.2,611.1 L87.5,611.2 L87.8,611.4 L88.0,611.5 L88.2,611.6 L88.5,611.8 L88.8,611.9 L89.0,612.0 L89.2,612.2 L89.5,612.3 L89.8,612.4 L90.0,612.6 L90.2,612.7 L90.5,612.8 L90.8,613.0 L91.0,613.1 L91.2,613.2 L91.5,613.3 L91.8,613.4 L92.0,613.6 L92.2,613.7 L92.5,613.8 L92.8,613.8 L93.0,613.9 L93.2,614.0 L93.5,614.1 L93.8,614.1 L94.0,614.2 L94.2,614.2 L94.5,614.2 L94.8,614.2 L95.0,614.2 L95.2,614.2 L95.5,614.2 L95.8,614.2 L96.0,614.2 L96.2,614.2 L96.5,614.1 L96.8,614.1 L97.0,614.1 L97.2,614.0 L97.5,614.0 L97.8,613.9 L98.0,613.9 L98.2,613.8 L98.5,613.8 L98.8,613.8 L99.0,613.7 L99.2,613.6 L99.5,613.6 L99.8,613.5 L100.0,613.4 L100.2,613.3 L100.5,613.3 L100.8,613.2 L101.0,613.1 L101.2,613.1 L101.5,613.0 L101.8,613.0 L102.0,613.0 L102.2,613.0 L102.5,613.0 L102.8,613.1 L103.0,613.2 L103.2,613.3 L103.5,613.4 L103.8,613.5 L104.0,613.6 L104.2,613.8 L104.5,613.9 L104.8,614.1 L105.0,614.2 L105.2,614.4 L105.5,614.6 L105.8,614.7 L106.0,614.9 L106.2,615.0 L106.5,615.1 L106.8,615.3 L107.0,615.5 L107.2,615.7 L107.5,615.9 L107.8,616.1 L108.0,616.3 L108.2,616.5 L108.5,616.7 L108.8,616.9 L109.0,617.1 L109.2,617.2 L109.5,617.3 L109.8,617.4 L110.0,617.5 L110.2,617.6 L110.5,617.6 L110.8,617.7 L111.0,617.7 L111.2,617.8 L111.5,617.8 L111.8,617.8 L112.0,617.9 L112.2,617.9 L112.5,617.9 L112.8,618.0 L113.0,618.0 L113.2,618.0 L113.5,618.0 L113.8,618.0 L114.0,618.0 L114.2,617.9 L114.5,617.9 L114.8,617.7 L115.0,617.6 L115.2,617.5 L115.5,617.3 L115.8,617.1 L116.0,616.9 L116.2,616.7 L116.5,616.5 L116.8,616.3 L117.0,616.1 L117.2,615.9 L117.5,615.8 L117.8,615.6 L118.0,615.4 L118.2,615.1 L118.5,614.9 L118.8,614.6 L119.0,614.4 L119.2,614.1 L119.5,613.9 L119.8,613.6 L120.0,613.4 L120.2,613.2 L120.5,613.0 L120.8,612.8 L121.0,612.6 L121.2,612.5 L121.5,612.4 L121.8,612.3 L122.0,612.2 L122.2,612.1 L122.5,612.0 L122.8,611.9 L123.0,611.8 L123.2,611.7 L123.5,611.6 L123.8,611.6 L124.0,611.5 L124.2,611.5 L124.5,611.5 L124.8,611.5 L125.0,611.5 L125.2,611.6 L125.5,611.7 L125.8,611.8 L126.0,611.9 L126.2,612.0 L126.5,612.1 L126.8,612.3 L127.0,612.4 L127.2,612.5 L127.5,612.7 L127.8,612.9 L128.0,613.0 L128.2,613.2 L128.5,613.3 L128.8,613.6 L129.0,613.8 L129.2,614.0 L129.5,614.3 L129.8,614.5 L130.0,614.8 L130.2,615.1 L130.5,615.4 L130.8,615.7 L131.0,616.0 L131.2,616.2 L131.5,616.5 L131.8,616.8 L132.0,617.0 L132.2,617.3 L132.5,617.5 L132.8,617.7 L133.0,617.9 L133.2,618.1 L133.5,618.3 L133.8,618.5 L134.0,618.7 L134.2,618.9 L134.5,619.1 L134.8,619.3 L135.0,619.5 L135.2,619.7 L135.5,619.9 L135.8,620.1 L136.0,620.3 L136.2,620.5 L136.5,620.6 L136.8,620.8 L137.0,621.0 L137.2,621.1 L137.5,621.3 L137.8,621.4 L138.0,621.6 L138.2,621.7 L138.5,621.9 L138.8,622.0 L139.0,622.1 L139.2,622.3 L139.5,622.4 L139.8,622.5 L140.0,622.6 L140.2,622.7 L140.5,622.8 L140.8,622.9 L141.0,623.0 L141.2,623.1 L141.5,623.3 L141.8,623.4 L142.0,623.4 L142.2,623.5 L142.5,623.6 L142.8,623.7 L143.0,623.8 L143.2,623.9 L143.5,624.0 L143.8,624.1 L144.0,624.2 L144.2,624.3 L144.5,624.3 L144.8,624.4 L145.0,624.5 L145.2,624.6 L145.5,624.7 L145.8,624.7 L146.0,624.8 L146.2,624.9 L146.5,625.0 L146.8,625.0 L147.0,625.1 L147.2,625.2 L147.5,625.3 L147.8,625.3 L148.0,625.4 L148.2,625.5 L148.5,625.6 L148.8,625.6 L149.0,625.7 L149.2,625.8 L149.5,625.8 L149.8,625.9 L150.0,625.9 L150.2,626.0 L150.5,626.1 L150.8,626.1 L151.0,626.2 L151.2,626.2 L151.5,626.3 L151.8,626.3 L152.0,626.4 L152.2,626.5 L152.5,626.5 L152.8,626.5 L153.0,626.6 L153.2,626.6 L153.5,626.7 L153.8,626.7 L154.0,626.8 L154.2,626.8 L154.5,626.9 L154.8,626.9 L155.0,627.0 L155.2,627.0 L155.5,627.1 L155.8,627.1 L156.0,627.1 L156.2,627.2 L156.5,627.2 L156.8,627.3 L157.0,627.3 L157.2,627.4 L157.5,627.4 L157.8,627.4 L158.0,627.5 L158.2,627.5 L158.5,627.6 L158.8,627.6 L159.0,627.6 L159.2,627.7 L159.5,627.7 L159.8,627.7 L160.0,627.8 L160.2,627.8 L160.5,627.8 L160.8,627.9 L161.0,627.9 L161.2,627.9 L161.5,628.0 L161.8,628.0 L162.0,628.0 L162.2,628.1 L162.5,628.1 L162.8,628.1 L163.0,628.1 L163.2,628.2 L163.5,628.2 L163.8,628.2 L164.0,628.2 L164.2,628.2 L164.5,628.3 L164.8,628.3 L165.0,628.3 L165.2,628.3 L165.5,628.3 L165.8,628.3 L166.0,628.4 L166.2,628.4 L166.5,628.4 L166.8,628.4 L167.0,628.4 L167.2,628.4 L167.5,628.5 L167.8,628.5 L168.0,628.5 L168.2,628.5 L168.5,628.5 L168.8,628.5 L169.0,628.5 L169.2,628.6 L169.5,628.6 L169.8,628.6 L170.0,628.6 L170.2,628.6 L170.5,628.6 L170.8,628.6 L171.0,628.7 L171.2,628.7 L171.5,628.7 L171.8,628.7 L172.0,628.7 L172.2,628.7 L172.5,628.7 L172.8,628.7 L173.0,628.8 L173.2,628.8 L173.5,628.8 L173.8,628.8 L174.0,628.8 L174.2,628.8 L174.5,628.8 L174.8,628.8 L175.0,628.9 L175.2,628.9 L175.5,628.9 L175.8,628.9 L176.0,628.9 L176.2,628.9 L176.5,628.9 L176.8,628.9 L177.0,628.9 L177.2,628.9 L177.5,629.0 L177.8,629.0 L178.0,629.0 L178.2,629.0 L178.5,629.0 L178.8,629.0 L179.0,629.0 L179.2,629.0 L179.5,629.0 L179.8,629.0 L180.0,629.0 L180.2,629.1 L180.5,629.1 L180.8,629.1 L181.0,629.1 L181.2,629.1 L181.5,629.1 L181.8,629.1 L182.0,629.1 L182.2,629.1 L182.5,629.1 L182.8,629.1 L183.0,629.1 L183.2,629.2 L183.5,629.2 L183.8,629.2 L184.0,629.2 L184.2,629.2 L184.5,629.2 L184.8,629.2 L185.0,629.2 L185.2,629.2 L185.5,629.2 L185.8,629.2 L186.0,629.2 L186.2,629.2 L186.5,629.2 L186.8,629.2 L187.0,629.2 L187.2,629.2 L187.5,629.3 L187.8,629.3 L188.0,629.3 L188.2,629.3 L188.5,629.3 L188.8,629.3 L189.0,629.3 L189.2,629.3 L189.5,629.3 L189.8,629.3 L190.0,629.3 L190.2,629.3 L190.5,629.3 L190.8,629.3 L191.0,629.3 L191.2,629.3 L191.5,629.3 L191.8,629.3 L192.0,629.3 L192.2,629.3 L192.5,629.3 L192.8,629.3 L193.0,629.3 L193.2,629.4 L193.5,629.4 L193.8,629.4 L194.0,629.4 L194.2,629.4 L194.5,629.4 L194.8,629.4 L195.0,629.4 L195.2,629.4 L195.5,629.4 L195.8,629.4 L196.0,629.4 L196.2,629.4 L196.5,629.4 L196.8,629.4 L197.0,629.4 L197.2,629.4 L197.5,629.4 L197.8,629.4 L198.0,629.4 L198.2,629.4 L198.5,629.4 L198.8,629.4 L199.0,629.4 L199.2,629.4 L199.5,629.4 L199.8,629.4 L200.0,629.5 L200.2,629.5 L200.5,629.5 L200.8,629.5 L201.0,629.5 L201.2,629.5 L201.5,629.5 L201.8,629.5 L202.0,629.5 L202.2,629.5 L202.5,629.5 L202.8,629.5 L203.0,629.5 L203.2,629.5 L203.5,629.5 L203.8,629.5 L204.0,629.5 L204.2,629.5 L204.5,629.5 L204.8,629.5 L205.0,629.5 L205.2,629.5 L205.5,629.5 L205.8,629.5 L206.0,629.5 L206.2,629.5 L206.5,629.5 L206.8,629.5 L207.0,629.5 L207.2,629.5 L207.5,629.5 L207.8,629.5 L208.0,629.5 L208.2,629.5 L208.5,629.5 L208.8,629.5 L209.0,629.6 L209.2,629.6 L209.5,629.6 L209.8,629.6 L210.0,629.6 L210.2,629.6 L210.5,629.6 L210.8,629.6 L211.0,629.6 L211.2,629.6 L211.5,629.6 L211.8,629.6 L212.0,629.6 L212.2,629.6 L212.5,629.6 L212.8,629.6 L213.0,629.6 L213.2,629.6 L213.5,629.6 L213.8,629.6 L214.0,629.6 L214.2,629.6 L214.5,629.6 L214.8,629.6 L215.0,629.6 L215.2,629.6 L215.5,629.6 L215.8,629.6 L216.0,629.6 L216.2,629.6 L216.5,629.6 L216.8,629.6 L217.0,629.6 L217.2,629.6 L217.5,629.6 L217.8,629.6 L218.0,629.6 L218.2,629.6 L218.5,629.6 L218.8,629.6 L219.0,629.6 L219.2,629.6 L219.5,629.6 L219.8,629.6 L220.0,629.6 L220.2,629.6 L220.5,629.6 L220.8,629.6 L221.0,629.6 L221.2,629.6 L221.5,629.6 L221.8,629.6 L222.0,629.6 L222.2,629.6 L222.5,629.6 L222.8,629.6 L223.0,629.6 L223.2,629.6 L223.5,629.6 L223.8,629.6 L224.0,629.6 L224.2,629.6 L224.5,629.6 L224.8,629.6 L225.0,629.6 L225.2,629.6 L225.5,629.6 L225.8,629.6 L226.0,629.6 L226.2,629.6 L226.5,629.6 L226.8,629.6 L227.0,629.6 L227.2,629.6 L227.5,629.6 L227.8,629.6 L228.0,629.6 L228.2,629.6 L228.5,629.6 L228.8,629.6 L229.0,629.6 L229.2,629.6 L229.5,629.6 L229.8,629.6 L230.0,629.6 L230.2,629.6 L230.5,629.6 L230.8,629.6 L231.0,629.6 L231.2,629.6 L231.5,629.6 L231.8,629.6 L232.0,629.6 L232.2,629.6 L232.5,629.6 L232.8,629.6 L233.0,629.6 L233.2,629.6 L233.5,629.6 L233.8,629.6 L234.0,629.6 L234.2,629.6 L234.5,629.6 L234.8,629.6 L235.0,629.5 L235.2,629.5 L235.5,629.5 L235.8,629.5 L236.0,629.5 L236.2,629.5 L236.5,629.5 L236.8,629.5 L237.0,629.5 L237.2,629.5 L237.5,629.5 L237.8,629.5 L238.0,629.5 L238.2,629.5 L238.5,629.5 L238.8,629.5 L239.0,629.5 L239.2,629.5 L239.5,629.5 L239.8,629.5 L240.0,629.5 L240.2,629.5 L240.5,629.5 L240.8,629.5 L241.0,629.5 L241.2,629.5 L241.5,629.5 L241.8,629.5 L242.0,629.5 L242.2,629.5 L242.5,629.5 L242.8,629.5 L243.0,629.5 L243.2,629.5 L243.5,629.5 L243.8,629.5 L244.0,629.5 L244.2,629.5 L244.5,629.5 L244.8,629.5 L245.0,629.5 L245.2,629.5 L245.5,629.4 L245.8,629.4 L246.0,629.4 L246.2,629.4 L246.5,629.4 L246.8,629.4 L247.0,629.4 L247.2,629.4 L247.5,629.4 L247.8,629.4 L248.0,629.4 L248.2,629.4 L248.5,629.4 L248.8,629.4 L249.0,629.4 L249.2,629.4 L249.5,629.4 L249.8,629.4 L250.0,629.4 L250.2,629.4 L250.5,629.4 L250.8,629.4 L251.0,629.4 L251.2,629.4 L251.5,629.4 L251.8,629.4 L252.0,629.4 L252.2,629.3 L252.5,629.3 L252.8,629.3 L253.0,629.3 L253.2,629.3 L253.5,629.3 L253.8,629.3 L254.0,629.3 L254.2,629.3 L254.5,629.3 L254.8,629.3" fill="none" stroke="#000" stroke-width="2.50" stroke-linejoin="round" stroke-linecap="butt" />
<path d="M23.8,597.0 L24.0,598.1 L24.2,599.2 L24.5,600.3 L24.8,601.4 L25.0,602.5 L25.2,603.6 L25.5,604.7 L25.8,605.8 L26.0,606.9 L26.2,608.0 L26.5,608.9 L26.8,609.8 L27.0,610.6 L27.2,611.4 L27.5,612.1 L27.8,612.8 L28.0,613.5 L28.2,614.1 L28.5,614.7 L28.8,615.3 L29.0,615.9 L29.2,616.5 L29.5,617.1 L29.8,617.6 L30.0,618.2 L30.2,618.8 L30.5,619.5 L30.8,620.1 L31.0,620.8 L31.2,621.5 L31.5,622.2 L31.8,622.9 L32.0,623.7 L32.2,624.4 L32.5,625.2 L32.8,625.9 L33.0,626.5 L33.2,627.2 L33.5,627.8 L33.8,628.3 L34.0,628.9 L34.2,629.4 L34.5,629.9 L34.8,630.4 L35.0,630.9 L35.2,631.4 L35.5,631.9 L35.8,632.4 L36.0,632.8 L36.2,633.3 L36.5,633.8 L36.8,634.3 L37.0,634.8 L37.2,635.3 L37.5,635.7 L37.8,636.2 L38.0,636.7 L38.2,637.2 L38.5,637.6 L38.8,638.1 L39.0,638.6 L39.2,639.0 L39.5,639.5 L39.8,639.9 L40.0,640.3 L40.2,640.8 L40.5,641.2 L40.8,641.6 L41.0,642.1 L41.2,642.5 L41.5,642.9 L41.8,643.4 L42.0,643.8 L42.2,644.2 L42.5,644.6 L42.8,645.0 L43.0,645.4 L43.2,645.8 L43.5,646.2 L43.8,646.6 L44.0,647.0 L44.2,647.4 L44.5,647.8 L44.8,648.2 L45.0,648.5 L45.2,648.9 L45.5,649.3 L45.8,649.6 L46.0,650.0 L46.2,650.3 L46.5,650.6 L46.8,651.0 L47.0,651.3 L47.2,651.6 L47.5,651.9 L47.8,652.2 L48.0,652.5 L48.2,652.9 L48.5,653.2 L48.8,653.5 L49.0,653.8 L49.2,654.1 L49.5,654.3 L49.8,654.6 L50.0,654.9 L50.2,655.2 L50.5,655.5 L50.8,655.8 L51.0,656.0 L51.2,656.3 L51.5,656.6 L51.8,656.8 L52.0,657.1 L52.2,657.3 L52.5,657.6 L52.8,657.8 L53.0,658.1 L53.2,658.3 L53.5,658.6 L53.8,658.8 L54.0,659.0 L54.2,659.3 L54.5,659.5 L54.8,659.7 L55.0,660.0 L55.2,660.2 L55.5,660.4 L55.8,660.6 L56.0,660.8 L56.2,661.1 L56.5,661.3 L56.8,661.5 L57.0,661.7 L57.2,661.9 L57.5,662.1 L57.8,662.3 L58.0,662.5 L58.2,662.7 L58.5,662.9 L58.8,663.1 L59.0,663.3 L59.2,663.5 L59.5,663.7 L59.8,663.9 L60.0,664.1 L60.2,664.2 L60.5,664.4 L60.8,664.6 L61.0,664.8 L61.2,664.9 L61.5,665.1 L61.8,665.3 L62.0,665.4 L62.2,665.6 L62.5,665.8 L62.8,665.9 L63.0,666.1 L63.2,666.2 L63.5,666.4 L63.8,666.5 L64.0,666.7 L64.2,666.8 L64.5,667.0 L64.8,667.1 L65.0,667.2 L65.2,667.4 L65.5,667.5 L65.8,667.7 L66.0,667.8 L66.2,667.9 L66.5,668.1 L66.8,668.2 L67.0,668.4 L67.2,668.5 L67.5,668.6 L67.8,668.8 L68.0,668.9 L68.2,669.0 L68.5,669.1 L68.8,669.3 L69.0,669.4 L69.2,669.5 L69.5,669.6 L69.8,669.8 L70.0,669.9 L70.2,670.0 L70.5,670.1 L70.8,670.2 L71.0,670.3 L71.2,670.5 L71.5,670.6 L71.8,670.7 L72.0,670.8 L72.2,670.9 L72.5,671.0 L72.8,671.1 L73.0,671.2 L73.2,671.3 L73.5,671.4 L73.8,671.5 L74.0,671.6 L74.2,671.7 L74.5,671.8 L74.8,671.9 L75.0,672.0 L75.2,672.1 L75.5,672.2 L75.8,672.3 L76.0,672.4 L76.2,672.5 L76.5,672.5 L76.8,672.6 L77.0,672.7 L77.2,672.8 L77.5,672.9 L77.8,673.0 L78.0,673.1 L78.2,673.1 L78.5,673.2 L78.8,673.3 L79.0,673.4 L79.2,673.5 L79.5,673.5 L79.8,673.6 L80.0,673.7 L80.2,673.8 L80.5,673.9 L80.8,673.9 L81.0,674.0 L81.2,674.1 L81.5,674.2 L81.8,674.2 L82.0,674.3 L82.2,674.4 L82.5,674.4 L82.8,674.5 L83.0,674.6 L83.2,674.7 L83.5,674.7 L83.8,674.8 L84.0,674.9 L84.2,674.9 L84.5,675.0 L84.8,675.1 L85.0,675.1 L85.2,675.2 L85.5,675.3 L85.8,675.3 L86.0,675.4 L86.2,675.4 L86.5,675.5 L86.8,675.6 L87.0,675.6 L87.2,675.7 L87.5,675.8 L87.8,675.8 L88.0,675.9 L88.2,675.9 L88.5,676.0 L88.8,676.1 L89.0,676.1 L89.2,676.2 L89.5,676.2 L89.8,676.3 L90.0,676.3 L90.2,676.4 L90.5,676.5 L90.8,676.5 L91.0,676.6 L91.2,676.6 L91.5,676.7 L91.8,676.7 L92.0,676.8 L92.2,676.9 L92.5,676.9 L92.8,677.0 L93.0,677.0 L93.2,677.1 L93.5,677.1 L93.8,677.2 L94.0,677.2 L94.2,677.3 L94.5,677.3 L94.8,677.4 L95.0,677.4 L95.2,677.5 L95.5,677.5 L95.8,677.6 L96.0,677.6 L96.2,677.7 L96.5,677.7 L96.8,677.8 L97.0,677.8 L97.2,677.8 L97.5,677.9 L97.8,677.9 L98.0,678.0 L98.2,678.0 L98.5,678.1 L98.8,678.1 L99.0,678.1 L99.2,678.2 L99.5,678.2 L99.8,678.3 L100.0,678.3 L100.2,678.3 L100.5,678.4 L100.8,678.4 L101.0,678.5 L101.2,678.5 L101.5,678.5 L101.8,678.6 L102.0,678.6 L102.2,678.7 L102.5,678.7 L102.8,678.7 L103.0,678.8 L103.2,678.8 L103.5,678.9 L103.8,678.9 L104.0,678.9 L104.2,679.0 L104.5,679.0 L104.8,679.1 L105.0,679.1 L105.2,679.1 L105.5,679.2 L105.8,679.2 L106.0,679.2 L106.2,679.3 L106.5,679.3 L106.8,679.3 L107.0,679.3 L107.2,679.4 L107.5,679.4 L107.8,679.4 L108.0,679.4 L108.2,679.4 L108.5,679.5 L108.8,679.5 L109.0,679.5 L109.2,679.5 L109.5,679.5 L109.8,679.5 L110.0,679.5 L110.2,679.5 L110.5,679.5 L110.8,679.5 L111.0,679.5 L111.2,679.5 L111.5,679.5 L111.8,679.5 L112.0,679.5 L112.2,679.5 L112.5,679.5 L112.8,679.5 L113.0,679.5 L113.2,679.5 L113.5,679.5 L113.8,679.5 L114.0,679.5 L114.2,679.5 L114.5,679.5 L114.8,679.5 L115.0,679.5 L115.2,679.5 L115.5,679.5 L115.8,679.4 L116.0,679.4 L116.2,679.3 L116.5,679.3 L116.8,679.2 L117.0,679.1 L117.2,679.0 L117.5,678.9 L117.8,678.8 L118.0,678.7 L118.2,678.6 L118.5,678.4 L118.8,678.3 L119.0,678.1 L119.2,678.0 L119.5,677.8 L119.8,677.7 L120.0,677.5 L120.2,677.3 L120.5,677.1 L120.8,676.8 L121.0,676.5 L121.2,676.2 L121.5,675.8 L121.8,675.4 L122.0,675.0 L122.2,674.6 L122.5,674.1 L122.8,673.6 L123.0,673.0 L123.2,672.5 L123.5,671.9 L123.8,671.2 L124.0,670.6 L124.2,669.7 L124.5,668.8 L124.8,667.7 L125.0,666.6 L125.2,665.4 L125.5,664.1 L125.8,662.8 L126.0,661.4 L126.2,660.0 L126.5,658.4 L126.8,656.6 L127.0,654.6 L127.2,652.6 L127.5,650.7 L127.8,648.9 L128.0,647.5 L128.2,646.2 L128.5,644.9 L128.8,643.7 L129.0,642.5 L129.2,641.5 L129.5,640.7 L129.8,640.2 L130.0,640.0 L130.2,640.1 L130.5,640.6 L130.8,641.2 L131.0,642.0 L131.2,642.9 L131.5,644.0 L131.8,645.1 L132.0,646.2 L132.2,647.6 L132.5,649.4 L132.8,651.5 L133.0,653.7 L133.2,656.0 L133.5,658.1 L133.8,660.0 L134.0,661.7 L134.2,663.5 L134.5,665.2 L134.8,666.9 L135.0,668.5 L135.2,670.1 L135.5,671.5 L135.8,672.9 L136.0,674.0 L136.2,675.0 L136.5,675.9 L136.8,676.7 L137.0,677.4 L137.2,678.2 L137.5,678.8 L137.8,679.4 L138.0,680.0 L138.2,680.5 L138.5,680.9 L138.8,681.2 L139.0,681.6 L139.2,681.9 L139.5,682.1 L139.8,682.4 L140.0,682.7 L140.2,682.9 L140.5,683.1 L140.8,683.3 L141.0,683.5 L141.2,683.7 L141.5,683.8 L141.8,684.0 L142.0,684.1 L142.2,684.2 L142.5,684.3 L142.8,684.4 L143.0,684.5 L143.2,684.5 L143.5,684.6 L143.8,684.7 L144.0,684.7 L144.2,684.8 L144.5,684.9 L144.8,684.9 L145.0,685.0 L145.2,685.0 L145.5,685.1 L145.8,685.1 L146.0,685.2 L146.2,685.2 L146.5,685.2 L146.8,685.2 L147.0,685.3 L147.2,685.3 L147.5,685.3 L147.8,685.3 L148.0,685.3 L148.2,685.3 L148.5,685.3 L148.8,685.4 L149.0,685.4 L149.2,685.4 L149.5,685.4 L149.8,685.4 L150.0,685.4 L150.2,685.4 L150.5,685.4 L150.8,685.4 L151.0,685.4 L151.2,685.5 L151.5,685.5 L151.8,685.5 L152.0,685.5 L152.2,685.5 L152.5,685.5 L152.8,685.5 L153.0,685.5 L153.2,685.5 L153.5,685.5 L153.8,685.5 L154.0,685.5 L154.2,685.5 L154.5,685.5 L154.8,685.5 L155.0,685.6 L155.2,685.6 L155.5,685.6 L155.8,685.6 L156.0,685.6 L156.2,685.6 L156.5,685.6 L156.8,685.6 L157.0,685.6 L157.2,685.6 L157.5,685.6 L157.8,685.6 L158.0,685.6 L158.2,685.6 L158.5,685.6 L158.8,685.6 L159.0,685.6 L159.2,685.6 L159.5,685.6 L159.8,685.6 L160.0,685.6 L160.2,685.6 L160.5,685.6 L160.8,685.6 L161.0,685.6 L161.2,685.6 L161.5,685.6 L161.8,685.6 L162.0,685.6 L162.2,685.6 L162.5,685.6 L162.8,685.6 L163.0,685.6 L163.2,685.6 L163.5,685.6 L163.8,685.6 L164.0,685.6 L164.2,685.6 L164.5,685.6 L164.8,685.6 L165.0,685.6 L165.2,685.6 L165.5,685.6 L165.8,685.6 L166.0,685.6 L166.2,685.6 L166.5,685.6 L166.8,685.6 L167.0,685.6 L167.2,685.6 L167.5,685.6 L167.8,685.6 L168.0,685.6 L168.2,685.6 L168.5,685.6 L168.8,685.6 L169.0,685.6 L169.2,685.6 L169.5,685.6 L169.8,685.6 L170.0,685.6 L170.2,685.6 L170.5,685.6 L170.8,685.6 L171.0,685.6 L171.2,685.6 L171.5,685.6 L171.8,685.6 L172.0,685.6 L172.2,685.6 L172.5,685.6 L172.8,685.6 L173.0,685.6 L173.2,685.6 L173.5,685.6 L173.8,685.6 L174.0,685.6 L174.2,685.6 L174.5,685.6 L174.8,685.6 L175.0,685.6 L175.2,685.6 L175.5,685.6 L175.8,685.6 L176.0,685.6 L176.2,685.6 L176.5,685.6 L176.8,685.6 L177.0,685.6 L177.2,685.6 L177.5,685.6 L177.8,685.6 L178.0,685.6 L178.2,685.6 L178.5,685.6 L178.8,685.6 L179.0,685.6 L179.2,685.6 L179.5,685.6 L179.8,685.6 L180.0,685.6 L180.2,685.6 L180.5,685.6 L180.8,685.6 L181.0,685.6 L181.2,685.6 L181.5,685.6 L181.8,685.6 L182.0,685.6 L182.2,685.6 L182.5,685.6 L182.8,685.6 L183.0,685.6 L183.2,685.6 L183.5,685.6 L183.8,685.6 L184.0,685.6 L184.2,685.6 L184.5,685.6 L184.8,685.6 L185.0,685.6 L185.2,685.6 L185.5,685.6 L185.8,685.6 L186.0,685.6 L186.2,685.6 L186.5,685.6 L186.8,685.6 L187.0,685.6 L187.2,685.6 L187.5,685.6 L187.8,685.6 L188.0,685.6 L188.2,685.6 L188.5,685.6 L188.8,685.6 L189.0,685.6 L189.2,685.6 L189.5,685.6 L189.8,685.6 L190.0,685.6 L190.2,685.6 L190.5,685.6 L190.8,685.6 L191.0,685.6 L191.2,685.6 L191.5,685.6 L191.8,685.6 L192.0,685.6 L192.2,685.6 L192.5,685.6 L192.8,685.6 L193.0,685.6 L193.2,685.6 L193.5,685.6 L193.8,685.6 L194.0,685.6 L194.2,685.6 L194.5,685.6 L194.8,685.6 L195.0,685.6 L195.2,685.6 L195.5,685.6 L195.8,685.6 L196.0,685.6 L196.2,685.6 L196.5,685.6 L196.8,685.6 L197.0,685.6 L197.2,685.6 L197.5,685.6 L197.8,685.6 L198.0,685.6 L198.2,685.6 L198.5,685.6 L198.8,685.6 L199.0,685.6 L199.2,685.6 L199.5,685.6 L199.8,685.6 L200.0,685.6 L200.2,685.6 L200.5,685.6 L200.8,685.6 L201.0,685.6 L201.2,685.6 L201.5,685.6 L201.8,685.6 L202.0,685.6 L202.2,685.6 L202.5,685.6 L202.8,685.6 L203.0,685.6 L203.2,685.6 L203.5,685.6 L203.8,685.6 L204.0,685.6 L204.2,685.6 L204.5,685.6 L204.8,685.6 L205.0,685.6 L205.2,685.6 L205.5,685.6 L205.8,685.6 L206.0,685.6 L206.2,685.6 L206.5,685.6 L206.8,685.6 L207.0,685.6 L207.2,685.6 L207.5,685.6 L207.8,685.6 L208.0,685.6 L208.2,685.6 L208.5,685.6 L208.8,685.6 L209.0,685.6 L209.2,685.6 L209.5,685.6 L209.8,685.6 L210.0,685.6 L210.2,685.6 L210.5,685.6 L210.8,685.6 L211.0,685.6 L211.2,685.6 L211.5,685.6 L211.8,685.6 L212.0,685.6 L212.2,685.6 L212.5,685.6 L212.8,685.6 L213.0,685.6 L213.2,685.6 L213.5,685.6 L213.8,685.6 L214.0,685.6 L214.2,685.6 L214.5,685.6 L214.8,685.6 L215.0,685.6 L215.2,685.6 L215.5,685.6 L215.8,685.6 L216.0,685.6 L216.2,685.6 L216.5,685.6 L216.8,685.6 L217.0,685.6 L217.2,685.6 L217.5,685.6 L217.8,685.6 L218.0,685.6 L218.2,685.6 L218.5,685.6 L218.8,685.6 L219.0,685.6 L219.2,685.6 L219.5,685.6 L219.8,685.6 L220.0,685.6 L220.2,685.6 L220.5,685.6 L220.8,685.6 L221.0,685.6 L221.2,685.6 L221.5,685.6 L221.8,685.6 L222.0,685.6 L222.2,685.6 L222.5,685.6 L222.8,685.6 L223.0,685.6 L223.2,685.6 L223.5,685.6 L223.8,685.6 L224.0,685.6 L224.2,685.6 L224.5,685.6 L224.8,685.6 L225.0,685.6 L225.2,685.6 L225.5,685.6 L225.8,685.6 L226.0,685.6 L226.2,685.6 L226.5,685.6 L226.8,685.6 L227.0,685.6 L227.2,685.6 L227.5,685.6 L227.8,685.6 L228.0,685.6 L228.2,685.6 L228.5,685.6 L228.8,685.6 L229.0,685.6 L229.2,685.6 L229.5,685.6 L229.8,685.6 L230.0,685.6 L230.2,685.6 L230.5,685.6 L230.8,685.6 L231.0,685.6 L231.2,685.6 L231.5,685.6 L231.8,685.6 L232.0,685.6 L232.2,685.6 L232.5,685.6 L232.8,685.6 L233.0,685.6 L233.2,685.6 L233.5,685.6 L233.8,685.6 L234.0,685.6 L234.2,685.6 L234.5,685.6 L234.8,685.6 L235.0,685.6 L235.2,685.6 L235.5,685.6 L235.8,685.6 L236.0,685.6 L236.2,685.6 L236.5,685.6 L236.8,685.6 L237.0,685.6 L237.2,685.6 L237.5,685.6 L237.8,685.6 L238.0,685.6 L238.2,685.6 L238.5,685.6 L238.8,685.6 L239.0,685.6 L239.2,685.6 L239.5,685.6 L239.8,685.6 L240.0,685.6 L240.2,685.6 L240.5,685.6 L240.8,685.6 L241.0,685.6 L241.2,685.6 L241.5,685.6 L241.8,685.6 L242.0,685.6 L242.2,685.6 L242.5,685.6 L242.8,685.6 L243.0,685.6 L243.2,685.6 L243.5,685.6 L243.8,685.6 L244.0,685.6 L244.2,685.6 L244.5,685.6 L244.8,685.6 L245.0,685.6 L245.2,685.6 L245.5,685.6 L245.8,685.6 L246.0,685.6 L246.2,685.6 L246.5,685.6 L246.8,685.6 L247.0,685.6 L247.2,685.6 L247.5,685.6 L247.8,685.6 L248.0,685.6 L248.2,685.6 L248.5,685.6 L248.8,685.6 L249.0,685.6 L249.2,685.6 L249.5,685.6 L249.8,685.6 L250.0,685.6 L250.2,685.6 L250.5,685.6 L250.8,685.6 L251.0,685.6 L251.2,685.6 L251.5,685.6 L251.8,685.6 L252.0,685.6 L252.2,685.6 L252.5,685.6 L252.8,685.6 L253.0,685.6 L253.2,685.6 L253.5,685.6 L253.8,685.6 L254.0,685.6 L254.2,685.6 L254.5,685.6 L254.8,685.6" fill="none" stroke="#000" stroke-width="2.00" stroke-linejoin="round" stroke-linecap="butt" />
<rect x="23.75" y="408.10" width="231.15" height="277.65" fill="none" stroke="#000" stroke-width="2.3"/>
<text x="23.75" y="707.00" font-size="12.00" font-weight="700" text-anchor="middle" >4</text>
<line x1="46.9" y1="685.8" x2="46.9" y2="681.8" stroke="#000" stroke-width="1"/>
<text x="46.87" y="707.00" font-size="12.00" font-weight="700" text-anchor="middle" >5</text>
<line x1="70.0" y1="685.8" x2="70.0" y2="681.8" stroke="#000" stroke-width="1"/>
<text x="69.98" y="707.00" font-size="12.00" font-weight="700" text-anchor="middle" >6</text>
<line x1="93.1" y1="685.8" x2="93.1" y2="681.8" stroke="#000" stroke-width="1"/>
<text x="93.09" y="707.00" font-size="12.00" font-weight="700" text-anchor="middle" >7</text>
<line x1="116.2" y1="685.8" x2="116.2" y2="681.8" stroke="#000" stroke-width="1"/>
<text x="116.21" y="707.00" font-size="12.00" font-weight="700" text-anchor="middle" >8</text>
<line x1="139.3" y1="685.8" x2="139.3" y2="681.8" stroke="#000" stroke-width="1"/>
<text x="139.33" y="707.00" font-size="12.00" font-weight="700" text-anchor="middle" >9</text>
<line x1="162.4" y1="685.8" x2="162.4" y2="681.8" stroke="#000" stroke-width="1"/>
<text x="162.44" y="707.00" font-size="12.00" font-weight="700" text-anchor="middle" >10</text>
<line x1="185.6" y1="685.8" x2="185.6" y2="681.8" stroke="#000" stroke-width="1"/>
<text x="185.56" y="707.00" font-size="12.00" font-weight="700" text-anchor="middle" >11</text>
<line x1="208.7" y1="685.8" x2="208.7" y2="681.8" stroke="#000" stroke-width="1"/>
<text x="208.67" y="707.00" font-size="12.00" font-weight="700" text-anchor="middle" >12</text>
<line x1="231.8" y1="685.8" x2="231.8" y2="681.8" stroke="#000" stroke-width="1"/>
<text x="231.79" y="707.00" font-size="12.00" font-weight="700" text-anchor="middle" >13</text>
<text x="254.90" y="707.00" font-size="12.00" font-weight="700" text-anchor="middle" >14</text>
<text x="110.00" y="732.50" font-size="16.00" font-weight="700" textLength="94.25" lengthAdjust="spacingAndGlyphs" >2 theta [deg]</text>
<text x="0.70" y="397.30" font-size="23.00" textLength="27.00" lengthAdjust="spacingAndGlyphs" stroke="#000" stroke-width="0.3"><tspan font-size="26.0">(</tspan><tspan font-size="23.0">b</tspan><tspan font-size="26.0">)</tspan></text>
<text x="15.00" y="662.50" font-size="15.80" font-weight="700" textLength="65.10" lengthAdjust="spacingAndGlyphs" transform="rotate(-90 15.00 662.50)" >Intensity</text>
<text x="15.00" y="594.90" font-size="15.80" font-weight="700" textLength="36.50" lengthAdjust="spacingAndGlyphs" transform="rotate(-90 15.00 594.90)" >(I/I<tspan font-size="11.22" dy="3.79">0</tspan><tspan dy="-3.79">&#8203;</tspan>)</text>
<text x="15.00" y="554.70" font-size="15.80" font-weight="700" textLength="81.10" lengthAdjust="spacingAndGlyphs" transform="rotate(-90 15.00 554.70)" >[arb. units]</text>
<text x="32.50" y="429.25" font-size="12.50" font-weight="700" textLength="21.00" lengthAdjust="spacingAndGlyphs" >5.18</text>
<text x="55.10" y="426.85" font-size="11.00" font-weight="700" >&#176;</text>
<text x="74.50" y="439.50" font-size="12.50" font-weight="700" textLength="20.80" lengthAdjust="spacingAndGlyphs" >6.78</text>
<text x="96.90" y="437.10" font-size="11.00" font-weight="700" >&#176;</text>
<text x="101.20" y="428.75" font-size="12.50" font-weight="700" textLength="22.40" lengthAdjust="spacingAndGlyphs" >8.05</text>
<text x="125.20" y="426.35" font-size="11.00" font-weight="700" >&#176;</text>
<text x="121.25" y="440.00" font-size="12.50" font-weight="700" textLength="21.40" lengthAdjust="spacingAndGlyphs" >8.37</text>
<text x="144.25" y="437.60" font-size="11.00" font-weight="700" >&#176;</text>
<text x="157.00" y="439.50" font-size="12.50" font-weight="700" textLength="27.80" lengthAdjust="spacingAndGlyphs" >10.38</text>
<text x="186.40" y="437.10" font-size="11.00" font-weight="700" >&#176;</text>
<text x="212.00" y="471.60" font-size="13.80" font-weight="700" textLength="20.40" lengthAdjust="spacingAndGlyphs" >240</text>
<text x="232.60" y="471.30" font-size="16.50" stroke="#000" stroke-width="0.35">&#176;</text>
<text x="237.70" y="471.60" font-size="13.80" font-weight="700" textLength="12.00" lengthAdjust="spacingAndGlyphs" >C</text>
<text x="90.00" y="586.25" font-size="12.50" font-weight="700" textLength="21.40" lengthAdjust="spacingAndGlyphs" >7.40</text>
<text x="113.00" y="583.85" font-size="11.00" font-weight="700" >&#176;</text>
<text x="114.50" y="572.50" font-size="12.50" font-weight="700" textLength="22.20" lengthAdjust="spacingAndGlyphs" >8.30</text>
<text x="138.30" y="570.10" font-size="11.00" font-weight="700" >&#176;</text>
<text x="213.50" y="622.00" font-size="13.80" font-weight="700" textLength="20.40" lengthAdjust="spacingAndGlyphs" >200</text>
<text x="234.10" y="621.70" font-size="16.50" stroke="#000" stroke-width="0.35">&#176;</text>
<text x="239.20" y="622.00" font-size="13.80" font-weight="700" textLength="12.00" lengthAdjust="spacingAndGlyphs" >C</text>
<text x="210.50" y="662.50" font-size="14.00" font-weight="700" textLength="40.75" lengthAdjust="spacingAndGlyphs" >Sb<tspan font-size="9.94" dy="3.36">2</tspan><tspan dy="-3.36">&#8203;</tspan>Te<tspan font-size="9.94" dy="3.36">3</tspan><tspan dy="-3.36">&#8203;</tspan></text>
<text x="210.50" y="682.00" font-size="14.00" font-weight="700" textLength="35.00" lengthAdjust="spacingAndGlyphs" >(x0.5)</text>
</g>
<g id="panel-c">
<path d="M282.6,547.4 L282.9,547.4 L283.1,547.4 L283.4,547.3 L283.6,547.3 L283.9,547.3 L284.1,547.3 L284.4,547.3 L284.6,547.2 L284.9,547.2 L285.1,547.2 L285.4,547.2 L285.6,547.1 L285.9,547.1 L286.1,547.1 L286.4,547.0 L286.6,547.0 L286.9,547.0 L287.1,546.9 L287.4,546.9 L287.6,546.9 L287.9,546.8 L288.1,546.8 L288.4,546.7 L288.6,546.7 L288.9,546.7 L289.1,546.6 L289.4,546.5 L289.6,546.5 L289.9,546.4 L290.1,546.4 L290.4,546.3 L290.6,546.2 L290.9,546.2 L291.1,546.1 L291.4,546.0 L291.6,545.9 L291.9,545.8 L292.1,545.7 L292.4,545.6 L292.6,545.4 L292.9,545.3 L293.1,545.1 L293.4,544.9 L293.6,544.8 L293.9,544.5 L294.1,544.3 L294.4,544.0 L294.6,543.7 L294.9,543.3 L295.1,542.9 L295.4,542.5 L295.6,541.9 L295.9,541.3 L296.1,540.6 L296.4,539.8 L296.6,538.9 L296.9,537.8 L297.1,536.6 L297.4,535.3 L297.6,533.8 L297.9,532.1 L298.1,530.3 L298.4,528.3 L298.6,526.0 L298.9,523.6 L299.1,521.0 L299.4,518.2 L299.6,515.1 L299.9,512.0 L300.1,508.7 L300.4,505.3 L300.6,501.9 L300.9,498.7 L301.1,495.8 L301.4,493.3 L301.6,491.5 L301.9,490.5 L302.1,490.4 L302.4,491.2 L302.6,492.8 L302.9,495.2 L303.1,498.0 L303.4,501.2 L303.6,504.5 L303.9,507.9 L304.1,511.2 L304.4,514.4 L304.6,517.5 L304.9,520.3 L305.1,523.0 L305.4,525.5 L305.6,527.7 L305.9,529.8 L306.1,531.6 L306.4,533.3 L306.6,534.8 L306.9,536.2 L307.1,537.4 L307.4,538.5 L307.6,539.4 L307.9,540.2 L308.1,540.9 L308.4,541.6 L308.6,542.1 L308.9,542.6 L309.1,543.0 L309.4,543.4 L309.6,543.7 L309.9,543.9 L310.1,544.2 L310.4,544.4 L310.6,544.6 L310.9,544.7 L311.1,544.9 L311.4,545.0 L311.6,545.1 L311.9,545.3 L312.1,545.4 L312.4,545.4 L312.6,545.5 L312.9,545.6 L313.1,545.7 L313.4,545.7 L313.6,545.8 L313.9,545.8 L314.1,545.9 L314.4,545.9 L314.6,546.0 L314.9,546.0 L315.1,546.1 L315.4,546.1 L315.6,546.1 L315.9,546.1 L316.1,546.2 L316.4,546.2 L316.6,546.2 L316.9,546.2 L317.1,546.2 L317.4,546.3 L317.6,546.3 L317.9,546.3 L318.1,546.3 L318.4,546.3 L318.6,546.3 L318.9,546.3 L319.1,546.3 L319.4,546.3 L319.6,546.3 L319.9,546.3 L320.1,546.3 L320.4,546.3 L320.6,546.2 L320.9,546.2 L321.1,546.2 L321.4,546.2 L321.6,546.2 L321.9,546.1 L322.1,546.1 L322.4,546.1 L322.6,546.1 L322.9,546.0 L323.1,546.0 L323.4,546.0 L323.6,545.9 L323.9,545.9 L324.1,545.9 L324.4,545.8 L324.6,545.8 L324.9,545.7 L325.1,545.6 L325.4,545.6 L325.6,545.5 L325.9,545.5 L326.1,545.4 L326.4,545.3 L326.6,545.2 L326.9,545.1 L327.1,545.0 L327.4,544.9 L327.6,544.8 L327.9,544.7 L328.1,544.6 L328.4,544.5 L328.6,544.3 L328.9,544.2 L329.1,544.0 L329.4,543.8 L329.6,543.7 L329.9,543.4 L330.1,543.2 L330.4,543.0 L330.6,542.7 L330.9,542.3 L331.1,542.0 L331.4,541.6 L331.6,541.1 L331.9,540.6 L332.1,540.0 L332.4,539.3 L332.6,538.5 L332.9,537.6 L333.1,536.6 L333.4,535.4 L333.6,534.1 L333.9,532.5 L334.1,530.8 L334.4,528.8 L334.6,526.6 L334.9,524.1 L335.1,521.3 L335.4,518.2 L335.6,514.8 L335.9,511.1 L336.1,507.0 L336.4,502.6 L336.6,497.8 L336.9,492.8 L337.1,487.5 L337.4,481.9 L337.6,476.2 L337.9,470.6 L338.1,465.2 L338.4,460.3 L338.6,456.1 L338.9,453.1 L339.1,451.4 L339.4,451.3 L339.6,452.7 L339.9,455.4 L340.1,459.4 L340.4,464.2 L340.6,469.5 L340.9,475.1 L341.1,480.8 L341.4,486.3 L341.6,491.7 L341.9,496.8 L342.1,501.6 L342.4,506.1 L342.6,510.2 L342.9,514.0 L343.1,517.5 L343.4,520.6 L343.6,523.5 L343.9,526.0 L344.1,528.3 L344.4,530.3 L344.6,532.1 L344.9,533.7 L345.1,535.1 L345.4,536.3 L345.6,537.3 L345.9,538.2 L346.1,539.0 L346.4,539.7 L346.6,540.3 L346.9,540.9 L347.1,541.3 L347.4,541.8 L347.6,542.1 L347.9,542.4 L348.1,542.7 L348.4,543.0 L348.6,543.2 L348.9,543.4 L349.1,543.6 L349.4,543.8 L349.6,544.0 L349.9,544.1 L350.1,544.2 L350.4,544.4 L350.6,544.5 L350.9,544.6 L351.1,544.7 L351.4,544.8 L351.6,544.9 L351.9,544.9 L352.1,545.0 L352.4,545.1 L352.6,545.2 L352.9,545.2 L353.1,545.3 L353.4,545.3 L353.6,545.4 L353.9,545.4 L354.1,545.5 L354.4,545.5 L354.6,545.5 L354.9,545.6 L355.1,545.6 L355.4,545.6 L355.6,545.6 L355.9,545.7 L356.1,545.7 L356.4,545.7 L356.6,545.7 L356.9,545.7 L357.1,545.7 L357.4,545.7 L357.6,545.7 L357.9,545.7 L358.1,545.7 L358.4,545.7 L358.6,545.7 L358.9,545.7 L359.1,545.7 L359.4,545.7 L359.6,545.7 L359.9,545.6 L360.1,545.6 L360.4,545.6 L360.6,545.6 L360.9,545.5 L361.1,545.5 L361.4,545.5 L361.6,545.4 L361.9,545.4 L362.1,545.4 L362.4,545.3 L362.6,545.3 L362.9,545.2 L363.1,545.1 L363.4,545.1 L363.6,545.0 L363.9,544.9 L364.1,544.9 L364.4,544.8 L364.6,544.7 L364.9,544.6 L365.1,544.5 L365.4,544.4 L365.6,544.2 L365.9,544.1 L366.1,544.0 L366.4,543.8 L366.6,543.6 L366.9,543.5 L367.1,543.3 L367.4,543.0 L367.6,542.8 L367.9,542.5 L368.1,542.3 L368.4,541.9 L368.6,541.5 L368.9,541.1 L369.1,540.7 L369.4,540.1 L369.6,539.5 L369.9,538.8 L370.1,538.0 L370.4,537.0 L370.6,536.0 L370.9,534.7 L371.1,533.3 L371.4,531.7 L371.6,529.9 L371.9,527.9 L372.1,525.5 L372.4,522.9 L372.6,520.0 L372.9,516.8 L373.1,513.3 L373.4,509.4 L373.6,505.2 L373.9,500.6 L374.1,495.6 L374.4,490.4 L374.6,484.8 L374.9,479.0 L375.1,473.2 L375.4,467.3 L375.6,461.7 L375.9,456.5 L376.1,452.2 L376.4,449.1 L376.6,447.3 L376.9,447.2 L377.1,448.6 L377.4,451.5 L377.6,455.6 L377.9,460.6 L378.1,466.1 L378.4,472.0 L378.6,477.9 L378.9,483.7 L379.1,489.3 L379.4,494.6 L379.6,499.6 L379.9,504.2 L380.1,508.6 L380.4,512.5 L380.6,516.1 L380.9,519.4 L381.1,522.4 L381.4,525.0 L381.6,527.4 L381.9,529.5 L382.1,531.4 L382.4,533.0 L382.6,534.4 L382.9,535.7 L383.1,536.8 L383.4,537.8 L383.6,538.6 L383.9,539.3 L384.1,540.0 L384.4,540.5 L384.6,541.0 L384.9,541.4 L385.1,541.8 L385.4,542.1 L385.6,542.4 L385.9,542.7 L386.1,542.9 L386.4,543.2 L386.6,543.4 L386.9,543.5 L387.1,543.7 L387.4,543.9 L387.6,544.0 L387.9,544.1 L388.1,544.3 L388.4,544.4 L388.6,544.5 L388.9,544.6 L389.1,544.7 L389.4,544.7 L389.6,544.8 L389.9,544.9 L390.1,545.0 L390.4,545.0 L390.6,545.1 L390.9,545.1 L391.1,545.2 L391.4,545.2 L391.6,545.3 L391.9,545.3 L392.1,545.3 L392.4,545.4 L392.6,545.4 L392.9,545.4 L393.1,545.5 L393.4,545.5 L393.6,545.5 L393.9,545.5 L394.1,545.5 L394.4,545.5 L394.6,545.5 L394.9,545.5 L395.1,545.5 L395.4,545.5 L395.6,545.5 L395.9,545.5 L396.1,545.5 L396.4,545.5 L396.6,545.5 L396.9,545.5 L397.1,545.4 L397.4,545.4 L397.6,545.4 L397.9,545.4 L398.1,545.3 L398.4,545.3 L398.6,545.2 L398.9,545.2 L399.1,545.1 L399.4,545.1 L399.6,545.0 L399.9,545.0 L400.1,544.9 L400.4,544.8 L400.6,544.8 L400.9,544.7 L401.1,544.6 L401.4,544.5 L401.6,544.4 L401.9,544.3 L402.1,544.2 L402.4,544.1 L402.6,543.9 L402.9,543.8 L403.1,543.6 L403.4,543.5 L403.6,543.3 L403.9,543.1 L404.1,542.9 L404.4,542.6 L404.6,542.4 L404.9,542.1 L405.1,541.7 L405.4,541.4 L405.6,541.0 L405.9,540.5 L406.1,540.0 L406.4,539.4 L406.6,538.7 L406.9,537.9 L407.1,537.0 L407.4,535.9 L407.6,534.8 L407.9,533.4 L408.1,531.8 L408.4,530.0 L408.6,528.0 L408.9,525.7 L409.1,523.1 L409.4,520.3 L409.6,517.0 L409.9,513.4 L410.1,509.5 L410.4,505.2 L410.6,500.5 L410.9,495.3 L411.1,489.8 L411.4,484.0 L411.6,477.8 L411.9,471.4 L412.1,464.8 L412.4,458.3 L412.6,452.0 L412.9,446.3 L413.1,441.5 L413.4,438.0 L413.6,436.0 L413.9,435.9 L414.1,437.5 L414.4,440.7 L414.6,445.3 L414.9,450.8 L415.1,457.0 L415.4,463.5 L415.6,470.1 L415.9,476.6 L416.1,482.8 L416.4,488.8 L416.6,494.3 L416.9,499.5 L417.1,504.3 L417.4,508.8 L417.6,512.8 L417.9,516.4 L418.1,519.8 L418.4,522.7 L418.6,525.4 L418.9,527.7 L419.1,529.8 L419.4,531.6 L419.6,533.3 L419.9,534.7 L420.1,535.9 L420.4,537.0 L420.6,537.9 L420.9,538.7 L421.1,539.4 L421.4,540.1 L421.6,540.6 L421.9,541.1 L422.1,541.5 L422.4,541.9 L422.6,542.3 L422.9,542.6 L423.1,542.8 L423.4,543.1 L423.6,543.3 L423.9,543.5 L424.1,543.7 L424.4,543.9 L424.6,544.1 L424.9,544.2 L425.1,544.4 L425.4,544.5 L425.6,544.7 L425.9,544.8 L426.1,544.9 L426.4,545.0 L426.6,545.1 L426.9,545.2 L427.1,545.3 L427.4,545.4 L427.6,545.4 L427.9,545.5 L428.1,545.6 L428.4,545.7 L428.6,545.7 L428.9,545.8 L429.1,545.8 L429.4,545.9 L429.6,545.9 L429.9,546.0 L430.1,546.0 L430.4,546.1 L430.6,546.1 L430.9,546.2 L431.1,546.2 L431.4,546.2 L431.6,546.3 L431.9,546.3 L432.1,546.3 L432.4,546.3 L432.6,546.4 L432.9,546.4 L433.1,546.4 L433.4,546.4 L433.6,546.5 L433.9,546.5 L434.1,546.5 L434.4,546.5 L434.6,546.5 L434.9,546.5 L435.1,546.5 L435.4,546.6 L435.6,546.6 L435.9,546.6 L436.1,546.6 L436.4,546.6 L436.6,546.6 L436.9,546.6 L437.1,546.6 L437.4,546.6 L437.6,546.6 L437.9,546.6 L438.1,546.5 L438.4,546.5 L438.6,546.5 L438.9,546.5 L439.1,546.5 L439.4,546.5 L439.6,546.4 L439.9,546.4 L440.1,546.4 L440.4,546.4 L440.6,546.3 L440.9,546.3 L441.1,546.2 L441.4,546.2 L441.6,546.1 L441.9,546.1 L442.1,546.0 L442.4,545.9 L442.6,545.8 L442.9,545.8 L443.1,545.6 L443.4,545.5 L443.6,545.4 L443.9,545.2 L444.1,545.0 L444.4,544.8 L444.6,544.5 L444.9,544.3 L445.1,543.9 L445.4,543.5 L445.6,543.1 L445.9,542.6 L446.1,542.0 L446.4,541.4 L446.6,540.6 L446.9,539.8 L447.1,538.9 L447.4,537.9 L447.6,536.8 L447.9,535.5 L448.1,534.2 L448.4,532.7 L448.6,531.2 L448.9,529.5 L449.1,527.7 L449.4,525.9 L449.6,524.0 L449.9,522.2 L450.1,520.4 L450.4,518.7 L450.6,517.4 L450.9,516.4 L451.1,515.8 L451.4,515.8 L451.6,516.2 L451.9,517.2 L452.1,518.5 L452.4,520.1 L452.6,521.8 L452.9,523.7 L453.1,525.6 L453.4,527.4 L453.6,529.2 L453.9,530.9 L454.1,532.5 L454.4,534.0 L454.6,535.4 L454.9,536.7 L455.1,537.8 L455.4,538.9 L455.6,539.8 L455.9,540.7 L456.1,541.4 L456.4,542.1 L456.6,542.7 L456.9,543.2 L457.1,543.7 L457.4,544.1 L457.6,544.4 L457.9,544.7 L458.1,545.0 L458.4,545.3 L458.6,545.5 L458.9,545.6 L459.1,545.8 L459.4,545.9 L459.6,546.1 L459.9,546.2 L460.1,546.3 L460.4,546.4 L460.6,546.5 L460.9,546.5 L461.1,546.6 L461.4,546.7 L461.6,546.7 L461.9,546.8 L462.1,546.8 L462.4,546.9 L462.6,546.9 L462.9,547.0 L463.1,547.0 L463.4,547.0 L463.6,547.1 L463.9,547.1 L464.1,547.1 L464.4,547.2 L464.6,547.2 L464.9,547.2 L465.1,547.2 L465.4,547.3 L465.6,547.3 L465.9,547.3 L466.1,547.3 L466.4,547.3 L466.6,547.4 L466.9,547.4 L467.1,547.4 L467.4,547.4 L467.6,547.4 L467.9,547.4 L468.1,547.4 L468.4,547.5 L468.6,547.5 L468.9,547.5 L469.1,547.5 L469.4,547.5 L469.6,547.5 L469.9,547.5 L470.1,547.5 L470.4,547.5 L470.6,547.5 L470.9,547.6 L471.1,547.6 L471.4,547.6 L471.6,547.6 L471.9,547.6 L472.1,547.6 L472.4,547.6 L472.6,547.6 L472.9,547.6 L473.1,547.6 L473.4,547.6 L473.6,547.6 L473.9,547.6 L474.1,547.6 L474.4,547.6 L474.6,547.6 L474.9,547.6 L475.1,547.6 L475.4,547.6 L475.6,547.6 L475.9,547.6 L476.1,547.6 L476.4,547.6 L476.6,547.6 L476.9,547.6 L477.1,547.6 L477.4,547.6 L477.6,547.6 L477.9,547.6 L478.1,547.6 L478.4,547.6 L478.6,547.6 L478.9,547.5 L479.1,547.5 L479.4,547.5 L479.6,547.5 L479.9,547.5 L480.1,547.5 L480.4,547.4 L480.6,547.4 L480.9,547.4 L481.1,547.3 L481.4,547.3 L481.6,547.3 L481.9,547.2 L482.1,547.1 L482.4,547.1 L482.6,547.0 L482.9,546.9 L483.1,546.8 L483.4,546.7 L483.6,546.5 L483.9,546.4 L484.1,546.2 L484.4,546.0 L484.6,545.7 L484.9,545.5 L485.1,545.2 L485.4,544.9 L485.6,544.6 L485.9,544.2 L486.1,543.8 L486.4,543.4 L486.6,543.0 L486.9,542.5 L487.1,542.0 L487.4,541.6 L487.6,541.1 L487.9,540.7 L488.1,540.4 L488.4,540.1 L488.6,540.0 L488.9,540.0 L489.1,540.1 L489.4,540.3 L489.6,540.7 L489.9,541.1 L490.1,541.5 L490.4,542.0 L490.6,542.4 L490.9,542.9 L491.1,543.4 L491.4,543.8 L491.6,544.2 L491.9,544.5 L492.1,544.9 L492.4,545.2 L492.6,545.5 L492.9,545.8 L493.1,546.0 L493.4,546.2 L493.6,546.4 L493.9,546.6 L494.1,546.7 L494.4,546.9 L494.6,547.0 L494.9,547.1 L495.1,547.2 L495.4,547.2 L495.6,547.3 L495.9,547.4 L496.1,547.4 L496.4,547.5 L496.6,547.5 L496.9,547.5 L497.1,547.6 L497.4,547.6 L497.6,547.6 L497.9,547.7 L498.1,547.7 L498.4,547.7 L498.6,547.7 L498.9,547.7 L499.1,547.7 L499.4,547.8 L499.6,547.8 L499.9,547.8 L500.1,547.8 L500.4,547.8 L500.6,547.8 L500.9,547.8 L501.1,547.8 L501.4,547.8 L501.6,547.9 L501.9,547.9 L502.1,547.9 L502.4,547.9 L502.6,547.9 L502.9,547.9 L503.1,547.9 L503.4,547.9 L503.6,547.9 L503.9,547.9 L504.1,547.9 L504.4,547.9 L504.6,547.9 L504.9,547.9 L505.1,547.9 L505.4,547.9 L505.6,547.9 L505.9,547.9 L506.1,548.0 L506.4,548.0 L506.6,548.0 L506.9,548.0 L507.1,548.0 L507.4,548.0 L507.6,548.0 L507.9,548.0 L508.1,548.0 L508.4,548.0 L508.6,548.0 L508.9,548.0 L509.1,548.0 L509.4,548.0 L509.6,548.0 L509.9,548.0 L510.1,548.0 L510.4,548.0 L510.6,548.0 L510.9,548.0 L511.1,548.0 L511.4,548.0 L511.6,548.0 L511.9,548.0 L512.1,548.0 L512.4,548.0 L512.6,548.0 L512.9,548.0 L513.1,548.0 L513.4,548.0 L513.6,548.0" fill="none" stroke="#000" stroke-width="2.25" stroke-linejoin="round" stroke-linecap="butt" />
<path d="M282.6,617.1 L282.9,617.1 L283.1,617.1 L283.4,617.1 L283.6,617.1 L283.9,617.1 L284.1,617.1 L284.4,617.1 L284.6,617.1 L284.9,617.1 L285.1,617.1 L285.4,617.1 L285.6,617.1 L285.9,617.0 L286.1,617.0 L286.4,617.0 L286.6,617.0 L286.9,617.0 L287.1,617.0 L287.4,617.0 L287.6,617.0 L287.9,617.0 L288.1,617.0 L288.4,617.0 L288.6,617.0 L288.9,617.0 L289.1,617.0 L289.4,616.9 L289.6,616.9 L289.9,616.9 L290.1,616.9 L290.4,616.9 L290.6,616.9 L290.9,616.9 L291.1,616.9 L291.4,616.8 L291.6,616.8 L291.9,616.8 L292.1,616.8 L292.4,616.8 L292.6,616.7 L292.9,616.7 L293.1,616.7 L293.4,616.6 L293.6,616.6 L293.9,616.6 L294.1,616.5 L294.4,616.5 L294.6,616.4 L294.9,616.4 L295.1,616.3 L295.4,616.2 L295.6,616.1 L295.9,616.0 L296.1,615.9 L296.4,615.7 L296.6,615.6 L296.9,615.4 L297.1,615.2 L297.4,614.9 L297.6,614.6 L297.9,614.3 L298.1,614.0 L298.4,613.6 L298.6,613.1 L298.9,612.7 L299.1,612.1 L299.4,611.6 L299.6,611.0 L299.9,610.3 L300.1,609.7 L300.4,609.0 L300.6,608.3 L300.9,607.6 L301.1,607.0 L301.4,606.5 L301.6,606.1 L301.9,605.9 L302.1,605.9 L302.4,606.0 L302.6,606.4 L302.9,606.9 L303.1,607.5 L303.4,608.1 L303.6,608.8 L303.9,609.5 L304.1,610.2 L304.4,610.8 L304.6,611.4 L304.9,612.0 L305.1,612.5 L305.4,613.0 L305.6,613.4 L305.9,613.8 L306.1,614.2 L306.4,614.5 L306.6,614.8 L306.9,615.0 L307.1,615.3 L307.4,615.5 L307.6,615.6 L307.9,615.8 L308.1,615.9 L308.4,616.0 L308.6,616.1 L308.9,616.2 L309.1,616.3 L309.4,616.3 L309.6,616.4 L309.9,616.4 L310.1,616.5 L310.4,616.5 L310.6,616.5 L310.9,616.6 L311.1,616.6 L311.4,616.6 L311.6,616.6 L311.9,616.6 L312.1,616.7 L312.4,616.7 L312.6,616.7 L312.9,616.7 L313.1,616.7 L313.4,616.7 L313.6,616.7 L313.9,616.7 L314.1,616.7 L314.4,616.8 L314.6,616.8 L314.9,616.8 L315.1,616.8 L315.4,616.8 L315.6,616.8 L315.9,616.8 L316.1,616.8 L316.4,616.8 L316.6,616.8 L316.9,616.8 L317.1,616.8 L317.4,616.8 L317.6,616.8 L317.9,616.8 L318.1,616.8 L318.4,616.8 L318.6,616.8 L318.9,616.8 L319.1,616.8 L319.4,616.8 L319.6,616.8 L319.9,616.8 L320.1,616.8 L320.4,616.8 L320.6,616.7 L320.9,616.7 L321.1,616.7 L321.4,616.7 L321.6,616.7 L321.9,616.7 L322.1,616.7 L322.4,616.7 L322.6,616.7 L322.9,616.7 L323.1,616.7 L323.4,616.7 L323.6,616.6 L323.9,616.6 L324.1,616.6 L324.4,616.6 L324.6,616.6 L324.9,616.6 L325.1,616.6 L325.4,616.5 L325.6,616.5 L325.9,616.5 L326.1,616.5 L326.4,616.5 L326.6,616.4 L326.9,616.4 L327.1,616.4 L327.4,616.4 L327.6,616.3 L327.9,616.3 L328.1,616.3 L328.4,616.2 L328.6,616.2 L328.9,616.1 L329.1,616.1 L329.4,616.0 L329.6,616.0 L329.9,615.9 L330.1,615.9 L330.4,615.8 L330.6,615.7 L330.9,615.6 L331.1,615.6 L331.4,615.5 L331.6,615.3 L331.9,615.2 L332.1,615.0 L332.4,614.9 L332.6,614.7 L332.9,614.4 L333.1,614.2 L333.4,613.9 L333.6,613.5 L333.9,613.1 L334.1,612.6 L334.4,612.1 L334.6,611.5 L334.9,610.8 L335.1,610.0 L335.4,609.2 L335.6,608.2 L335.9,607.1 L336.1,606.0 L336.4,604.7 L336.6,603.4 L336.9,601.9 L337.1,600.3 L337.4,598.7 L337.6,597.0 L337.9,595.3 L338.1,593.7 L338.4,592.2 L338.6,590.9 L338.9,590.0 L339.1,589.4 L339.4,589.4 L339.6,589.8 L339.9,590.7 L340.1,591.9 L340.4,593.3 L340.6,594.9 L340.9,596.6 L341.1,598.3 L341.4,599.9 L341.6,601.5 L341.9,603.0 L342.1,604.4 L342.4,605.7 L342.6,606.8 L342.9,607.9 L343.1,608.9 L343.4,609.7 L343.6,610.5 L343.9,611.2 L344.1,611.8 L344.4,612.4 L344.6,612.8 L344.9,613.3 L345.1,613.6 L345.4,613.9 L345.6,614.2 L345.9,614.4 L346.1,614.6 L346.4,614.8 L346.6,614.9 L346.9,615.1 L347.1,615.2 L347.4,615.3 L347.6,615.4 L347.9,615.4 L348.1,615.5 L348.4,615.6 L348.6,615.6 L348.9,615.7 L349.1,615.7 L349.4,615.7 L349.6,615.8 L349.9,615.8 L350.1,615.8 L350.4,615.9 L350.6,615.9 L350.9,615.9 L351.1,615.9 L351.4,615.9 L351.6,616.0 L351.9,616.0 L352.1,616.0 L352.4,616.0 L352.6,616.0 L352.9,616.0 L353.1,616.0 L353.4,616.0 L353.6,616.0 L353.9,616.0 L354.1,616.0 L354.4,616.0 L354.6,616.0 L354.9,616.0 L355.1,616.0 L355.4,616.0 L355.6,616.0 L355.9,615.9 L356.1,615.9 L356.4,615.9 L356.6,615.9 L356.9,615.9 L357.1,615.9 L357.4,615.9 L357.6,615.8 L357.9,615.8 L358.1,615.8 L358.4,615.8 L358.6,615.7 L358.9,615.7 L359.1,615.7 L359.4,615.7 L359.6,615.6 L359.9,615.6 L360.1,615.5 L360.4,615.5 L360.6,615.5 L360.9,615.4 L361.1,615.4 L361.4,615.3 L361.6,615.3 L361.9,615.2 L362.1,615.2 L362.4,615.1 L362.6,615.0 L362.9,615.0 L363.1,614.9 L363.4,614.8 L363.6,614.7 L363.9,614.7 L364.1,614.6 L364.4,614.5 L364.6,614.4 L364.9,614.3 L365.1,614.1 L365.4,614.0 L365.6,613.9 L365.9,613.7 L366.1,613.6 L366.4,613.4 L366.6,613.2 L366.9,613.1 L367.1,612.9 L367.4,612.6 L367.6,612.4 L367.9,612.1 L368.1,611.8 L368.4,611.5 L368.6,611.1 L368.9,610.7 L369.1,610.2 L369.4,609.7 L369.6,609.0 L369.9,608.3 L370.1,607.5 L370.4,606.6 L370.6,605.5 L370.9,604.2 L371.1,602.8 L371.4,601.1 L371.6,599.2 L371.9,597.1 L372.1,594.6 L372.4,591.8 L372.6,588.7 L372.9,585.2 L373.1,581.3 L373.4,577.0 L373.6,572.3 L373.9,567.1 L374.1,561.6 L374.4,555.6 L374.6,549.3 L374.9,542.6 L375.1,535.8 L375.4,528.9 L375.6,522.2 L375.9,516.1 L376.1,511.0 L376.4,507.2 L376.6,505.0 L376.9,504.8 L377.1,506.6 L377.4,510.1 L377.6,515.0 L377.9,521.0 L378.1,527.5 L378.4,534.4 L378.6,541.2 L378.9,548.0 L379.1,554.4 L379.4,560.4 L379.6,566.1 L379.9,571.3 L380.1,576.1 L380.4,580.5 L380.6,584.5 L380.9,588.1 L381.1,591.3 L381.4,594.1 L381.6,596.6 L381.9,598.9 L382.1,600.8 L382.4,602.5 L382.6,604.0 L382.9,605.3 L383.1,606.4 L383.4,607.4 L383.6,608.2 L383.9,609.0 L384.1,609.6 L384.4,610.2 L384.6,610.6 L384.9,611.1 L385.1,611.5 L385.4,611.8 L385.6,612.1 L385.9,612.4 L386.1,612.6 L386.4,612.9 L386.6,613.1 L386.9,613.3 L387.1,613.5 L387.4,613.6 L387.6,613.8 L387.9,613.9 L388.1,614.1 L388.4,614.2 L388.6,614.3 L388.9,614.4 L389.1,614.5 L389.4,614.6 L389.6,614.7 L389.9,614.8 L390.1,614.9 L390.4,615.0 L390.6,615.1 L390.9,615.1 L391.1,615.2 L391.4,615.3 L391.6,615.3 L391.9,615.4 L392.1,615.4 L392.4,615.5 L392.6,615.6 L392.9,615.6 L393.1,615.6 L393.4,615.7 L393.6,615.7 L393.9,615.8 L394.1,615.8 L394.4,615.9 L394.6,615.9 L394.9,615.9 L395.1,616.0 L395.4,616.0 L395.6,616.0 L395.9,616.0 L396.1,616.1 L396.4,616.1 L396.6,616.1 L396.9,616.1 L397.1,616.2 L397.4,616.2 L397.6,616.2 L397.9,616.2 L398.1,616.2 L398.4,616.3 L398.6,616.3 L398.9,616.3 L399.1,616.3 L399.4,616.3 L399.6,616.3 L399.9,616.4 L400.1,616.4 L400.4,616.4 L400.6,616.4 L400.9,616.4 L401.1,616.4 L401.4,616.4 L401.6,616.4 L401.9,616.4 L402.1,616.5 L402.4,616.5 L402.6,616.5 L402.9,616.5 L403.1,616.5 L403.4,616.5 L403.6,616.5 L403.9,616.5 L404.1,616.5 L404.4,616.5 L404.6,616.5 L404.9,616.5 L405.1,616.5 L405.4,616.5 L405.6,616.5 L405.9,616.5 L406.1,616.4 L406.4,616.4 L406.6,616.4 L406.9,616.4 L407.1,616.4 L407.4,616.3 L407.6,616.3 L407.9,616.2 L408.1,616.2 L408.4,616.1 L408.6,616.0 L408.9,615.9 L409.1,615.8 L409.4,615.7 L409.6,615.6 L409.9,615.4 L410.1,615.3 L410.4,615.1 L410.6,614.9 L410.9,614.6 L411.1,614.4 L411.4,614.1 L411.6,613.9 L411.9,613.6 L412.1,613.3 L412.4,613.0 L412.6,612.7 L412.9,612.4 L413.1,612.2 L413.4,612.0 L413.6,611.9 L413.9,611.9 L414.1,612.0 L414.4,612.2 L414.6,612.4 L414.9,612.7 L415.1,613.0 L415.4,613.3 L415.6,613.6 L415.9,613.9 L416.1,614.2 L416.4,614.4 L416.6,614.7 L416.9,614.9 L417.1,615.1 L417.4,615.3 L417.6,615.5 L417.9,615.7 L418.1,615.8 L418.4,615.9 L418.6,616.1 L418.9,616.2 L419.1,616.2 L419.4,616.3 L419.6,616.4 L419.9,616.5 L420.1,616.5 L420.4,616.5 L420.6,616.6 L420.9,616.6 L421.1,616.7 L421.4,616.7 L421.6,616.7 L421.9,616.7 L422.1,616.7 L422.4,616.8 L422.6,616.8 L422.9,616.8 L423.1,616.8 L423.4,616.8 L423.6,616.8 L423.9,616.8 L424.1,616.8 L424.4,616.8 L424.6,616.9 L424.9,616.9 L425.1,616.9 L425.4,616.9 L425.6,616.9 L425.9,616.9 L426.1,616.9 L426.4,616.9 L426.6,616.9 L426.9,616.9 L427.1,616.9 L427.4,616.9 L427.6,616.9 L427.9,616.9 L428.1,616.9 L428.4,616.9 L428.6,616.9 L428.9,616.9 L429.1,616.9 L429.4,616.9 L429.6,616.9 L429.9,616.9 L430.1,616.9 L430.4,616.9 L430.6,616.9 L430.9,616.9 L431.1,616.9 L431.4,616.9 L431.6,616.9 L431.9,616.9 L432.1,616.9 L432.4,616.9 L432.6,616.9 L432.9,616.9 L433.1,616.9 L433.4,616.9 L433.6,616.9 L433.9,616.9 L434.1,616.9 L434.4,616.9 L434.6,616.9 L434.9,616.9 L435.1,616.9 L435.4,616.9 L435.6,616.9 L435.9,616.9 L436.1,616.9 L436.4,616.9 L436.6,616.9 L436.9,616.8 L437.1,616.8 L437.4,616.8 L437.6,616.8 L437.9,616.8 L438.1,616.8 L438.4,616.8 L438.6,616.8 L438.9,616.8 L439.1,616.8 L439.4,616.7 L439.6,616.7 L439.9,616.7 L440.1,616.7 L440.4,616.7 L440.6,616.7 L440.9,616.6 L441.1,616.6 L441.4,616.6 L441.6,616.6 L441.9,616.5 L442.1,616.5 L442.4,616.5 L442.6,616.4 L442.9,616.4 L443.1,616.4 L443.4,616.3 L443.6,616.2 L443.9,616.2 L444.1,616.1 L444.4,616.0 L444.6,615.9 L444.9,615.8 L445.1,615.6 L445.4,615.5 L445.6,615.3 L445.9,615.1 L446.1,614.8 L446.4,614.5 L446.6,614.2 L446.9,613.9 L447.1,613.5 L447.4,613.0 L447.6,612.5 L447.9,612.0 L448.1,611.4 L448.4,610.7 L448.6,610.0 L448.9,609.2 L449.1,608.4 L449.4,607.5 L449.6,606.6 L449.9,605.8 L450.1,604.9 L450.4,604.1 L450.6,603.4 L450.9,603.0 L451.1,602.7 L451.4,602.7 L451.6,602.9 L451.9,603.3 L452.1,604.0 L452.4,604.7 L452.6,605.6 L452.9,606.5 L453.1,607.3 L453.4,608.2 L453.6,609.0 L453.9,609.8 L454.1,610.5 L454.4,611.2 L454.6,611.8 L454.9,612.4 L455.1,612.9 L455.4,613.4 L455.6,613.8 L455.9,614.2 L456.1,614.5 L456.4,614.8 L456.6,615.0 L456.9,615.2 L457.1,615.4 L457.4,615.6 L457.6,615.7 L457.9,615.9 L458.1,616.0 L458.4,616.1 L458.6,616.1 L458.9,616.2 L459.1,616.3 L459.4,616.3 L459.6,616.4 L459.9,616.4 L460.1,616.5 L460.4,616.5 L460.6,616.5 L460.9,616.6 L461.1,616.6 L461.4,616.6 L461.6,616.6 L461.9,616.6 L462.1,616.7 L462.4,616.7 L462.6,616.7 L462.9,616.7 L463.1,616.7 L463.4,616.7 L463.6,616.7 L463.9,616.8 L464.1,616.8 L464.4,616.8 L464.6,616.8 L464.9,616.8 L465.1,616.8 L465.4,616.8 L465.6,616.8 L465.9,616.8 L466.1,616.8 L466.4,616.8 L466.6,616.8 L466.9,616.8 L467.1,616.8 L467.4,616.8 L467.6,616.8 L467.9,616.8 L468.1,616.8 L468.4,616.8 L468.6,616.8 L468.9,616.8 L469.1,616.8 L469.4,616.8 L469.6,616.8 L469.9,616.8 L470.1,616.8 L470.4,616.8 L470.6,616.8 L470.9,616.8 L471.1,616.8 L471.4,616.8 L471.6,616.8 L471.9,616.8 L472.1,616.8 L472.4,616.8 L472.6,616.8 L472.9,616.8 L473.1,616.8 L473.4,616.8 L473.6,616.8 L473.9,616.8 L474.1,616.7 L474.4,616.7 L474.6,616.7 L474.9,616.7 L475.1,616.7 L475.4,616.7 L475.6,616.7 L475.9,616.6 L476.1,616.6 L476.4,616.6 L476.6,616.6 L476.9,616.6 L477.1,616.5 L477.4,616.5 L477.6,616.5 L477.9,616.5 L478.1,616.4 L478.4,616.4 L478.6,616.4 L478.9,616.3 L479.1,616.3 L479.4,616.2 L479.6,616.2 L479.9,616.1 L480.1,616.1 L480.4,616.0 L480.6,615.9 L480.9,615.8 L481.1,615.8 L481.4,615.6 L481.6,615.5 L481.9,615.4 L482.1,615.2 L482.4,615.0 L482.6,614.8 L482.9,614.5 L483.1,614.2 L483.4,613.9 L483.6,613.5 L483.9,613.0 L484.1,612.5 L484.4,612.0 L484.6,611.3 L484.9,610.6 L485.1,609.8 L485.4,608.9 L485.6,607.9 L485.9,606.8 L486.1,605.7 L486.4,604.5 L486.6,603.1 L486.9,601.8 L487.1,600.3 L487.4,598.9 L487.6,597.5 L487.9,596.3 L488.1,595.2 L488.4,594.4 L488.6,594.0 L488.9,594.0 L489.1,594.3 L489.4,595.0 L489.6,596.1 L489.9,597.3 L490.1,598.7 L490.4,600.1 L490.6,601.5 L490.9,602.9 L491.1,604.2 L491.4,605.5 L491.6,606.6 L491.9,607.7 L492.1,608.7 L492.4,609.6 L492.6,610.5 L492.9,611.2 L493.1,611.9 L493.4,612.4 L493.6,613.0 L493.9,613.4 L494.1,613.8 L494.4,614.2 L494.6,614.5 L494.9,614.8 L495.1,615.0 L495.4,615.2 L495.6,615.4 L495.9,615.5 L496.1,615.7 L496.4,615.8 L496.6,615.9 L496.9,616.0 L497.1,616.0 L497.4,616.1 L497.6,616.2 L497.9,616.2 L498.1,616.3 L498.4,616.3 L498.6,616.4 L498.9,616.4 L499.1,616.5 L499.4,616.5 L499.6,616.5 L499.9,616.6 L500.1,616.6 L500.4,616.6 L500.6,616.6 L500.9,616.7 L501.1,616.7 L501.4,616.7 L501.6,616.7 L501.9,616.8 L502.1,616.8 L502.4,616.8 L502.6,616.8 L502.9,616.8 L503.1,616.8 L503.4,616.8 L503.6,616.9 L503.9,616.9 L504.1,616.9 L504.4,616.9 L504.6,616.9 L504.9,616.9 L505.1,616.9 L505.4,616.9 L505.6,616.9 L505.9,617.0 L506.1,617.0 L506.4,617.0 L506.6,617.0 L506.9,617.0 L507.1,617.0 L507.4,617.0 L507.6,617.0 L507.9,617.0 L508.1,617.0 L508.4,617.0 L508.6,617.0 L508.9,617.0 L509.1,617.0 L509.4,617.1 L509.6,617.1 L509.9,617.1 L510.1,617.1 L510.4,617.1 L510.6,617.1 L510.9,617.1 L511.1,617.1 L511.4,617.1 L511.6,617.1 L511.9,617.1 L512.1,617.1 L512.4,617.1 L512.6,617.1 L512.9,617.1 L513.1,617.1 L513.4,617.1 L513.6,617.1" fill="none" stroke="#000" stroke-width="2.25" stroke-linejoin="round" stroke-linecap="butt" />
<path d="M282.6,685.9 L282.9,685.9 L283.1,685.9 L283.4,685.9 L283.6,685.9 L283.9,685.9 L284.1,685.9 L284.4,685.9 L284.6,685.9 L284.9,685.9 L285.1,685.9 L285.4,685.9 L285.6,685.9 L285.9,685.9 L286.1,685.9 L286.4,685.9 L286.6,685.9 L286.9,685.9 L287.1,685.9 L287.4,685.9 L287.6,685.9 L287.9,685.9 L288.1,685.9 L288.4,685.9 L288.6,685.9 L288.9,685.9 L289.1,685.9 L289.4,685.9 L289.6,685.9 L289.9,685.9 L290.1,685.9 L290.4,685.9 L290.6,685.9 L290.9,685.9 L291.1,685.9 L291.4,685.9 L291.6,685.9 L291.9,685.9 L292.1,685.9 L292.4,685.9 L292.6,685.8 L292.9,685.8 L293.1,685.8 L293.4,685.8 L293.6,685.8 L293.9,685.8 L294.1,685.8 L294.4,685.8 L294.6,685.8 L294.9,685.7 L295.1,685.7 L295.4,685.7 L295.6,685.6 L295.9,685.6 L296.1,685.6 L296.4,685.5 L296.6,685.4 L296.9,685.4 L297.1,685.3 L297.4,685.2 L297.6,685.1 L297.9,684.9 L298.1,684.8 L298.4,684.6 L298.6,684.5 L298.9,684.3 L299.1,684.1 L299.4,683.9 L299.6,683.7 L299.9,683.4 L300.1,683.2 L300.4,683.0 L300.6,682.7 L300.9,682.5 L301.1,682.3 L301.4,682.1 L301.6,682.0 L301.9,682.0 L302.1,682.0 L302.4,682.0 L302.6,682.1 L302.9,682.3 L303.1,682.5 L303.4,682.7 L303.6,682.9 L303.9,683.1 L304.1,683.4 L304.4,683.6 L304.6,683.8 L304.9,684.0 L305.1,684.2 L305.4,684.4 L305.6,684.6 L305.9,684.7 L306.1,684.9 L306.4,685.0 L306.6,685.1 L306.9,685.2 L307.1,685.3 L307.4,685.4 L307.6,685.5 L307.9,685.5 L308.1,685.6 L308.4,685.6 L308.6,685.6 L308.9,685.7 L309.1,685.7 L309.4,685.7 L309.6,685.7 L309.9,685.8 L310.1,685.8 L310.4,685.8 L310.6,685.8 L310.9,685.8 L311.1,685.8 L311.4,685.8 L311.6,685.8 L311.9,685.8 L312.1,685.8 L312.4,685.8 L312.6,685.8 L312.9,685.8 L313.1,685.8 L313.4,685.8 L313.6,685.8 L313.9,685.8 L314.1,685.8 L314.4,685.8 L314.6,685.8 L314.9,685.8 L315.1,685.8 L315.4,685.8 L315.6,685.8 L315.9,685.8 L316.1,685.8 L316.4,685.8 L316.6,685.8 L316.9,685.8 L317.1,685.8 L317.4,685.8 L317.6,685.8 L317.9,685.8 L318.1,685.8 L318.4,685.8 L318.6,685.8 L318.9,685.8 L319.1,685.8 L319.4,685.8 L319.6,685.8 L319.9,685.8 L320.1,685.8 L320.4,685.8 L320.6,685.8 L320.9,685.8 L321.1,685.8 L321.4,685.8 L321.6,685.8 L321.9,685.8 L322.1,685.8 L322.4,685.8 L322.6,685.8 L322.9,685.8 L323.1,685.8 L323.4,685.8 L323.6,685.8 L323.9,685.8 L324.1,685.8 L324.4,685.8 L324.6,685.8 L324.9,685.8 L325.1,685.8 L325.4,685.8 L325.6,685.8 L325.9,685.8 L326.1,685.8 L326.4,685.7 L326.6,685.7 L326.9,685.7 L327.1,685.7 L327.4,685.7 L327.6,685.7 L327.9,685.7 L328.1,685.7 L328.4,685.7 L328.6,685.7 L328.9,685.7 L329.1,685.6 L329.4,685.6 L329.6,685.6 L329.9,685.6 L330.1,685.6 L330.4,685.6 L330.6,685.5 L330.9,685.5 L331.1,685.5 L331.4,685.5 L331.6,685.4 L331.9,685.4 L332.1,685.3 L332.4,685.2 L332.6,685.2 L332.9,685.1 L333.1,685.0 L333.4,684.8 L333.6,684.7 L333.9,684.5 L334.1,684.3 L334.4,684.1 L334.6,683.8 L334.9,683.5 L335.1,683.2 L335.4,682.8 L335.6,682.4 L335.9,682.0 L336.1,681.5 L336.4,681.0 L336.6,680.4 L336.9,679.8 L337.1,679.2 L337.4,678.6 L337.6,678.0 L337.9,677.4 L338.1,676.8 L338.4,676.3 L338.6,675.9 L338.9,675.6 L339.1,675.4 L339.4,675.4 L339.6,675.5 L339.9,675.8 L340.1,676.2 L340.4,676.7 L340.6,677.3 L340.9,677.9 L341.1,678.5 L341.4,679.1 L341.6,679.7 L341.9,680.3 L342.1,680.8 L342.4,681.4 L342.6,681.8 L342.9,682.3 L343.1,682.7 L343.4,683.1 L343.6,683.4 L343.9,683.7 L344.1,684.0 L344.4,684.2 L344.6,684.4 L344.9,684.6 L345.1,684.7 L345.4,684.9 L345.6,685.0 L345.9,685.1 L346.1,685.1 L346.4,685.2 L346.6,685.2 L346.9,685.3 L347.1,685.3 L347.4,685.4 L347.6,685.4 L347.9,685.4 L348.1,685.4 L348.4,685.4 L348.6,685.5 L348.9,685.5 L349.1,685.5 L349.4,685.5 L349.6,685.5 L349.9,685.5 L350.1,685.5 L350.4,685.5 L350.6,685.5 L350.9,685.5 L351.1,685.5 L351.4,685.5 L351.6,685.5 L351.9,685.5 L352.1,685.5 L352.4,685.5 L352.6,685.5 L352.9,685.5 L353.1,685.5 L353.4,685.5 L353.6,685.5 L353.9,685.5 L354.1,685.5 L354.4,685.5 L354.6,685.5 L354.9,685.5 L355.1,685.5 L355.4,685.5 L355.6,685.5 L355.9,685.5 L356.1,685.5 L356.4,685.5 L356.6,685.4 L356.9,685.4 L357.1,685.4 L357.4,685.4 L357.6,685.4 L357.9,685.4 L358.1,685.4 L358.4,685.4 L358.6,685.4 L358.9,685.3 L359.1,685.3 L359.4,685.3 L359.6,685.3 L359.9,685.3 L360.1,685.3 L360.4,685.3 L360.6,685.2 L360.9,685.2 L361.1,685.2 L361.4,685.2 L361.6,685.1 L361.9,685.1 L362.1,685.1 L362.4,685.1 L362.6,685.0 L362.9,685.0 L363.1,685.0 L363.4,684.9 L363.6,684.9 L363.9,684.9 L364.1,684.8 L364.4,684.8 L364.6,684.7 L364.9,684.7 L365.1,684.6 L365.4,684.6 L365.6,684.5 L365.9,684.5 L366.1,684.4 L366.4,684.3 L366.6,684.2 L366.9,684.1 L367.1,684.0 L367.4,683.9 L367.6,683.8 L367.9,683.7 L368.1,683.5 L368.4,683.4 L368.6,683.2 L368.9,682.9 L369.1,682.7 L369.4,682.3 L369.6,682.0 L369.9,681.5 L370.1,681.0 L370.4,680.4 L370.6,679.7 L370.9,678.8 L371.1,677.8 L371.4,676.6 L371.6,675.3 L371.9,673.7 L372.1,671.9 L372.4,669.9 L372.6,667.6 L372.9,665.1 L373.1,662.3 L373.4,659.3 L373.6,655.9 L373.9,652.4 L374.1,648.6 L374.4,644.6 L374.6,640.5 L374.9,636.2 L375.1,632.0 L375.4,627.9 L375.6,623.9 L375.9,620.4 L376.1,617.5 L376.4,615.3 L376.6,614.2 L376.9,614.1 L377.1,615.0 L377.4,617.0 L377.6,619.8 L377.9,623.2 L378.1,627.0 L378.4,631.2 L378.6,635.4 L378.9,639.6 L379.1,643.8 L379.4,647.8 L379.6,651.6 L379.9,655.2 L380.1,658.6 L380.4,661.7 L380.6,664.6 L380.9,667.2 L381.1,669.5 L381.4,671.6 L381.6,673.4 L381.9,675.0 L382.1,676.4 L382.4,677.6 L382.6,678.6 L382.9,679.5 L383.1,680.3 L383.4,680.9 L383.6,681.4 L383.9,681.9 L384.1,682.3 L384.4,682.6 L384.6,682.9 L384.9,683.1 L385.1,683.3 L385.4,683.5 L385.6,683.7 L385.9,683.8 L386.1,683.9 L386.4,684.0 L386.6,684.1 L386.9,684.2 L387.1,684.3 L387.4,684.4 L387.6,684.4 L387.9,684.5 L388.1,684.6 L388.4,684.6 L388.6,684.7 L388.9,684.7 L389.1,684.8 L389.4,684.8 L389.6,684.9 L389.9,684.9 L390.1,684.9 L390.4,685.0 L390.6,685.0 L390.9,685.0 L391.1,685.1 L391.4,685.1 L391.6,685.1 L391.9,685.2 L392.1,685.2 L392.4,685.2 L392.6,685.2 L392.9,685.2 L393.1,685.3 L393.4,685.3 L393.6,685.3 L393.9,685.3 L394.1,685.3 L394.4,685.4 L394.6,685.4 L394.9,685.4 L395.1,685.4 L395.4,685.4 L395.6,685.4 L395.9,685.4 L396.1,685.4 L396.4,685.5 L396.6,685.5 L396.9,685.5 L397.1,685.5 L397.4,685.5 L397.6,685.5 L397.9,685.5 L398.1,685.5 L398.4,685.5 L398.6,685.5 L398.9,685.5 L399.1,685.5 L399.4,685.6 L399.6,685.6 L399.9,685.6 L400.1,685.6 L400.4,685.6 L400.6,685.6 L400.9,685.6 L401.1,685.6 L401.4,685.6 L401.6,685.6 L401.9,685.6 L402.1,685.6 L402.4,685.6 L402.6,685.6 L402.9,685.6 L403.1,685.6 L403.4,685.6 L403.6,685.6 L403.9,685.6 L404.1,685.6 L404.4,685.6 L404.6,685.6 L404.9,685.6 L405.1,685.6 L405.4,685.5 L405.6,685.5 L405.9,685.5 L406.1,685.5 L406.4,685.5 L406.6,685.4 L406.9,685.4 L407.1,685.4 L407.4,685.3 L407.6,685.3 L407.9,685.2 L408.1,685.1 L408.4,685.0 L408.6,684.9 L408.9,684.8 L409.1,684.6 L409.4,684.5 L409.6,684.3 L409.9,684.1 L410.1,683.9 L410.4,683.6 L410.6,683.3 L410.9,683.0 L411.1,682.7 L411.4,682.4 L411.6,682.0 L411.9,681.7 L412.1,681.3 L412.4,681.0 L412.6,680.7 L412.9,680.4 L413.1,680.1 L413.4,680.0 L413.6,679.9 L413.9,679.9 L414.1,679.9 L414.4,680.1 L414.6,680.3 L414.9,680.6 L415.1,681.0 L415.4,681.3 L415.6,681.7 L415.9,682.0 L416.1,682.4 L416.4,682.7 L416.6,683.0 L416.9,683.3 L417.1,683.6 L417.4,683.9 L417.6,684.1 L417.9,684.3 L418.1,684.5 L418.4,684.7 L418.6,684.8 L418.9,685.0 L419.1,685.1 L419.4,685.2 L419.6,685.3 L419.9,685.4 L420.1,685.4 L420.4,685.5 L420.6,685.5 L420.9,685.6 L421.1,685.6 L421.4,685.6 L421.6,685.6 L421.9,685.7 L422.1,685.7 L422.4,685.7 L422.6,685.7 L422.9,685.7 L423.1,685.7 L423.4,685.7 L423.6,685.8 L423.9,685.8 L424.1,685.8 L424.4,685.8 L424.6,685.8 L424.9,685.8 L425.1,685.8 L425.4,685.8 L425.6,685.8 L425.9,685.8 L426.1,685.8 L426.4,685.8 L426.6,685.8 L426.9,685.8 L427.1,685.8 L427.4,685.8 L427.6,685.8 L427.9,685.8 L428.1,685.8 L428.4,685.8 L428.6,685.9 L428.9,685.9 L429.1,685.9 L429.4,685.9 L429.6,685.9 L429.9,685.9 L430.1,685.9 L430.4,685.9 L430.6,685.9 L430.9,685.9 L431.1,685.9 L431.4,685.9 L431.6,685.9 L431.9,685.9 L432.1,685.9 L432.4,685.9 L432.6,685.9 L432.9,685.9 L433.1,685.9 L433.4,685.9 L433.6,685.9 L433.9,685.9 L434.1,685.9 L434.4,685.9 L434.6,685.9 L434.9,685.9 L435.1,685.9 L435.4,685.9 L435.6,685.9 L435.9,685.9 L436.1,685.9 L436.4,685.9 L436.6,685.9 L436.9,685.9 L437.1,685.9 L437.4,685.9 L437.6,685.9 L437.9,685.9 L438.1,685.9 L438.4,685.9 L438.6,685.9 L438.9,685.9 L439.1,685.9 L439.4,685.9 L439.6,685.9 L439.9,685.9 L440.1,685.9 L440.4,685.9 L440.6,685.9 L440.9,685.9 L441.1,685.9 L441.4,685.9 L441.6,685.9 L441.9,685.9 L442.1,685.9 L442.4,685.9 L442.6,685.9 L442.9,685.9 L443.1,685.9 L443.4,685.9 L443.6,685.9 L443.9,685.9 L444.1,685.9 L444.4,685.9 L444.6,685.9 L444.9,685.9 L445.1,685.8 L445.4,685.8 L445.6,685.8 L445.9,685.8 L446.1,685.8 L446.4,685.8 L446.6,685.7 L446.9,685.7 L447.1,685.7 L447.4,685.7 L447.6,685.6 L447.9,685.6 L448.1,685.5 L448.4,685.5 L448.6,685.4 L448.9,685.4 L449.1,685.3 L449.4,685.3 L449.6,685.2 L449.9,685.1 L450.1,685.1 L450.4,685.0 L450.6,685.0 L450.9,685.0 L451.1,684.9 L451.4,684.9 L451.6,685.0 L451.9,685.0 L452.1,685.0 L452.4,685.1 L452.6,685.1 L452.9,685.2 L453.1,685.2 L453.4,685.3 L453.6,685.4 L453.9,685.4 L454.1,685.5 L454.4,685.5 L454.6,685.6 L454.9,685.6 L455.1,685.7 L455.4,685.7 L455.6,685.7 L455.9,685.8 L456.1,685.8 L456.4,685.8 L456.6,685.8 L456.9,685.8 L457.1,685.8 L457.4,685.9 L457.6,685.9 L457.9,685.9 L458.1,685.9 L458.4,685.9 L458.6,685.9 L458.9,685.9 L459.1,685.9 L459.4,685.9 L459.6,685.9 L459.9,685.9 L460.1,685.9 L460.4,685.9 L460.6,685.9 L460.9,685.9 L461.1,685.9 L461.4,685.9 L461.6,685.9 L461.9,685.9 L462.1,685.9 L462.4,685.9 L462.6,685.9 L462.9,685.9 L463.1,685.9 L463.4,685.9 L463.6,685.9 L463.9,685.9 L464.1,685.9 L464.4,685.9 L464.6,685.9 L464.9,685.9 L465.1,685.9 L465.4,685.9 L465.6,685.9 L465.9,685.9 L466.1,685.9 L466.4,685.9 L466.6,685.9 L466.9,685.9 L467.1,685.9 L467.4,685.9 L467.6,685.9 L467.9,685.9 L468.1,685.9 L468.4,685.9 L468.6,685.9 L468.9,685.9 L469.1,685.9 L469.4,685.9 L469.6,685.9 L469.9,685.9 L470.1,685.9 L470.4,685.9 L470.6,685.9 L470.9,685.9 L471.1,685.9 L471.4,685.9 L471.6,685.9 L471.9,685.9 L472.1,685.9 L472.4,685.9 L472.6,685.9 L472.9,685.9 L473.1,685.9 L473.4,685.9 L473.6,685.9 L473.9,685.9 L474.1,685.9 L474.4,685.9 L474.6,685.9 L474.9,685.9 L475.1,685.9 L475.4,685.9 L475.6,685.9 L475.9,685.9 L476.1,685.9 L476.4,685.9 L476.6,685.9 L476.9,685.9 L477.1,685.9 L477.4,685.9 L477.6,685.9 L477.9,685.9 L478.1,685.9 L478.4,685.9 L478.6,685.9 L478.9,685.9 L479.1,685.9 L479.4,685.9 L479.6,685.9 L479.9,685.9 L480.1,685.9 L480.4,685.8 L480.6,685.8 L480.9,685.8 L481.1,685.8 L481.4,685.8 L481.6,685.8 L481.9,685.8 L482.1,685.7 L482.4,685.7 L482.6,685.7 L482.9,685.6 L483.1,685.6 L483.4,685.5 L483.6,685.5 L483.9,685.4 L484.1,685.3 L484.4,685.2 L484.6,685.1 L484.9,685.0 L485.1,684.8 L485.4,684.7 L485.6,684.5 L485.9,684.3 L486.1,684.2 L486.4,684.0 L486.6,683.8 L486.9,683.6 L487.1,683.4 L487.4,683.2 L487.6,683.0 L487.9,682.8 L488.1,682.6 L488.4,682.5 L488.6,682.5 L488.9,682.5 L489.1,682.5 L489.4,682.6 L489.6,682.8 L489.9,682.9 L490.1,683.1 L490.4,683.3 L490.6,683.5 L490.9,683.7 L491.1,683.9 L491.4,684.1 L491.6,684.3 L491.9,684.5 L492.1,684.7 L492.4,684.8 L492.6,684.9 L492.9,685.1 L493.1,685.2 L493.4,685.3 L493.6,685.4 L493.9,685.4 L494.1,685.5 L494.4,685.6 L494.6,685.6 L494.9,685.7 L495.1,685.7 L495.4,685.7 L495.6,685.8 L495.9,685.8 L496.1,685.8 L496.4,685.8 L496.6,685.8 L496.9,685.8 L497.1,685.9 L497.4,685.9 L497.6,685.9 L497.9,685.9 L498.1,685.9 L498.4,685.9 L498.6,685.9 L498.9,685.9 L499.1,685.9 L499.4,685.9 L499.6,685.9 L499.9,685.9 L500.1,685.9 L500.4,685.9 L500.6,685.9 L500.9,685.9 L501.1,685.9 L501.4,685.9 L501.6,685.9 L501.9,685.9 L502.1,685.9 L502.4,685.9 L502.6,685.9 L502.9,685.9 L503.1,685.9 L503.4,685.9 L503.6,685.9 L503.9,685.9 L504.1,685.9 L504.4,685.9 L504.6,685.9 L504.9,686.0 L505.1,686.0 L505.4,686.0 L505.6,686.0 L505.9,686.0 L506.1,686.0 L506.4,686.0 L506.6,686.0 L506.9,686.0 L507.1,686.0 L507.4,686.0 L507.6,686.0 L507.9,686.0 L508.1,686.0 L508.4,686.0 L508.6,686.0 L508.9,686.0 L509.1,686.0 L509.4,686.0 L509.6,686.0 L509.9,686.0 L510.1,686.0 L510.4,686.0 L510.6,686.0 L510.9,686.0 L511.1,686.0 L511.4,686.0 L511.6,686.0 L511.9,686.0 L512.1,686.0 L512.4,686.0 L512.6,686.0 L512.9,686.0 L513.1,686.0 L513.4,686.0 L513.6,686.0" fill="none" stroke="#000" stroke-width="2.10" stroke-linejoin="round" stroke-linecap="butt" />
<rect x="282.60" y="408.25" width="231.15" height="277.65" fill="none" stroke="#000" stroke-width="2"/>
<text x="282.60" y="707.20" font-size="12.00" font-weight="700" text-anchor="middle" >4</text>
<line x1="305.7" y1="685.9" x2="305.7" y2="681.9" stroke="#000" stroke-width="1"/>
<text x="305.72" y="707.20" font-size="12.00" font-weight="700" text-anchor="middle" >5</text>
<line x1="328.8" y1="685.9" x2="328.8" y2="681.9" stroke="#000" stroke-width="1"/>
<text x="328.83" y="707.20" font-size="12.00" font-weight="700" text-anchor="middle" >6</text>
<line x1="351.9" y1="685.9" x2="351.9" y2="681.9" stroke="#000" stroke-width="1"/>
<text x="351.95" y="707.20" font-size="12.00" font-weight="700" text-anchor="middle" >7</text>
<line x1="375.1" y1="685.9" x2="375.1" y2="681.9" stroke="#000" stroke-width="1"/>
<text x="375.06" y="707.20" font-size="12.00" font-weight="700" text-anchor="middle" >8</text>
<line x1="398.2" y1="685.9" x2="398.2" y2="681.9" stroke="#000" stroke-width="1"/>
<text x="398.18" y="707.20" font-size="12.00" font-weight="700" text-anchor="middle" >9</text>
<line x1="421.3" y1="685.9" x2="421.3" y2="681.9" stroke="#000" stroke-width="1"/>
<text x="421.29" y="707.20" font-size="12.00" font-weight="700" text-anchor="middle" >10</text>
<line x1="444.4" y1="685.9" x2="444.4" y2="681.9" stroke="#000" stroke-width="1"/>
<text x="444.40" y="707.20" font-size="12.00" font-weight="700" text-anchor="middle" >11</text>
<line x1="467.5" y1="685.9" x2="467.5" y2="681.9" stroke="#000" stroke-width="1"/>
<text x="467.52" y="707.20" font-size="12.00" font-weight="700" text-anchor="middle" >12</text>
<line x1="490.6" y1="685.9" x2="490.6" y2="681.9" stroke="#000" stroke-width="1"/>
<text x="490.63" y="707.20" font-size="12.00" font-weight="700" text-anchor="middle" >13</text>
<text x="513.75" y="707.20" font-size="12.00" font-weight="700" text-anchor="middle" >14</text>
<text x="368.75" y="733.00" font-size="16.00" font-weight="700" textLength="93.75" lengthAdjust="spacingAndGlyphs" >2 theta [deg]</text>
<text x="268.90" y="398.00" font-size="23.00" textLength="26.00" lengthAdjust="spacingAndGlyphs" stroke="#000" stroke-width="0.3"><tspan font-size="25.5">(</tspan><tspan font-size="23.0">c</tspan><tspan font-size="25.5">)</tspan></text>
<text x="273.30" y="628.50" font-size="16.00" font-weight="700" textLength="65.65" lengthAdjust="spacingAndGlyphs" transform="rotate(-90 273.30 628.50)" >Intensity</text>
<text x="273.30" y="555.40" font-size="16.00" font-weight="700" textLength="80.05" lengthAdjust="spacingAndGlyphs" transform="rotate(-90 273.30 555.40)" >[arb. units]</text>
<text x="432.50" y="466.00" font-size="13.50" font-weight="700" textLength="62.00" lengthAdjust="spacingAndGlyphs" >5[Sb<tspan font-size="9.58" dy="3.24">2</tspan><tspan dy="-3.24">&#8203;</tspan>Te<tspan font-size="9.58" dy="3.24">3</tspan><tspan dy="-3.24">&#8203;</tspan>]-</text>
<text x="430.00" y="497.00" font-size="13.50" font-weight="700" textLength="79.50" lengthAdjust="spacingAndGlyphs" >Ge-Te-Te-Ge</text>
<text x="428.40" y="579.60" font-size="13.50" font-weight="700" textLength="77.60" lengthAdjust="spacingAndGlyphs" >Te-Ge-Ge-Te</text>
<text x="430.00" y="671.25" font-size="13.50" font-weight="700" textLength="79.50" lengthAdjust="spacingAndGlyphs" >Ge-Te-Ge-Te</text>
</g>
</svg>
</body>
</html>
